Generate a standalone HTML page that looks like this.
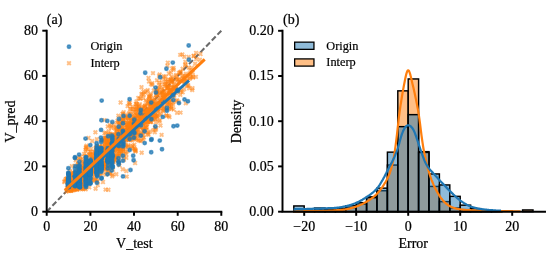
<!DOCTYPE html>
<html><head><meta charset="utf-8"><title>figure</title>
<style>html,body{margin:0;padding:0;background:#fff;overflow:hidden}body{width:550px;height:255px;position:relative}</style>
</head><body>
<svg width="550" height="255" viewBox="0 0 550 255" style="display:block;position:absolute;left:0;top:0">
<rect width="550" height="255" fill="#fff"/>
<path d="M46.7,211.7L221.3,30.7" stroke="#6a6a6a" stroke-width="2.05" stroke-dasharray="5.6,2.6" fill="none"/>
<g fill="none" stroke="#ff7f0e" stroke-opacity="0.5" stroke-width="1.9">
<path d="M143.2,119.3m-1.8-1.8l3.6 3.6m-3.6 0l3.6-3.6"/>
<path d="M76.7,175.2m-1.8-1.8l3.6 3.6m-3.6 0l3.6-3.6"/>
<path d="M89.1,169.9m-1.8-1.8l3.6 3.6m-3.6 0l3.6-3.6"/>
<path d="M133.2,135.5m-1.8-1.8l3.6 3.6m-3.6 0l3.6-3.6"/>
<path d="M121.7,134.5m-1.8-1.8l3.6 3.6m-3.6 0l3.6-3.6"/>
<path d="M121.6,151.6m-1.8-1.8l3.6 3.6m-3.6 0l3.6-3.6"/>
<path d="M128.7,124.4m-1.8-1.8l3.6 3.6m-3.6 0l3.6-3.6"/>
<path d="M117.1,153.3m-1.8-1.8l3.6 3.6m-3.6 0l3.6-3.6"/>
<path d="M120.1,128.3m-1.8-1.8l3.6 3.6m-3.6 0l3.6-3.6"/>
<path d="M103.9,158.0m-1.8-1.8l3.6 3.6m-3.6 0l3.6-3.6"/>
<path d="M75.1,165.8m-1.8-1.8l3.6 3.6m-3.6 0l3.6-3.6"/>
<path d="M133.2,119.3m-1.8-1.8l3.6 3.6m-3.6 0l3.6-3.6"/>
<path d="M99.7,146.0m-1.8-1.8l3.6 3.6m-3.6 0l3.6-3.6"/>
<path d="M131.2,134.6m-1.8-1.8l3.6 3.6m-3.6 0l3.6-3.6"/>
<path d="M119.8,137.4m-1.8-1.8l3.6 3.6m-3.6 0l3.6-3.6"/>
<path d="M85.7,165.5m-1.8-1.8l3.6 3.6m-3.6 0l3.6-3.6"/>
<path d="M128.3,146.6m-1.8-1.8l3.6 3.6m-3.6 0l3.6-3.6"/>
<path d="M125.7,143.0m-1.8-1.8l3.6 3.6m-3.6 0l3.6-3.6"/>
<path d="M132.0,120.1m-1.8-1.8l3.6 3.6m-3.6 0l3.6-3.6"/>
<path d="M156.6,116.3m-1.8-1.8l3.6 3.6m-3.6 0l3.6-3.6"/>
<path d="M129.6,136.7m-1.8-1.8l3.6 3.6m-3.6 0l3.6-3.6"/>
<path d="M123.1,150.5m-1.8-1.8l3.6 3.6m-3.6 0l3.6-3.6"/>
<path d="M119.7,149.2m-1.8-1.8l3.6 3.6m-3.6 0l3.6-3.6"/>
<path d="M85.8,177.9m-1.8-1.8l3.6 3.6m-3.6 0l3.6-3.6"/>
<path d="M168.6,115.9m-1.8-1.8l3.6 3.6m-3.6 0l3.6-3.6"/>
<path d="M159.6,113.7m-1.8-1.8l3.6 3.6m-3.6 0l3.6-3.6"/>
<path d="M155.5,119.1m-1.8-1.8l3.6 3.6m-3.6 0l3.6-3.6"/>
<path d="M82.9,159.4m-1.8-1.8l3.6 3.6m-3.6 0l3.6-3.6"/>
<path d="M166.3,115.4m-1.8-1.8l3.6 3.6m-3.6 0l3.6-3.6"/>
<path d="M88.5,178.9m-1.8-1.8l3.6 3.6m-3.6 0l3.6-3.6"/>
<path d="M105.6,132.7m-1.8-1.8l3.6 3.6m-3.6 0l3.6-3.6"/>
<path d="M127.6,122.9m-1.8-1.8l3.6 3.6m-3.6 0l3.6-3.6"/>
<path d="M81.9,175.7m-1.8-1.8l3.6 3.6m-3.6 0l3.6-3.6"/>
<path d="M176.4,78.0m-1.8-1.8l3.6 3.6m-3.6 0l3.6-3.6"/>
<path d="M116.6,137.7m-1.8-1.8l3.6 3.6m-3.6 0l3.6-3.6"/>
<path d="M135.6,132.5m-1.8-1.8l3.6 3.6m-3.6 0l3.6-3.6"/>
<path d="M134.3,144.7m-1.8-1.8l3.6 3.6m-3.6 0l3.6-3.6"/>
<path d="M131.3,138.1m-1.8-1.8l3.6 3.6m-3.6 0l3.6-3.6"/>
<path d="M83.0,173.3m-1.8-1.8l3.6 3.6m-3.6 0l3.6-3.6"/>
<path d="M92.7,164.3m-1.8-1.8l3.6 3.6m-3.6 0l3.6-3.6"/>
<path d="M99.9,164.4m-1.8-1.8l3.6 3.6m-3.6 0l3.6-3.6"/>
<path d="M118.7,129.2m-1.8-1.8l3.6 3.6m-3.6 0l3.6-3.6"/>
<path d="M150.7,121.7m-1.8-1.8l3.6 3.6m-3.6 0l3.6-3.6"/>
<path d="M119.5,129.3m-1.8-1.8l3.6 3.6m-3.6 0l3.6-3.6"/>
<path d="M77.2,182.4m-1.8-1.8l3.6 3.6m-3.6 0l3.6-3.6"/>
<path d="M104.0,154.9m-1.8-1.8l3.6 3.6m-3.6 0l3.6-3.6"/>
<path d="M71.2,190.8m-1.8-1.8l3.6 3.6m-3.6 0l3.6-3.6"/>
<path d="M105.8,151.9m-1.8-1.8l3.6 3.6m-3.6 0l3.6-3.6"/>
<path d="M98.4,166.2m-1.8-1.8l3.6 3.6m-3.6 0l3.6-3.6"/>
<path d="M117.6,120.7m-1.8-1.8l3.6 3.6m-3.6 0l3.6-3.6"/>
<path d="M103.0,154.7m-1.8-1.8l3.6 3.6m-3.6 0l3.6-3.6"/>
<path d="M96.9,139.2m-1.8-1.8l3.6 3.6m-3.6 0l3.6-3.6"/>
<path d="M143.8,107.1m-1.8-1.8l3.6 3.6m-3.6 0l3.6-3.6"/>
<path d="M169.5,117.1m-1.8-1.8l3.6 3.6m-3.6 0l3.6-3.6"/>
<path d="M124.7,145.5m-1.8-1.8l3.6 3.6m-3.6 0l3.6-3.6"/>
<path d="M114.4,150.3m-1.8-1.8l3.6 3.6m-3.6 0l3.6-3.6"/>
<path d="M177.1,112.8m-1.8-1.8l3.6 3.6m-3.6 0l3.6-3.6"/>
<path d="M182.7,92.4m-1.8-1.8l3.6 3.6m-3.6 0l3.6-3.6"/>
<path d="M67.0,179.3m-1.8-1.8l3.6 3.6m-3.6 0l3.6-3.6"/>
<path d="M104.5,138.3m-1.8-1.8l3.6 3.6m-3.6 0l3.6-3.6"/>
<path d="M104.9,145.3m-1.8-1.8l3.6 3.6m-3.6 0l3.6-3.6"/>
<path d="M129.2,126.6m-1.8-1.8l3.6 3.6m-3.6 0l3.6-3.6"/>
<path d="M199.9,59.8m-1.8-1.8l3.6 3.6m-3.6 0l3.6-3.6"/>
<path d="M68.8,183.1m-1.8-1.8l3.6 3.6m-3.6 0l3.6-3.6"/>
<path d="M70.4,183.5m-1.8-1.8l3.6 3.6m-3.6 0l3.6-3.6"/>
<path d="M171.8,99.8m-1.8-1.8l3.6 3.6m-3.6 0l3.6-3.6"/>
<path d="M120.4,125.1m-1.8-1.8l3.6 3.6m-3.6 0l3.6-3.6"/>
<path d="M99.6,146.6m-1.8-1.8l3.6 3.6m-3.6 0l3.6-3.6"/>
<path d="M111.1,144.4m-1.8-1.8l3.6 3.6m-3.6 0l3.6-3.6"/>
<path d="M76.1,182.1m-1.8-1.8l3.6 3.6m-3.6 0l3.6-3.6"/>
<path d="M139.6,124.5m-1.8-1.8l3.6 3.6m-3.6 0l3.6-3.6"/>
<path d="M83.1,187.7m-1.8-1.8l3.6 3.6m-3.6 0l3.6-3.6"/>
<path d="M104.5,120.1m-1.8-1.8l3.6 3.6m-3.6 0l3.6-3.6"/>
<path d="M105.7,141.4m-1.8-1.8l3.6 3.6m-3.6 0l3.6-3.6"/>
<path d="M155.9,103.3m-1.8-1.8l3.6 3.6m-3.6 0l3.6-3.6"/>
<path d="M130.2,134.1m-1.8-1.8l3.6 3.6m-3.6 0l3.6-3.6"/>
<path d="M83.4,174.7m-1.8-1.8l3.6 3.6m-3.6 0l3.6-3.6"/>
<path d="M131.0,109.2m-1.8-1.8l3.6 3.6m-3.6 0l3.6-3.6"/>
<path d="M96.1,155.6m-1.8-1.8l3.6 3.6m-3.6 0l3.6-3.6"/>
<path d="M111.4,153.9m-1.8-1.8l3.6 3.6m-3.6 0l3.6-3.6"/>
<path d="M149.1,96.1m-1.8-1.8l3.6 3.6m-3.6 0l3.6-3.6"/>
<path d="M90.3,179.6m-1.8-1.8l3.6 3.6m-3.6 0l3.6-3.6"/>
<path d="M110.7,133.8m-1.8-1.8l3.6 3.6m-3.6 0l3.6-3.6"/>
<path d="M154.6,103.2m-1.8-1.8l3.6 3.6m-3.6 0l3.6-3.6"/>
<path d="M83.1,174.8m-1.8-1.8l3.6 3.6m-3.6 0l3.6-3.6"/>
<path d="M163.9,91.1m-1.8-1.8l3.6 3.6m-3.6 0l3.6-3.6"/>
<path d="M136.2,107.2m-1.8-1.8l3.6 3.6m-3.6 0l3.6-3.6"/>
<path d="M91.2,169.6m-1.8-1.8l3.6 3.6m-3.6 0l3.6-3.6"/>
<path d="M103.8,163.4m-1.8-1.8l3.6 3.6m-3.6 0l3.6-3.6"/>
<path d="M152.2,84.9m-1.8-1.8l3.6 3.6m-3.6 0l3.6-3.6"/>
<path d="M137.4,122.2m-1.8-1.8l3.6 3.6m-3.6 0l3.6-3.6"/>
<path d="M129.6,112.9m-1.8-1.8l3.6 3.6m-3.6 0l3.6-3.6"/>
<path d="M131.5,135.4m-1.8-1.8l3.6 3.6m-3.6 0l3.6-3.6"/>
<path d="M116.9,137.4m-1.8-1.8l3.6 3.6m-3.6 0l3.6-3.6"/>
<path d="M132.1,134.4m-1.8-1.8l3.6 3.6m-3.6 0l3.6-3.6"/>
<path d="M85.8,151.0m-1.8-1.8l3.6 3.6m-3.6 0l3.6-3.6"/>
<path d="M184.0,81.7m-1.8-1.8l3.6 3.6m-3.6 0l3.6-3.6"/>
<path d="M80.3,156.9m-1.8-1.8l3.6 3.6m-3.6 0l3.6-3.6"/>
<path d="M123.7,117.8m-1.8-1.8l3.6 3.6m-3.6 0l3.6-3.6"/>
<path d="M118.5,136.3m-1.8-1.8l3.6 3.6m-3.6 0l3.6-3.6"/>
<path d="M153.4,130.1m-1.8-1.8l3.6 3.6m-3.6 0l3.6-3.6"/>
<path d="M146.7,116.2m-1.8-1.8l3.6 3.6m-3.6 0l3.6-3.6"/>
<path d="M138.5,132.3m-1.8-1.8l3.6 3.6m-3.6 0l3.6-3.6"/>
<path d="M173.3,102.3m-1.8-1.8l3.6 3.6m-3.6 0l3.6-3.6"/>
<path d="M80.1,180.7m-1.8-1.8l3.6 3.6m-3.6 0l3.6-3.6"/>
<path d="M69.7,175.2m-1.8-1.8l3.6 3.6m-3.6 0l3.6-3.6"/>
<path d="M138.7,120.7m-1.8-1.8l3.6 3.6m-3.6 0l3.6-3.6"/>
<path d="M111.3,155.0m-1.8-1.8l3.6 3.6m-3.6 0l3.6-3.6"/>
<path d="M166.6,115.8m-1.8-1.8l3.6 3.6m-3.6 0l3.6-3.6"/>
<path d="M142.7,123.4m-1.8-1.8l3.6 3.6m-3.6 0l3.6-3.6"/>
<path d="M141.4,108.7m-1.8-1.8l3.6 3.6m-3.6 0l3.6-3.6"/>
<path d="M109.3,162.6m-1.8-1.8l3.6 3.6m-3.6 0l3.6-3.6"/>
<path d="M89.6,161.7m-1.8-1.8l3.6 3.6m-3.6 0l3.6-3.6"/>
<path d="M76.6,175.8m-1.8-1.8l3.6 3.6m-3.6 0l3.6-3.6"/>
<path d="M173.8,93.3m-1.8-1.8l3.6 3.6m-3.6 0l3.6-3.6"/>
<path d="M103.8,150.8m-1.8-1.8l3.6 3.6m-3.6 0l3.6-3.6"/>
<path d="M112.9,153.2m-1.8-1.8l3.6 3.6m-3.6 0l3.6-3.6"/>
<path d="M131.7,132.2m-1.8-1.8l3.6 3.6m-3.6 0l3.6-3.6"/>
<path d="M143.6,128.0m-1.8-1.8l3.6 3.6m-3.6 0l3.6-3.6"/>
<path d="M139.6,115.0m-1.8-1.8l3.6 3.6m-3.6 0l3.6-3.6"/>
<path d="M158.1,87.6m-1.8-1.8l3.6 3.6m-3.6 0l3.6-3.6"/>
<path d="M104.1,160.2m-1.8-1.8l3.6 3.6m-3.6 0l3.6-3.6"/>
<path d="M137.5,108.8m-1.8-1.8l3.6 3.6m-3.6 0l3.6-3.6"/>
<path d="M168.6,109.3m-1.8-1.8l3.6 3.6m-3.6 0l3.6-3.6"/>
<path d="M85.3,167.5m-1.8-1.8l3.6 3.6m-3.6 0l3.6-3.6"/>
<path d="M108.1,160.0m-1.8-1.8l3.6 3.6m-3.6 0l3.6-3.6"/>
<path d="M165.6,76.8m-1.8-1.8l3.6 3.6m-3.6 0l3.6-3.6"/>
<path d="M90.8,171.2m-1.8-1.8l3.6 3.6m-3.6 0l3.6-3.6"/>
<path d="M101.3,158.1m-1.8-1.8l3.6 3.6m-3.6 0l3.6-3.6"/>
<path d="M155.8,128.1m-1.8-1.8l3.6 3.6m-3.6 0l3.6-3.6"/>
<path d="M153.0,106.5m-1.8-1.8l3.6 3.6m-3.6 0l3.6-3.6"/>
<path d="M162.3,92.7m-1.8-1.8l3.6 3.6m-3.6 0l3.6-3.6"/>
<path d="M113.6,145.1m-1.8-1.8l3.6 3.6m-3.6 0l3.6-3.6"/>
<path d="M180.5,112.6m-1.8-1.8l3.6 3.6m-3.6 0l3.6-3.6"/>
<path d="M179.3,81.5m-1.8-1.8l3.6 3.6m-3.6 0l3.6-3.6"/>
<path d="M144.8,106.3m-1.8-1.8l3.6 3.6m-3.6 0l3.6-3.6"/>
<path d="M111.2,127.9m-1.8-1.8l3.6 3.6m-3.6 0l3.6-3.6"/>
<path d="M87.4,165.8m-1.8-1.8l3.6 3.6m-3.6 0l3.6-3.6"/>
<path d="M159.8,120.4m-1.8-1.8l3.6 3.6m-3.6 0l3.6-3.6"/>
<path d="M156.3,107.1m-1.8-1.8l3.6 3.6m-3.6 0l3.6-3.6"/>
<path d="M148.9,101.4m-1.8-1.8l3.6 3.6m-3.6 0l3.6-3.6"/>
<path d="M71.2,190.4m-1.8-1.8l3.6 3.6m-3.6 0l3.6-3.6"/>
<path d="M90.2,161.6m-1.8-1.8l3.6 3.6m-3.6 0l3.6-3.6"/>
<path d="M92.3,160.2m-1.8-1.8l3.6 3.6m-3.6 0l3.6-3.6"/>
<path d="M97.4,159.0m-1.8-1.8l3.6 3.6m-3.6 0l3.6-3.6"/>
<path d="M150.6,101.5m-1.8-1.8l3.6 3.6m-3.6 0l3.6-3.6"/>
<path d="M140.4,127.6m-1.8-1.8l3.6 3.6m-3.6 0l3.6-3.6"/>
<path d="M86.5,145.8m-1.8-1.8l3.6 3.6m-3.6 0l3.6-3.6"/>
<path d="M144.3,129.3m-1.8-1.8l3.6 3.6m-3.6 0l3.6-3.6"/>
<path d="M150.1,106.6m-1.8-1.8l3.6 3.6m-3.6 0l3.6-3.6"/>
<path d="M112.2,176.3m-1.8-1.8l3.6 3.6m-3.6 0l3.6-3.6"/>
<path d="M77.9,177.6m-1.8-1.8l3.6 3.6m-3.6 0l3.6-3.6"/>
<path d="M95.7,163.9m-1.8-1.8l3.6 3.6m-3.6 0l3.6-3.6"/>
<path d="M69.0,185.1m-1.8-1.8l3.6 3.6m-3.6 0l3.6-3.6"/>
<path d="M156.4,110.5m-1.8-1.8l3.6 3.6m-3.6 0l3.6-3.6"/>
<path d="M131.8,124.4m-1.8-1.8l3.6 3.6m-3.6 0l3.6-3.6"/>
<path d="M140.3,120.6m-1.8-1.8l3.6 3.6m-3.6 0l3.6-3.6"/>
<path d="M69.7,178.1m-1.8-1.8l3.6 3.6m-3.6 0l3.6-3.6"/>
<path d="M73.6,176.0m-1.8-1.8l3.6 3.6m-3.6 0l3.6-3.6"/>
<path d="M176.2,89.5m-1.8-1.8l3.6 3.6m-3.6 0l3.6-3.6"/>
<path d="M114.9,144.2m-1.8-1.8l3.6 3.6m-3.6 0l3.6-3.6"/>
<path d="M106.8,144.9m-1.8-1.8l3.6 3.6m-3.6 0l3.6-3.6"/>
<path d="M86.3,180.8m-1.8-1.8l3.6 3.6m-3.6 0l3.6-3.6"/>
<path d="M122.6,129.6m-1.8-1.8l3.6 3.6m-3.6 0l3.6-3.6"/>
<path d="M130.0,132.7m-1.8-1.8l3.6 3.6m-3.6 0l3.6-3.6"/>
<path d="M142.6,123.2m-1.8-1.8l3.6 3.6m-3.6 0l3.6-3.6"/>
<path d="M153.5,108.9m-1.8-1.8l3.6 3.6m-3.6 0l3.6-3.6"/>
<path d="M166.7,84.0m-1.8-1.8l3.6 3.6m-3.6 0l3.6-3.6"/>
<path d="M73.9,177.7m-1.8-1.8l3.6 3.6m-3.6 0l3.6-3.6"/>
<path d="M171.0,81.6m-1.8-1.8l3.6 3.6m-3.6 0l3.6-3.6"/>
<path d="M79.0,182.6m-1.8-1.8l3.6 3.6m-3.6 0l3.6-3.6"/>
<path d="M145.9,117.7m-1.8-1.8l3.6 3.6m-3.6 0l3.6-3.6"/>
<path d="M71.0,189.1m-1.8-1.8l3.6 3.6m-3.6 0l3.6-3.6"/>
<path d="M86.3,177.7m-1.8-1.8l3.6 3.6m-3.6 0l3.6-3.6"/>
<path d="M77.4,181.7m-1.8-1.8l3.6 3.6m-3.6 0l3.6-3.6"/>
<path d="M101.8,160.3m-1.8-1.8l3.6 3.6m-3.6 0l3.6-3.6"/>
<path d="M141.8,110.2m-1.8-1.8l3.6 3.6m-3.6 0l3.6-3.6"/>
<path d="M134.3,120.5m-1.8-1.8l3.6 3.6m-3.6 0l3.6-3.6"/>
<path d="M134.5,116.5m-1.8-1.8l3.6 3.6m-3.6 0l3.6-3.6"/>
<path d="M82.2,173.1m-1.8-1.8l3.6 3.6m-3.6 0l3.6-3.6"/>
<path d="M148.5,99.9m-1.8-1.8l3.6 3.6m-3.6 0l3.6-3.6"/>
<path d="M119.0,138.3m-1.8-1.8l3.6 3.6m-3.6 0l3.6-3.6"/>
<path d="M78.9,172.4m-1.8-1.8l3.6 3.6m-3.6 0l3.6-3.6"/>
<path d="M130.9,122.8m-1.8-1.8l3.6 3.6m-3.6 0l3.6-3.6"/>
<path d="M163.3,94.9m-1.8-1.8l3.6 3.6m-3.6 0l3.6-3.6"/>
<path d="M140.5,120.2m-1.8-1.8l3.6 3.6m-3.6 0l3.6-3.6"/>
<path d="M76.5,189.0m-1.8-1.8l3.6 3.6m-3.6 0l3.6-3.6"/>
<path d="M105.9,166.4m-1.8-1.8l3.6 3.6m-3.6 0l3.6-3.6"/>
<path d="M111.5,126.2m-1.8-1.8l3.6 3.6m-3.6 0l3.6-3.6"/>
<path d="M104.8,149.0m-1.8-1.8l3.6 3.6m-3.6 0l3.6-3.6"/>
<path d="M135.7,118.9m-1.8-1.8l3.6 3.6m-3.6 0l3.6-3.6"/>
<path d="M116.7,143.6m-1.8-1.8l3.6 3.6m-3.6 0l3.6-3.6"/>
<path d="M157.4,108.8m-1.8-1.8l3.6 3.6m-3.6 0l3.6-3.6"/>
<path d="M182.3,54.4m-1.8-1.8l3.6 3.6m-3.6 0l3.6-3.6"/>
<path d="M96.0,171.5m-1.8-1.8l3.6 3.6m-3.6 0l3.6-3.6"/>
<path d="M71.2,184.9m-1.8-1.8l3.6 3.6m-3.6 0l3.6-3.6"/>
<path d="M115.2,143.7m-1.8-1.8l3.6 3.6m-3.6 0l3.6-3.6"/>
<path d="M83.3,182.5m-1.8-1.8l3.6 3.6m-3.6 0l3.6-3.6"/>
<path d="M119.4,165.3m-1.8-1.8l3.6 3.6m-3.6 0l3.6-3.6"/>
<path d="M108.1,160.5m-1.8-1.8l3.6 3.6m-3.6 0l3.6-3.6"/>
<path d="M171.6,94.2m-1.8-1.8l3.6 3.6m-3.6 0l3.6-3.6"/>
<path d="M71.1,188.1m-1.8-1.8l3.6 3.6m-3.6 0l3.6-3.6"/>
<path d="M80.7,168.9m-1.8-1.8l3.6 3.6m-3.6 0l3.6-3.6"/>
<path d="M155.4,118.8m-1.8-1.8l3.6 3.6m-3.6 0l3.6-3.6"/>
<path d="M104.6,149.1m-1.8-1.8l3.6 3.6m-3.6 0l3.6-3.6"/>
<path d="M66.4,178.7m-1.8-1.8l3.6 3.6m-3.6 0l3.6-3.6"/>
<path d="M95.6,188.7m-1.8-1.8l3.6 3.6m-3.6 0l3.6-3.6"/>
<path d="M171.4,103.4m-1.8-1.8l3.6 3.6m-3.6 0l3.6-3.6"/>
<path d="M116.3,174.2m-1.8-1.8l3.6 3.6m-3.6 0l3.6-3.6"/>
<path d="M112.4,136.9m-1.8-1.8l3.6 3.6m-3.6 0l3.6-3.6"/>
<path d="M81.9,170.4m-1.8-1.8l3.6 3.6m-3.6 0l3.6-3.6"/>
<path d="M106.6,164.2m-1.8-1.8l3.6 3.6m-3.6 0l3.6-3.6"/>
<path d="M133.3,111.7m-1.8-1.8l3.6 3.6m-3.6 0l3.6-3.6"/>
<path d="M79.6,179.7m-1.8-1.8l3.6 3.6m-3.6 0l3.6-3.6"/>
<path d="M130.3,127.8m-1.8-1.8l3.6 3.6m-3.6 0l3.6-3.6"/>
<path d="M157.2,115.6m-1.8-1.8l3.6 3.6m-3.6 0l3.6-3.6"/>
<path d="M160.1,97.5m-1.8-1.8l3.6 3.6m-3.6 0l3.6-3.6"/>
<path d="M114.0,144.9m-1.8-1.8l3.6 3.6m-3.6 0l3.6-3.6"/>
<path d="M84.1,176.5m-1.8-1.8l3.6 3.6m-3.6 0l3.6-3.6"/>
<path d="M95.3,151.9m-1.8-1.8l3.6 3.6m-3.6 0l3.6-3.6"/>
<path d="M103.0,152.5m-1.8-1.8l3.6 3.6m-3.6 0l3.6-3.6"/>
<path d="M170.4,91.2m-1.8-1.8l3.6 3.6m-3.6 0l3.6-3.6"/>
<path d="M94.6,156.1m-1.8-1.8l3.6 3.6m-3.6 0l3.6-3.6"/>
<path d="M91.5,157.9m-1.8-1.8l3.6 3.6m-3.6 0l3.6-3.6"/>
<path d="M98.5,166.7m-1.8-1.8l3.6 3.6m-3.6 0l3.6-3.6"/>
<path d="M96.7,164.2m-1.8-1.8l3.6 3.6m-3.6 0l3.6-3.6"/>
<path d="M95.2,161.4m-1.8-1.8l3.6 3.6m-3.6 0l3.6-3.6"/>
<path d="M137.4,125.2m-1.8-1.8l3.6 3.6m-3.6 0l3.6-3.6"/>
<path d="M82.4,172.9m-1.8-1.8l3.6 3.6m-3.6 0l3.6-3.6"/>
<path d="M92.0,159.1m-1.8-1.8l3.6 3.6m-3.6 0l3.6-3.6"/>
<path d="M104.4,158.2m-1.8-1.8l3.6 3.6m-3.6 0l3.6-3.6"/>
<path d="M138.3,98.0m-1.8-1.8l3.6 3.6m-3.6 0l3.6-3.6"/>
<path d="M157.7,111.4m-1.8-1.8l3.6 3.6m-3.6 0l3.6-3.6"/>
<path d="M117.1,147.2m-1.8-1.8l3.6 3.6m-3.6 0l3.6-3.6"/>
<path d="M143.6,94.3m-1.8-1.8l3.6 3.6m-3.6 0l3.6-3.6"/>
<path d="M159.7,74.5m-1.8-1.8l3.6 3.6m-3.6 0l3.6-3.6"/>
<path d="M163.4,97.6m-1.8-1.8l3.6 3.6m-3.6 0l3.6-3.6"/>
<path d="M159.8,103.5m-1.8-1.8l3.6 3.6m-3.6 0l3.6-3.6"/>
<path d="M88.5,177.5m-1.8-1.8l3.6 3.6m-3.6 0l3.6-3.6"/>
<path d="M196.2,59.0m-1.8-1.8l3.6 3.6m-3.6 0l3.6-3.6"/>
<path d="M172.3,87.9m-1.8-1.8l3.6 3.6m-3.6 0l3.6-3.6"/>
<path d="M90.9,173.4m-1.8-1.8l3.6 3.6m-3.6 0l3.6-3.6"/>
<path d="M99.1,173.4m-1.8-1.8l3.6 3.6m-3.6 0l3.6-3.6"/>
<path d="M120.4,123.0m-1.8-1.8l3.6 3.6m-3.6 0l3.6-3.6"/>
<path d="M109.9,141.0m-1.8-1.8l3.6 3.6m-3.6 0l3.6-3.6"/>
<path d="M150.7,104.6m-1.8-1.8l3.6 3.6m-3.6 0l3.6-3.6"/>
<path d="M116.9,129.0m-1.8-1.8l3.6 3.6m-3.6 0l3.6-3.6"/>
<path d="M135.4,119.2m-1.8-1.8l3.6 3.6m-3.6 0l3.6-3.6"/>
<path d="M109.2,157.9m-1.8-1.8l3.6 3.6m-3.6 0l3.6-3.6"/>
<path d="M81.0,170.7m-1.8-1.8l3.6 3.6m-3.6 0l3.6-3.6"/>
<path d="M71.6,175.1m-1.8-1.8l3.6 3.6m-3.6 0l3.6-3.6"/>
<path d="M139.9,110.3m-1.8-1.8l3.6 3.6m-3.6 0l3.6-3.6"/>
<path d="M104.7,142.5m-1.8-1.8l3.6 3.6m-3.6 0l3.6-3.6"/>
<path d="M131.2,125.7m-1.8-1.8l3.6 3.6m-3.6 0l3.6-3.6"/>
<path d="M87.3,162.7m-1.8-1.8l3.6 3.6m-3.6 0l3.6-3.6"/>
<path d="M136.4,109.6m-1.8-1.8l3.6 3.6m-3.6 0l3.6-3.6"/>
<path d="M128.6,132.5m-1.8-1.8l3.6 3.6m-3.6 0l3.6-3.6"/>
<path d="M169.4,107.1m-1.8-1.8l3.6 3.6m-3.6 0l3.6-3.6"/>
<path d="M90.1,164.2m-1.8-1.8l3.6 3.6m-3.6 0l3.6-3.6"/>
<path d="M167.8,87.5m-1.8-1.8l3.6 3.6m-3.6 0l3.6-3.6"/>
<path d="M162.0,104.3m-1.8-1.8l3.6 3.6m-3.6 0l3.6-3.6"/>
<path d="M93.4,161.4m-1.8-1.8l3.6 3.6m-3.6 0l3.6-3.6"/>
<path d="M97.3,162.2m-1.8-1.8l3.6 3.6m-3.6 0l3.6-3.6"/>
<path d="M107.4,167.8m-1.8-1.8l3.6 3.6m-3.6 0l3.6-3.6"/>
<path d="M104.9,154.7m-1.8-1.8l3.6 3.6m-3.6 0l3.6-3.6"/>
<path d="M146.3,130.2m-1.8-1.8l3.6 3.6m-3.6 0l3.6-3.6"/>
<path d="M99.8,155.7m-1.8-1.8l3.6 3.6m-3.6 0l3.6-3.6"/>
<path d="M128.9,131.6m-1.8-1.8l3.6 3.6m-3.6 0l3.6-3.6"/>
<path d="M94.5,152.2m-1.8-1.8l3.6 3.6m-3.6 0l3.6-3.6"/>
<path d="M99.9,158.7m-1.8-1.8l3.6 3.6m-3.6 0l3.6-3.6"/>
<path d="M108.7,145.4m-1.8-1.8l3.6 3.6m-3.6 0l3.6-3.6"/>
<path d="M165.1,99.8m-1.8-1.8l3.6 3.6m-3.6 0l3.6-3.6"/>
<path d="M103.9,157.5m-1.8-1.8l3.6 3.6m-3.6 0l3.6-3.6"/>
<path d="M119.0,155.0m-1.8-1.8l3.6 3.6m-3.6 0l3.6-3.6"/>
<path d="M171.5,76.7m-1.8-1.8l3.6 3.6m-3.6 0l3.6-3.6"/>
<path d="M73.3,181.2m-1.8-1.8l3.6 3.6m-3.6 0l3.6-3.6"/>
<path d="M115.7,149.0m-1.8-1.8l3.6 3.6m-3.6 0l3.6-3.6"/>
<path d="M116.6,139.6m-1.8-1.8l3.6 3.6m-3.6 0l3.6-3.6"/>
<path d="M132.2,132.0m-1.8-1.8l3.6 3.6m-3.6 0l3.6-3.6"/>
<path d="M80.7,181.3m-1.8-1.8l3.6 3.6m-3.6 0l3.6-3.6"/>
<path d="M90.5,164.1m-1.8-1.8l3.6 3.6m-3.6 0l3.6-3.6"/>
<path d="M98.1,155.2m-1.8-1.8l3.6 3.6m-3.6 0l3.6-3.6"/>
<path d="M118.1,143.4m-1.8-1.8l3.6 3.6m-3.6 0l3.6-3.6"/>
<path d="M85.9,147.3m-1.8-1.8l3.6 3.6m-3.6 0l3.6-3.6"/>
<path d="M112.6,152.1m-1.8-1.8l3.6 3.6m-3.6 0l3.6-3.6"/>
<path d="M168.9,73.5m-1.8-1.8l3.6 3.6m-3.6 0l3.6-3.6"/>
<path d="M94.5,170.0m-1.8-1.8l3.6 3.6m-3.6 0l3.6-3.6"/>
<path d="M161.2,86.6m-1.8-1.8l3.6 3.6m-3.6 0l3.6-3.6"/>
<path d="M140.1,122.6m-1.8-1.8l3.6 3.6m-3.6 0l3.6-3.6"/>
<path d="M148.8,103.3m-1.8-1.8l3.6 3.6m-3.6 0l3.6-3.6"/>
<path d="M164.4,98.3m-1.8-1.8l3.6 3.6m-3.6 0l3.6-3.6"/>
<path d="M96.9,147.6m-1.8-1.8l3.6 3.6m-3.6 0l3.6-3.6"/>
<path d="M128.1,134.6m-1.8-1.8l3.6 3.6m-3.6 0l3.6-3.6"/>
<path d="M146.9,91.5m-1.8-1.8l3.6 3.6m-3.6 0l3.6-3.6"/>
<path d="M124.8,135.6m-1.8-1.8l3.6 3.6m-3.6 0l3.6-3.6"/>
<path d="M105.2,146.9m-1.8-1.8l3.6 3.6m-3.6 0l3.6-3.6"/>
<path d="M77.9,180.8m-1.8-1.8l3.6 3.6m-3.6 0l3.6-3.6"/>
<path d="M169.8,93.5m-1.8-1.8l3.6 3.6m-3.6 0l3.6-3.6"/>
<path d="M128.6,127.0m-1.8-1.8l3.6 3.6m-3.6 0l3.6-3.6"/>
<path d="M127.3,126.4m-1.8-1.8l3.6 3.6m-3.6 0l3.6-3.6"/>
<path d="M118.4,115.7m-1.8-1.8l3.6 3.6m-3.6 0l3.6-3.6"/>
<path d="M130.9,128.7m-1.8-1.8l3.6 3.6m-3.6 0l3.6-3.6"/>
<path d="M143.2,118.9m-1.8-1.8l3.6 3.6m-3.6 0l3.6-3.6"/>
<path d="M81.9,179.8m-1.8-1.8l3.6 3.6m-3.6 0l3.6-3.6"/>
<path d="M102.0,168.3m-1.8-1.8l3.6 3.6m-3.6 0l3.6-3.6"/>
<path d="M91.3,179.9m-1.8-1.8l3.6 3.6m-3.6 0l3.6-3.6"/>
<path d="M159.9,93.8m-1.8-1.8l3.6 3.6m-3.6 0l3.6-3.6"/>
<path d="M124.0,156.0m-1.8-1.8l3.6 3.6m-3.6 0l3.6-3.6"/>
<path d="M122.1,120.8m-1.8-1.8l3.6 3.6m-3.6 0l3.6-3.6"/>
<path d="M83.1,166.1m-1.8-1.8l3.6 3.6m-3.6 0l3.6-3.6"/>
<path d="M150.7,113.3m-1.8-1.8l3.6 3.6m-3.6 0l3.6-3.6"/>
<path d="M72.7,190.3m-1.8-1.8l3.6 3.6m-3.6 0l3.6-3.6"/>
<path d="M108.1,168.9m-1.8-1.8l3.6 3.6m-3.6 0l3.6-3.6"/>
<path d="M101.2,156.1m-1.8-1.8l3.6 3.6m-3.6 0l3.6-3.6"/>
<path d="M99.5,147.1m-1.8-1.8l3.6 3.6m-3.6 0l3.6-3.6"/>
<path d="M85.4,177.3m-1.8-1.8l3.6 3.6m-3.6 0l3.6-3.6"/>
<path d="M106.6,155.0m-1.8-1.8l3.6 3.6m-3.6 0l3.6-3.6"/>
<path d="M91.1,166.2m-1.8-1.8l3.6 3.6m-3.6 0l3.6-3.6"/>
<path d="M138.7,124.2m-1.8-1.8l3.6 3.6m-3.6 0l3.6-3.6"/>
<path d="M152.5,115.3m-1.8-1.8l3.6 3.6m-3.6 0l3.6-3.6"/>
<path d="M167.0,95.3m-1.8-1.8l3.6 3.6m-3.6 0l3.6-3.6"/>
<path d="M121.2,155.9m-1.8-1.8l3.6 3.6m-3.6 0l3.6-3.6"/>
<path d="M148.8,119.3m-1.8-1.8l3.6 3.6m-3.6 0l3.6-3.6"/>
<path d="M140.5,122.0m-1.8-1.8l3.6 3.6m-3.6 0l3.6-3.6"/>
<path d="M135.0,113.3m-1.8-1.8l3.6 3.6m-3.6 0l3.6-3.6"/>
<path d="M159.1,75.9m-1.8-1.8l3.6 3.6m-3.6 0l3.6-3.6"/>
<path d="M86.4,155.6m-1.8-1.8l3.6 3.6m-3.6 0l3.6-3.6"/>
<path d="M104.7,149.1m-1.8-1.8l3.6 3.6m-3.6 0l3.6-3.6"/>
<path d="M163.9,76.3m-1.8-1.8l3.6 3.6m-3.6 0l3.6-3.6"/>
<path d="M86.2,171.3m-1.8-1.8l3.6 3.6m-3.6 0l3.6-3.6"/>
<path d="M73.5,186.2m-1.8-1.8l3.6 3.6m-3.6 0l3.6-3.6"/>
<path d="M79.3,158.3m-1.8-1.8l3.6 3.6m-3.6 0l3.6-3.6"/>
<path d="M105.9,162.6m-1.8-1.8l3.6 3.6m-3.6 0l3.6-3.6"/>
<path d="M142.1,122.6m-1.8-1.8l3.6 3.6m-3.6 0l3.6-3.6"/>
<path d="M106.2,162.9m-1.8-1.8l3.6 3.6m-3.6 0l3.6-3.6"/>
<path d="M104.8,138.3m-1.8-1.8l3.6 3.6m-3.6 0l3.6-3.6"/>
<path d="M126.6,139.2m-1.8-1.8l3.6 3.6m-3.6 0l3.6-3.6"/>
<path d="M99.9,150.0m-1.8-1.8l3.6 3.6m-3.6 0l3.6-3.6"/>
<path d="M126.1,137.5m-1.8-1.8l3.6 3.6m-3.6 0l3.6-3.6"/>
<path d="M157.8,117.1m-1.8-1.8l3.6 3.6m-3.6 0l3.6-3.6"/>
<path d="M168.5,90.6m-1.8-1.8l3.6 3.6m-3.6 0l3.6-3.6"/>
<path d="M92.8,162.6m-1.8-1.8l3.6 3.6m-3.6 0l3.6-3.6"/>
<path d="M73.8,189.3m-1.8-1.8l3.6 3.6m-3.6 0l3.6-3.6"/>
<path d="M150.0,120.3m-1.8-1.8l3.6 3.6m-3.6 0l3.6-3.6"/>
<path d="M70.7,190.6m-1.8-1.8l3.6 3.6m-3.6 0l3.6-3.6"/>
<path d="M119.6,128.3m-1.8-1.8l3.6 3.6m-3.6 0l3.6-3.6"/>
<path d="M130.1,123.9m-1.8-1.8l3.6 3.6m-3.6 0l3.6-3.6"/>
<path d="M94.3,160.6m-1.8-1.8l3.6 3.6m-3.6 0l3.6-3.6"/>
<path d="M96.1,156.4m-1.8-1.8l3.6 3.6m-3.6 0l3.6-3.6"/>
<path d="M93.9,167.4m-1.8-1.8l3.6 3.6m-3.6 0l3.6-3.6"/>
<path d="M151.0,104.2m-1.8-1.8l3.6 3.6m-3.6 0l3.6-3.6"/>
<path d="M164.8,103.4m-1.8-1.8l3.6 3.6m-3.6 0l3.6-3.6"/>
<path d="M176.4,100.9m-1.8-1.8l3.6 3.6m-3.6 0l3.6-3.6"/>
<path d="M134.4,133.1m-1.8-1.8l3.6 3.6m-3.6 0l3.6-3.6"/>
<path d="M143.5,114.3m-1.8-1.8l3.6 3.6m-3.6 0l3.6-3.6"/>
<path d="M127.5,130.6m-1.8-1.8l3.6 3.6m-3.6 0l3.6-3.6"/>
<path d="M87.0,160.5m-1.8-1.8l3.6 3.6m-3.6 0l3.6-3.6"/>
<path d="M192.2,90.1m-1.8-1.8l3.6 3.6m-3.6 0l3.6-3.6"/>
<path d="M117.8,143.1m-1.8-1.8l3.6 3.6m-3.6 0l3.6-3.6"/>
<path d="M127.1,127.5m-1.8-1.8l3.6 3.6m-3.6 0l3.6-3.6"/>
<path d="M156.2,115.6m-1.8-1.8l3.6 3.6m-3.6 0l3.6-3.6"/>
<path d="M125.9,130.3m-1.8-1.8l3.6 3.6m-3.6 0l3.6-3.6"/>
<path d="M170.1,96.3m-1.8-1.8l3.6 3.6m-3.6 0l3.6-3.6"/>
<path d="M163.3,110.8m-1.8-1.8l3.6 3.6m-3.6 0l3.6-3.6"/>
<path d="M176.3,74.9m-1.8-1.8l3.6 3.6m-3.6 0l3.6-3.6"/>
<path d="M107.0,164.9m-1.8-1.8l3.6 3.6m-3.6 0l3.6-3.6"/>
<path d="M180.3,94.8m-1.8-1.8l3.6 3.6m-3.6 0l3.6-3.6"/>
<path d="M118.2,144.9m-1.8-1.8l3.6 3.6m-3.6 0l3.6-3.6"/>
<path d="M135.2,135.0m-1.8-1.8l3.6 3.6m-3.6 0l3.6-3.6"/>
<path d="M85.8,178.2m-1.8-1.8l3.6 3.6m-3.6 0l3.6-3.6"/>
<path d="M120.1,146.7m-1.8-1.8l3.6 3.6m-3.6 0l3.6-3.6"/>
<path d="M107.5,158.9m-1.8-1.8l3.6 3.6m-3.6 0l3.6-3.6"/>
<path d="M148.5,78.0m-1.8-1.8l3.6 3.6m-3.6 0l3.6-3.6"/>
<path d="M173.6,109.5m-1.8-1.8l3.6 3.6m-3.6 0l3.6-3.6"/>
<path d="M182.6,68.8m-1.8-1.8l3.6 3.6m-3.6 0l3.6-3.6"/>
<path d="M144.9,105.8m-1.8-1.8l3.6 3.6m-3.6 0l3.6-3.6"/>
<path d="M200.5,54.0m-1.8-1.8l3.6 3.6m-3.6 0l3.6-3.6"/>
<path d="M133.5,137.0m-1.8-1.8l3.6 3.6m-3.6 0l3.6-3.6"/>
<path d="M109.5,172.3m-1.8-1.8l3.6 3.6m-3.6 0l3.6-3.6"/>
<path d="M97.6,165.5m-1.8-1.8l3.6 3.6m-3.6 0l3.6-3.6"/>
<path d="M81.5,176.1m-1.8-1.8l3.6 3.6m-3.6 0l3.6-3.6"/>
<path d="M173.7,85.2m-1.8-1.8l3.6 3.6m-3.6 0l3.6-3.6"/>
<path d="M167.0,100.5m-1.8-1.8l3.6 3.6m-3.6 0l3.6-3.6"/>
<path d="M92.1,165.5m-1.8-1.8l3.6 3.6m-3.6 0l3.6-3.6"/>
<path d="M127.5,129.8m-1.8-1.8l3.6 3.6m-3.6 0l3.6-3.6"/>
<path d="M71.7,186.4m-1.8-1.8l3.6 3.6m-3.6 0l3.6-3.6"/>
<path d="M162.8,78.1m-1.8-1.8l3.6 3.6m-3.6 0l3.6-3.6"/>
<path d="M164.4,109.7m-1.8-1.8l3.6 3.6m-3.6 0l3.6-3.6"/>
<path d="M172.1,87.1m-1.8-1.8l3.6 3.6m-3.6 0l3.6-3.6"/>
<path d="M165.0,84.3m-1.8-1.8l3.6 3.6m-3.6 0l3.6-3.6"/>
<path d="M78.8,183.4m-1.8-1.8l3.6 3.6m-3.6 0l3.6-3.6"/>
<path d="M169.3,92.4m-1.8-1.8l3.6 3.6m-3.6 0l3.6-3.6"/>
<path d="M79.0,164.0m-1.8-1.8l3.6 3.6m-3.6 0l3.6-3.6"/>
<path d="M147.6,115.9m-1.8-1.8l3.6 3.6m-3.6 0l3.6-3.6"/>
<path d="M156.8,92.2m-1.8-1.8l3.6 3.6m-3.6 0l3.6-3.6"/>
<path d="M115.3,139.8m-1.8-1.8l3.6 3.6m-3.6 0l3.6-3.6"/>
<path d="M97.1,157.9m-1.8-1.8l3.6 3.6m-3.6 0l3.6-3.6"/>
<path d="M111.4,139.2m-1.8-1.8l3.6 3.6m-3.6 0l3.6-3.6"/>
<path d="M190.1,70.1m-1.8-1.8l3.6 3.6m-3.6 0l3.6-3.6"/>
<path d="M138.1,124.0m-1.8-1.8l3.6 3.6m-3.6 0l3.6-3.6"/>
<path d="M95.8,160.5m-1.8-1.8l3.6 3.6m-3.6 0l3.6-3.6"/>
<path d="M76.1,158.1m-1.8-1.8l3.6 3.6m-3.6 0l3.6-3.6"/>
<path d="M126.8,126.5m-1.8-1.8l3.6 3.6m-3.6 0l3.6-3.6"/>
<path d="M81.6,184.3m-1.8-1.8l3.6 3.6m-3.6 0l3.6-3.6"/>
<path d="M120.4,138.0m-1.8-1.8l3.6 3.6m-3.6 0l3.6-3.6"/>
<path d="M83.6,162.6m-1.8-1.8l3.6 3.6m-3.6 0l3.6-3.6"/>
<path d="M93.1,155.7m-1.8-1.8l3.6 3.6m-3.6 0l3.6-3.6"/>
<path d="M130.9,124.5m-1.8-1.8l3.6 3.6m-3.6 0l3.6-3.6"/>
<path d="M142.9,123.0m-1.8-1.8l3.6 3.6m-3.6 0l3.6-3.6"/>
<path d="M175.9,93.0m-1.8-1.8l3.6 3.6m-3.6 0l3.6-3.6"/>
<path d="M152.0,105.0m-1.8-1.8l3.6 3.6m-3.6 0l3.6-3.6"/>
<path d="M123.3,119.4m-1.8-1.8l3.6 3.6m-3.6 0l3.6-3.6"/>
<path d="M142.1,117.3m-1.8-1.8l3.6 3.6m-3.6 0l3.6-3.6"/>
<path d="M87.0,158.3m-1.8-1.8l3.6 3.6m-3.6 0l3.6-3.6"/>
<path d="M109.4,145.4m-1.8-1.8l3.6 3.6m-3.6 0l3.6-3.6"/>
<path d="M136.1,109.9m-1.8-1.8l3.6 3.6m-3.6 0l3.6-3.6"/>
<path d="M120.7,149.0m-1.8-1.8l3.6 3.6m-3.6 0l3.6-3.6"/>
<path d="M108.4,189.8m-1.8-1.8l3.6 3.6m-3.6 0l3.6-3.6"/>
<path d="M103.5,164.5m-1.8-1.8l3.6 3.6m-3.6 0l3.6-3.6"/>
<path d="M126.7,122.9m-1.8-1.8l3.6 3.6m-3.6 0l3.6-3.6"/>
<path d="M132.4,120.4m-1.8-1.8l3.6 3.6m-3.6 0l3.6-3.6"/>
<path d="M86.3,147.3m-1.8-1.8l3.6 3.6m-3.6 0l3.6-3.6"/>
<path d="M148.3,120.4m-1.8-1.8l3.6 3.6m-3.6 0l3.6-3.6"/>
<path d="M88.6,171.8m-1.8-1.8l3.6 3.6m-3.6 0l3.6-3.6"/>
<path d="M85.6,149.5m-1.8-1.8l3.6 3.6m-3.6 0l3.6-3.6"/>
<path d="M87.0,177.4m-1.8-1.8l3.6 3.6m-3.6 0l3.6-3.6"/>
<path d="M136.9,132.4m-1.8-1.8l3.6 3.6m-3.6 0l3.6-3.6"/>
<path d="M89.0,160.8m-1.8-1.8l3.6 3.6m-3.6 0l3.6-3.6"/>
<path d="M106.2,137.5m-1.8-1.8l3.6 3.6m-3.6 0l3.6-3.6"/>
<path d="M178.3,88.9m-1.8-1.8l3.6 3.6m-3.6 0l3.6-3.6"/>
<path d="M112.7,134.5m-1.8-1.8l3.6 3.6m-3.6 0l3.6-3.6"/>
<path d="M149.2,108.7m-1.8-1.8l3.6 3.6m-3.6 0l3.6-3.6"/>
<path d="M153.7,112.9m-1.8-1.8l3.6 3.6m-3.6 0l3.6-3.6"/>
<path d="M87.8,171.1m-1.8-1.8l3.6 3.6m-3.6 0l3.6-3.6"/>
<path d="M126.5,122.9m-1.8-1.8l3.6 3.6m-3.6 0l3.6-3.6"/>
<path d="M125.0,131.3m-1.8-1.8l3.6 3.6m-3.6 0l3.6-3.6"/>
<path d="M107.7,150.9m-1.8-1.8l3.6 3.6m-3.6 0l3.6-3.6"/>
<path d="M96.6,165.8m-1.8-1.8l3.6 3.6m-3.6 0l3.6-3.6"/>
<path d="M119.3,122.9m-1.8-1.8l3.6 3.6m-3.6 0l3.6-3.6"/>
<path d="M143.1,139.3m-1.8-1.8l3.6 3.6m-3.6 0l3.6-3.6"/>
<path d="M140.5,117.9m-1.8-1.8l3.6 3.6m-3.6 0l3.6-3.6"/>
<path d="M112.8,142.2m-1.8-1.8l3.6 3.6m-3.6 0l3.6-3.6"/>
<path d="M151.1,116.1m-1.8-1.8l3.6 3.6m-3.6 0l3.6-3.6"/>
<path d="M98.6,157.7m-1.8-1.8l3.6 3.6m-3.6 0l3.6-3.6"/>
<path d="M123.8,139.4m-1.8-1.8l3.6 3.6m-3.6 0l3.6-3.6"/>
<path d="M131.6,121.6m-1.8-1.8l3.6 3.6m-3.6 0l3.6-3.6"/>
<path d="M170.3,90.7m-1.8-1.8l3.6 3.6m-3.6 0l3.6-3.6"/>
<path d="M170.9,106.4m-1.8-1.8l3.6 3.6m-3.6 0l3.6-3.6"/>
<path d="M135.6,150.0m-1.8-1.8l3.6 3.6m-3.6 0l3.6-3.6"/>
<path d="M79.1,168.9m-1.8-1.8l3.6 3.6m-3.6 0l3.6-3.6"/>
<path d="M137.2,129.0m-1.8-1.8l3.6 3.6m-3.6 0l3.6-3.6"/>
<path d="M72.5,172.1m-1.8-1.8l3.6 3.6m-3.6 0l3.6-3.6"/>
<path d="M181.5,80.8m-1.8-1.8l3.6 3.6m-3.6 0l3.6-3.6"/>
<path d="M82.8,179.7m-1.8-1.8l3.6 3.6m-3.6 0l3.6-3.6"/>
<path d="M118.9,160.6m-1.8-1.8l3.6 3.6m-3.6 0l3.6-3.6"/>
<path d="M115.1,146.0m-1.8-1.8l3.6 3.6m-3.6 0l3.6-3.6"/>
<path d="M100.3,156.9m-1.8-1.8l3.6 3.6m-3.6 0l3.6-3.6"/>
<path d="M127.9,117.1m-1.8-1.8l3.6 3.6m-3.6 0l3.6-3.6"/>
<path d="M73.5,183.7m-1.8-1.8l3.6 3.6m-3.6 0l3.6-3.6"/>
<path d="M156.6,91.8m-1.8-1.8l3.6 3.6m-3.6 0l3.6-3.6"/>
<path d="M144.0,121.9m-1.8-1.8l3.6 3.6m-3.6 0l3.6-3.6"/>
<path d="M185.4,61.9m-1.8-1.8l3.6 3.6m-3.6 0l3.6-3.6"/>
<path d="M111.5,152.5m-1.8-1.8l3.6 3.6m-3.6 0l3.6-3.6"/>
<path d="M146.5,110.9m-1.8-1.8l3.6 3.6m-3.6 0l3.6-3.6"/>
<path d="M113.5,162.0m-1.8-1.8l3.6 3.6m-3.6 0l3.6-3.6"/>
<path d="M110.8,167.2m-1.8-1.8l3.6 3.6m-3.6 0l3.6-3.6"/>
<path d="M188.7,57.0m-1.8-1.8l3.6 3.6m-3.6 0l3.6-3.6"/>
<path d="M115.8,127.1m-1.8-1.8l3.6 3.6m-3.6 0l3.6-3.6"/>
<path d="M167.3,81.7m-1.8-1.8l3.6 3.6m-3.6 0l3.6-3.6"/>
<path d="M105.1,169.4m-1.8-1.8l3.6 3.6m-3.6 0l3.6-3.6"/>
<path d="M147.8,110.0m-1.8-1.8l3.6 3.6m-3.6 0l3.6-3.6"/>
<path d="M183.1,75.7m-1.8-1.8l3.6 3.6m-3.6 0l3.6-3.6"/>
<path d="M132.2,140.3m-1.8-1.8l3.6 3.6m-3.6 0l3.6-3.6"/>
<path d="M174.3,84.7m-1.8-1.8l3.6 3.6m-3.6 0l3.6-3.6"/>
<path d="M134.6,138.1m-1.8-1.8l3.6 3.6m-3.6 0l3.6-3.6"/>
<path d="M174.6,89.2m-1.8-1.8l3.6 3.6m-3.6 0l3.6-3.6"/>
<path d="M145.5,127.6m-1.8-1.8l3.6 3.6m-3.6 0l3.6-3.6"/>
<path d="M157.8,107.1m-1.8-1.8l3.6 3.6m-3.6 0l3.6-3.6"/>
<path d="M79.7,173.4m-1.8-1.8l3.6 3.6m-3.6 0l3.6-3.6"/>
<path d="M113.8,152.7m-1.8-1.8l3.6 3.6m-3.6 0l3.6-3.6"/>
<path d="M139.7,127.3m-1.8-1.8l3.6 3.6m-3.6 0l3.6-3.6"/>
<path d="M94.0,166.9m-1.8-1.8l3.6 3.6m-3.6 0l3.6-3.6"/>
<path d="M120.8,137.6m-1.8-1.8l3.6 3.6m-3.6 0l3.6-3.6"/>
<path d="M146.0,127.5m-1.8-1.8l3.6 3.6m-3.6 0l3.6-3.6"/>
<path d="M141.8,115.5m-1.8-1.8l3.6 3.6m-3.6 0l3.6-3.6"/>
<path d="M84.3,168.7m-1.8-1.8l3.6 3.6m-3.6 0l3.6-3.6"/>
<path d="M121.3,153.5m-1.8-1.8l3.6 3.6m-3.6 0l3.6-3.6"/>
<path d="M106.2,155.1m-1.8-1.8l3.6 3.6m-3.6 0l3.6-3.6"/>
<path d="M108.6,140.9m-1.8-1.8l3.6 3.6m-3.6 0l3.6-3.6"/>
<path d="M95.4,169.6m-1.8-1.8l3.6 3.6m-3.6 0l3.6-3.6"/>
<path d="M72.3,186.5m-1.8-1.8l3.6 3.6m-3.6 0l3.6-3.6"/>
<path d="M110.0,157.9m-1.8-1.8l3.6 3.6m-3.6 0l3.6-3.6"/>
<path d="M92.1,178.3m-1.8-1.8l3.6 3.6m-3.6 0l3.6-3.6"/>
<path d="M165.6,101.0m-1.8-1.8l3.6 3.6m-3.6 0l3.6-3.6"/>
<path d="M100.2,162.6m-1.8-1.8l3.6 3.6m-3.6 0l3.6-3.6"/>
<path d="M110.8,140.8m-1.8-1.8l3.6 3.6m-3.6 0l3.6-3.6"/>
<path d="M172.5,78.1m-1.8-1.8l3.6 3.6m-3.6 0l3.6-3.6"/>
<path d="M95.6,148.2m-1.8-1.8l3.6 3.6m-3.6 0l3.6-3.6"/>
<path d="M180.4,72.9m-1.8-1.8l3.6 3.6m-3.6 0l3.6-3.6"/>
<path d="M178.1,82.1m-1.8-1.8l3.6 3.6m-3.6 0l3.6-3.6"/>
<path d="M154.6,107.6m-1.8-1.8l3.6 3.6m-3.6 0l3.6-3.6"/>
<path d="M125.8,138.1m-1.8-1.8l3.6 3.6m-3.6 0l3.6-3.6"/>
<path d="M106.6,156.2m-1.8-1.8l3.6 3.6m-3.6 0l3.6-3.6"/>
<path d="M114.0,141.2m-1.8-1.8l3.6 3.6m-3.6 0l3.6-3.6"/>
<path d="M127.1,127.7m-1.8-1.8l3.6 3.6m-3.6 0l3.6-3.6"/>
<path d="M145.1,116.4m-1.8-1.8l3.6 3.6m-3.6 0l3.6-3.6"/>
<path d="M116.3,141.1m-1.8-1.8l3.6 3.6m-3.6 0l3.6-3.6"/>
<path d="M117.6,134.2m-1.8-1.8l3.6 3.6m-3.6 0l3.6-3.6"/>
<path d="M111.8,146.8m-1.8-1.8l3.6 3.6m-3.6 0l3.6-3.6"/>
<path d="M116.2,157.0m-1.8-1.8l3.6 3.6m-3.6 0l3.6-3.6"/>
<path d="M141.7,152.7m-1.8-1.8l3.6 3.6m-3.6 0l3.6-3.6"/>
<path d="M72.2,174.8m-1.8-1.8l3.6 3.6m-3.6 0l3.6-3.6"/>
<path d="M140.4,141.0m-1.8-1.8l3.6 3.6m-3.6 0l3.6-3.6"/>
<path d="M142.1,116.7m-1.8-1.8l3.6 3.6m-3.6 0l3.6-3.6"/>
<path d="M146.9,126.9m-1.8-1.8l3.6 3.6m-3.6 0l3.6-3.6"/>
<path d="M101.5,168.3m-1.8-1.8l3.6 3.6m-3.6 0l3.6-3.6"/>
<path d="M123.5,147.5m-1.8-1.8l3.6 3.6m-3.6 0l3.6-3.6"/>
<path d="M162.0,89.4m-1.8-1.8l3.6 3.6m-3.6 0l3.6-3.6"/>
<path d="M142.0,121.5m-1.8-1.8l3.6 3.6m-3.6 0l3.6-3.6"/>
<path d="M116.8,130.8m-1.8-1.8l3.6 3.6m-3.6 0l3.6-3.6"/>
<path d="M104.6,153.9m-1.8-1.8l3.6 3.6m-3.6 0l3.6-3.6"/>
<path d="M125.1,138.8m-1.8-1.8l3.6 3.6m-3.6 0l3.6-3.6"/>
<path d="M137.6,115.8m-1.8-1.8l3.6 3.6m-3.6 0l3.6-3.6"/>
<path d="M168.3,86.9m-1.8-1.8l3.6 3.6m-3.6 0l3.6-3.6"/>
<path d="M182.8,78.8m-1.8-1.8l3.6 3.6m-3.6 0l3.6-3.6"/>
<path d="M150.4,121.8m-1.8-1.8l3.6 3.6m-3.6 0l3.6-3.6"/>
<path d="M132.8,106.6m-1.8-1.8l3.6 3.6m-3.6 0l3.6-3.6"/>
<path d="M105.8,163.8m-1.8-1.8l3.6 3.6m-3.6 0l3.6-3.6"/>
<path d="M187.4,78.4m-1.8-1.8l3.6 3.6m-3.6 0l3.6-3.6"/>
<path d="M77.0,178.2m-1.8-1.8l3.6 3.6m-3.6 0l3.6-3.6"/>
<path d="M96.7,146.6m-1.8-1.8l3.6 3.6m-3.6 0l3.6-3.6"/>
<path d="M105.8,137.8m-1.8-1.8l3.6 3.6m-3.6 0l3.6-3.6"/>
<path d="M117.5,133.6m-1.8-1.8l3.6 3.6m-3.6 0l3.6-3.6"/>
<path d="M123.6,124.5m-1.8-1.8l3.6 3.6m-3.6 0l3.6-3.6"/>
<path d="M184.8,75.9m-1.8-1.8l3.6 3.6m-3.6 0l3.6-3.6"/>
<path d="M141.5,87.2m-1.8-1.8l3.6 3.6m-3.6 0l3.6-3.6"/>
<path d="M82.2,161.5m-1.8-1.8l3.6 3.6m-3.6 0l3.6-3.6"/>
<path d="M92.2,141.0m-1.8-1.8l3.6 3.6m-3.6 0l3.6-3.6"/>
<path d="M179.0,79.7m-1.8-1.8l3.6 3.6m-3.6 0l3.6-3.6"/>
<path d="M123.7,130.5m-1.8-1.8l3.6 3.6m-3.6 0l3.6-3.6"/>
<path d="M98.7,148.7m-1.8-1.8l3.6 3.6m-3.6 0l3.6-3.6"/>
<path d="M141.4,116.5m-1.8-1.8l3.6 3.6m-3.6 0l3.6-3.6"/>
<path d="M145.9,110.9m-1.8-1.8l3.6 3.6m-3.6 0l3.6-3.6"/>
<path d="M164.6,108.0m-1.8-1.8l3.6 3.6m-3.6 0l3.6-3.6"/>
<path d="M97.9,150.5m-1.8-1.8l3.6 3.6m-3.6 0l3.6-3.6"/>
<path d="M140.0,118.3m-1.8-1.8l3.6 3.6m-3.6 0l3.6-3.6"/>
<path d="M145.6,105.5m-1.8-1.8l3.6 3.6m-3.6 0l3.6-3.6"/>
<path d="M131.8,130.0m-1.8-1.8l3.6 3.6m-3.6 0l3.6-3.6"/>
<path d="M81.3,189.3m-1.8-1.8l3.6 3.6m-3.6 0l3.6-3.6"/>
<path d="M135.5,118.5m-1.8-1.8l3.6 3.6m-3.6 0l3.6-3.6"/>
<path d="M126.3,171.0m-1.8-1.8l3.6 3.6m-3.6 0l3.6-3.6"/>
<path d="M160.9,114.8m-1.8-1.8l3.6 3.6m-3.6 0l3.6-3.6"/>
<path d="M130.2,140.0m-1.8-1.8l3.6 3.6m-3.6 0l3.6-3.6"/>
<path d="M97.3,162.7m-1.8-1.8l3.6 3.6m-3.6 0l3.6-3.6"/>
<path d="M129.3,127.5m-1.8-1.8l3.6 3.6m-3.6 0l3.6-3.6"/>
<path d="M127.3,151.1m-1.8-1.8l3.6 3.6m-3.6 0l3.6-3.6"/>
<path d="M95.4,132.3m-1.8-1.8l3.6 3.6m-3.6 0l3.6-3.6"/>
<path d="M147.0,102.0m-1.8-1.8l3.6 3.6m-3.6 0l3.6-3.6"/>
<path d="M71.6,188.5m-1.8-1.8l3.6 3.6m-3.6 0l3.6-3.6"/>
<path d="M75.1,188.6m-1.8-1.8l3.6 3.6m-3.6 0l3.6-3.6"/>
<path d="M131.5,123.8m-1.8-1.8l3.6 3.6m-3.6 0l3.6-3.6"/>
<path d="M80.5,159.7m-1.8-1.8l3.6 3.6m-3.6 0l3.6-3.6"/>
<path d="M172.2,81.3m-1.8-1.8l3.6 3.6m-3.6 0l3.6-3.6"/>
<path d="M128.3,117.8m-1.8-1.8l3.6 3.6m-3.6 0l3.6-3.6"/>
<path d="M92.4,173.0m-1.8-1.8l3.6 3.6m-3.6 0l3.6-3.6"/>
<path d="M128.9,103.2m-1.8-1.8l3.6 3.6m-3.6 0l3.6-3.6"/>
<path d="M97.5,173.8m-1.8-1.8l3.6 3.6m-3.6 0l3.6-3.6"/>
<path d="M145.3,92.6m-1.8-1.8l3.6 3.6m-3.6 0l3.6-3.6"/>
<path d="M100.0,152.0m-1.8-1.8l3.6 3.6m-3.6 0l3.6-3.6"/>
<path d="M118.5,163.2m-1.8-1.8l3.6 3.6m-3.6 0l3.6-3.6"/>
<path d="M72.2,183.9m-1.8-1.8l3.6 3.6m-3.6 0l3.6-3.6"/>
<path d="M109.1,143.9m-1.8-1.8l3.6 3.6m-3.6 0l3.6-3.6"/>
<path d="M170.1,90.3m-1.8-1.8l3.6 3.6m-3.6 0l3.6-3.6"/>
<path d="M82.5,176.3m-1.8-1.8l3.6 3.6m-3.6 0l3.6-3.6"/>
<path d="M112.5,139.3m-1.8-1.8l3.6 3.6m-3.6 0l3.6-3.6"/>
<path d="M147.7,90.1m-1.8-1.8l3.6 3.6m-3.6 0l3.6-3.6"/>
<path d="M186.0,73.8m-1.8-1.8l3.6 3.6m-3.6 0l3.6-3.6"/>
<path d="M107.9,168.4m-1.8-1.8l3.6 3.6m-3.6 0l3.6-3.6"/>
<path d="M141.6,120.3m-1.8-1.8l3.6 3.6m-3.6 0l3.6-3.6"/>
<path d="M82.7,184.4m-1.8-1.8l3.6 3.6m-3.6 0l3.6-3.6"/>
<path d="M117.8,149.6m-1.8-1.8l3.6 3.6m-3.6 0l3.6-3.6"/>
<path d="M94.8,160.6m-1.8-1.8l3.6 3.6m-3.6 0l3.6-3.6"/>
<path d="M160.7,102.5m-1.8-1.8l3.6 3.6m-3.6 0l3.6-3.6"/>
<path d="M169.3,104.6m-1.8-1.8l3.6 3.6m-3.6 0l3.6-3.6"/>
<path d="M116.7,142.1m-1.8-1.8l3.6 3.6m-3.6 0l3.6-3.6"/>
<path d="M85.0,178.4m-1.8-1.8l3.6 3.6m-3.6 0l3.6-3.6"/>
<path d="M73.1,178.7m-1.8-1.8l3.6 3.6m-3.6 0l3.6-3.6"/>
<path d="M114.1,160.3m-1.8-1.8l3.6 3.6m-3.6 0l3.6-3.6"/>
<path d="M88.7,164.7m-1.8-1.8l3.6 3.6m-3.6 0l3.6-3.6"/>
<path d="M76.7,180.7m-1.8-1.8l3.6 3.6m-3.6 0l3.6-3.6"/>
<path d="M149.7,119.1m-1.8-1.8l3.6 3.6m-3.6 0l3.6-3.6"/>
<path d="M96.3,179.6m-1.8-1.8l3.6 3.6m-3.6 0l3.6-3.6"/>
<path d="M122.3,136.7m-1.8-1.8l3.6 3.6m-3.6 0l3.6-3.6"/>
<path d="M68.8,190.8m-1.8-1.8l3.6 3.6m-3.6 0l3.6-3.6"/>
<path d="M81.4,168.4m-1.8-1.8l3.6 3.6m-3.6 0l3.6-3.6"/>
<path d="M148.0,132.6m-1.8-1.8l3.6 3.6m-3.6 0l3.6-3.6"/>
<path d="M149.0,81.5m-1.8-1.8l3.6 3.6m-3.6 0l3.6-3.6"/>
<path d="M122.1,144.5m-1.8-1.8l3.6 3.6m-3.6 0l3.6-3.6"/>
<path d="M150.1,109.5m-1.8-1.8l3.6 3.6m-3.6 0l3.6-3.6"/>
<path d="M113.9,149.6m-1.8-1.8l3.6 3.6m-3.6 0l3.6-3.6"/>
<path d="M128.3,136.5m-1.8-1.8l3.6 3.6m-3.6 0l3.6-3.6"/>
<path d="M87.3,166.0m-1.8-1.8l3.6 3.6m-3.6 0l3.6-3.6"/>
<path d="M93.3,168.4m-1.8-1.8l3.6 3.6m-3.6 0l3.6-3.6"/>
<path d="M108.2,154.2m-1.8-1.8l3.6 3.6m-3.6 0l3.6-3.6"/>
<path d="M123.1,151.5m-1.8-1.8l3.6 3.6m-3.6 0l3.6-3.6"/>
<path d="M169.6,102.8m-1.8-1.8l3.6 3.6m-3.6 0l3.6-3.6"/>
<path d="M123.1,149.2m-1.8-1.8l3.6 3.6m-3.6 0l3.6-3.6"/>
<path d="M78.0,164.0m-1.8-1.8l3.6 3.6m-3.6 0l3.6-3.6"/>
<path d="M156.0,101.6m-1.8-1.8l3.6 3.6m-3.6 0l3.6-3.6"/>
<path d="M85.2,180.4m-1.8-1.8l3.6 3.6m-3.6 0l3.6-3.6"/>
<path d="M71.1,183.2m-1.8-1.8l3.6 3.6m-3.6 0l3.6-3.6"/>
<path d="M143.1,116.4m-1.8-1.8l3.6 3.6m-3.6 0l3.6-3.6"/>
<path d="M159.2,121.3m-1.8-1.8l3.6 3.6m-3.6 0l3.6-3.6"/>
<path d="M113.2,161.6m-1.8-1.8l3.6 3.6m-3.6 0l3.6-3.6"/>
<path d="M87.4,168.3m-1.8-1.8l3.6 3.6m-3.6 0l3.6-3.6"/>
<path d="M131.0,124.7m-1.8-1.8l3.6 3.6m-3.6 0l3.6-3.6"/>
<path d="M103.3,168.4m-1.8-1.8l3.6 3.6m-3.6 0l3.6-3.6"/>
<path d="M92.6,180.6m-1.8-1.8l3.6 3.6m-3.6 0l3.6-3.6"/>
<path d="M174.1,87.8m-1.8-1.8l3.6 3.6m-3.6 0l3.6-3.6"/>
<path d="M109.0,141.4m-1.8-1.8l3.6 3.6m-3.6 0l3.6-3.6"/>
<path d="M93.9,163.7m-1.8-1.8l3.6 3.6m-3.6 0l3.6-3.6"/>
<path d="M122.6,128.0m-1.8-1.8l3.6 3.6m-3.6 0l3.6-3.6"/>
<path d="M79.7,177.4m-1.8-1.8l3.6 3.6m-3.6 0l3.6-3.6"/>
<path d="M146.9,114.1m-1.8-1.8l3.6 3.6m-3.6 0l3.6-3.6"/>
<path d="M101.6,151.3m-1.8-1.8l3.6 3.6m-3.6 0l3.6-3.6"/>
<path d="M86.3,171.4m-1.8-1.8l3.6 3.6m-3.6 0l3.6-3.6"/>
<path d="M145.1,112.7m-1.8-1.8l3.6 3.6m-3.6 0l3.6-3.6"/>
<path d="M70.2,190.0m-1.8-1.8l3.6 3.6m-3.6 0l3.6-3.6"/>
<path d="M92.6,169.9m-1.8-1.8l3.6 3.6m-3.6 0l3.6-3.6"/>
<path d="M109.9,143.5m-1.8-1.8l3.6 3.6m-3.6 0l3.6-3.6"/>
<path d="M112.2,148.7m-1.8-1.8l3.6 3.6m-3.6 0l3.6-3.6"/>
<path d="M180.8,90.4m-1.8-1.8l3.6 3.6m-3.6 0l3.6-3.6"/>
<path d="M137.2,115.3m-1.8-1.8l3.6 3.6m-3.6 0l3.6-3.6"/>
<path d="M71.7,180.1m-1.8-1.8l3.6 3.6m-3.6 0l3.6-3.6"/>
<path d="M124.8,134.5m-1.8-1.8l3.6 3.6m-3.6 0l3.6-3.6"/>
<path d="M118.3,148.8m-1.8-1.8l3.6 3.6m-3.6 0l3.6-3.6"/>
<path d="M106.5,142.5m-1.8-1.8l3.6 3.6m-3.6 0l3.6-3.6"/>
<path d="M184.3,56.8m-1.8-1.8l3.6 3.6m-3.6 0l3.6-3.6"/>
<path d="M164.9,97.9m-1.8-1.8l3.6 3.6m-3.6 0l3.6-3.6"/>
<path d="M171.3,108.3m-1.8-1.8l3.6 3.6m-3.6 0l3.6-3.6"/>
<path d="M101.7,163.6m-1.8-1.8l3.6 3.6m-3.6 0l3.6-3.6"/>
<path d="M81.3,182.6m-1.8-1.8l3.6 3.6m-3.6 0l3.6-3.6"/>
<path d="M141.0,133.5m-1.8-1.8l3.6 3.6m-3.6 0l3.6-3.6"/>
<path d="M132.1,136.3m-1.8-1.8l3.6 3.6m-3.6 0l3.6-3.6"/>
<path d="M81.3,168.2m-1.8-1.8l3.6 3.6m-3.6 0l3.6-3.6"/>
<path d="M188.7,67.5m-1.8-1.8l3.6 3.6m-3.6 0l3.6-3.6"/>
<path d="M123.5,118.9m-1.8-1.8l3.6 3.6m-3.6 0l3.6-3.6"/>
<path d="M100.8,149.6m-1.8-1.8l3.6 3.6m-3.6 0l3.6-3.6"/>
<path d="M118.1,146.0m-1.8-1.8l3.6 3.6m-3.6 0l3.6-3.6"/>
<path d="M158.4,109.9m-1.8-1.8l3.6 3.6m-3.6 0l3.6-3.6"/>
<path d="M188.3,86.4m-1.8-1.8l3.6 3.6m-3.6 0l3.6-3.6"/>
<path d="M116.4,146.1m-1.8-1.8l3.6 3.6m-3.6 0l3.6-3.6"/>
<path d="M117.7,153.9m-1.8-1.8l3.6 3.6m-3.6 0l3.6-3.6"/>
<path d="M71.0,174.1m-1.8-1.8l3.6 3.6m-3.6 0l3.6-3.6"/>
<path d="M85.3,162.9m-1.8-1.8l3.6 3.6m-3.6 0l3.6-3.6"/>
<path d="M189.7,78.9m-1.8-1.8l3.6 3.6m-3.6 0l3.6-3.6"/>
<path d="M85.3,174.0m-1.8-1.8l3.6 3.6m-3.6 0l3.6-3.6"/>
<path d="M120.0,138.6m-1.8-1.8l3.6 3.6m-3.6 0l3.6-3.6"/>
<path d="M148.5,110.0m-1.8-1.8l3.6 3.6m-3.6 0l3.6-3.6"/>
<path d="M130.5,135.5m-1.8-1.8l3.6 3.6m-3.6 0l3.6-3.6"/>
<path d="M88.5,167.8m-1.8-1.8l3.6 3.6m-3.6 0l3.6-3.6"/>
<path d="M122.0,132.6m-1.8-1.8l3.6 3.6m-3.6 0l3.6-3.6"/>
<path d="M155.7,122.5m-1.8-1.8l3.6 3.6m-3.6 0l3.6-3.6"/>
<path d="M153.3,111.2m-1.8-1.8l3.6 3.6m-3.6 0l3.6-3.6"/>
<path d="M131.8,148.2m-1.8-1.8l3.6 3.6m-3.6 0l3.6-3.6"/>
<path d="M108.8,131.2m-1.8-1.8l3.6 3.6m-3.6 0l3.6-3.6"/>
<path d="M105.9,138.2m-1.8-1.8l3.6 3.6m-3.6 0l3.6-3.6"/>
<path d="M102.0,148.8m-1.8-1.8l3.6 3.6m-3.6 0l3.6-3.6"/>
<path d="M180.8,71.7m-1.8-1.8l3.6 3.6m-3.6 0l3.6-3.6"/>
<path d="M122.5,114.0m-1.8-1.8l3.6 3.6m-3.6 0l3.6-3.6"/>
<path d="M156.0,94.7m-1.8-1.8l3.6 3.6m-3.6 0l3.6-3.6"/>
<path d="M77.2,189.6m-1.8-1.8l3.6 3.6m-3.6 0l3.6-3.6"/>
<path d="M96.5,162.9m-1.8-1.8l3.6 3.6m-3.6 0l3.6-3.6"/>
<path d="M135.7,150.9m-1.8-1.8l3.6 3.6m-3.6 0l3.6-3.6"/>
<path d="M132.5,136.6m-1.8-1.8l3.6 3.6m-3.6 0l3.6-3.6"/>
<path d="M96.7,172.3m-1.8-1.8l3.6 3.6m-3.6 0l3.6-3.6"/>
<path d="M116.8,142.1m-1.8-1.8l3.6 3.6m-3.6 0l3.6-3.6"/>
<path d="M101.7,167.3m-1.8-1.8l3.6 3.6m-3.6 0l3.6-3.6"/>
<path d="M70.0,189.5m-1.8-1.8l3.6 3.6m-3.6 0l3.6-3.6"/>
<path d="M89.8,169.7m-1.8-1.8l3.6 3.6m-3.6 0l3.6-3.6"/>
<path d="M131.7,124.9m-1.8-1.8l3.6 3.6m-3.6 0l3.6-3.6"/>
<path d="M110.7,173.0m-1.8-1.8l3.6 3.6m-3.6 0l3.6-3.6"/>
<path d="M115.0,145.6m-1.8-1.8l3.6 3.6m-3.6 0l3.6-3.6"/>
<path d="M145.6,100.6m-1.8-1.8l3.6 3.6m-3.6 0l3.6-3.6"/>
<path d="M111.7,151.4m-1.8-1.8l3.6 3.6m-3.6 0l3.6-3.6"/>
<path d="M71.0,179.0m-1.8-1.8l3.6 3.6m-3.6 0l3.6-3.6"/>
<path d="M74.7,179.4m-1.8-1.8l3.6 3.6m-3.6 0l3.6-3.6"/>
<path d="M84.4,169.6m-1.8-1.8l3.6 3.6m-3.6 0l3.6-3.6"/>
<path d="M172.1,93.3m-1.8-1.8l3.6 3.6m-3.6 0l3.6-3.6"/>
<path d="M123.3,138.3m-1.8-1.8l3.6 3.6m-3.6 0l3.6-3.6"/>
<path d="M97.9,168.9m-1.8-1.8l3.6 3.6m-3.6 0l3.6-3.6"/>
<path d="M109.5,141.9m-1.8-1.8l3.6 3.6m-3.6 0l3.6-3.6"/>
<path d="M117.9,149.8m-1.8-1.8l3.6 3.6m-3.6 0l3.6-3.6"/>
<path d="M74.2,184.4m-1.8-1.8l3.6 3.6m-3.6 0l3.6-3.6"/>
<path d="M80.5,176.8m-1.8-1.8l3.6 3.6m-3.6 0l3.6-3.6"/>
<path d="M84.1,154.0m-1.8-1.8l3.6 3.6m-3.6 0l3.6-3.6"/>
<path d="M118.5,144.0m-1.8-1.8l3.6 3.6m-3.6 0l3.6-3.6"/>
<path d="M173.2,95.7m-1.8-1.8l3.6 3.6m-3.6 0l3.6-3.6"/>
<path d="M141.1,111.2m-1.8-1.8l3.6 3.6m-3.6 0l3.6-3.6"/>
<path d="M130.1,135.0m-1.8-1.8l3.6 3.6m-3.6 0l3.6-3.6"/>
<path d="M86.6,168.6m-1.8-1.8l3.6 3.6m-3.6 0l3.6-3.6"/>
<path d="M97.6,181.1m-1.8-1.8l3.6 3.6m-3.6 0l3.6-3.6"/>
<path d="M79.3,174.7m-1.8-1.8l3.6 3.6m-3.6 0l3.6-3.6"/>
<path d="M169.1,93.3m-1.8-1.8l3.6 3.6m-3.6 0l3.6-3.6"/>
<path d="M105.8,165.2m-1.8-1.8l3.6 3.6m-3.6 0l3.6-3.6"/>
<path d="M82.0,163.5m-1.8-1.8l3.6 3.6m-3.6 0l3.6-3.6"/>
<path d="M163.5,108.5m-1.8-1.8l3.6 3.6m-3.6 0l3.6-3.6"/>
<path d="M80.8,177.3m-1.8-1.8l3.6 3.6m-3.6 0l3.6-3.6"/>
<path d="M139.6,135.6m-1.8-1.8l3.6 3.6m-3.6 0l3.6-3.6"/>
<path d="M82.6,188.9m-1.8-1.8l3.6 3.6m-3.6 0l3.6-3.6"/>
<path d="M77.9,183.2m-1.8-1.8l3.6 3.6m-3.6 0l3.6-3.6"/>
<path d="M107.7,166.1m-1.8-1.8l3.6 3.6m-3.6 0l3.6-3.6"/>
<path d="M98.0,155.8m-1.8-1.8l3.6 3.6m-3.6 0l3.6-3.6"/>
<path d="M156.3,95.3m-1.8-1.8l3.6 3.6m-3.6 0l3.6-3.6"/>
<path d="M136.0,131.3m-1.8-1.8l3.6 3.6m-3.6 0l3.6-3.6"/>
<path d="M132.2,145.9m-1.8-1.8l3.6 3.6m-3.6 0l3.6-3.6"/>
<path d="M134.9,129.6m-1.8-1.8l3.6 3.6m-3.6 0l3.6-3.6"/>
<path d="M105.1,163.5m-1.8-1.8l3.6 3.6m-3.6 0l3.6-3.6"/>
<path d="M94.9,161.0m-1.8-1.8l3.6 3.6m-3.6 0l3.6-3.6"/>
<path d="M152.7,101.1m-1.8-1.8l3.6 3.6m-3.6 0l3.6-3.6"/>
<path d="M75.5,184.0m-1.8-1.8l3.6 3.6m-3.6 0l3.6-3.6"/>
<path d="M143.4,91.3m-1.8-1.8l3.6 3.6m-3.6 0l3.6-3.6"/>
<path d="M104.6,143.2m-1.8-1.8l3.6 3.6m-3.6 0l3.6-3.6"/>
<path d="M136.7,104.2m-1.8-1.8l3.6 3.6m-3.6 0l3.6-3.6"/>
<path d="M161.7,106.0m-1.8-1.8l3.6 3.6m-3.6 0l3.6-3.6"/>
<path d="M126.0,125.3m-1.8-1.8l3.6 3.6m-3.6 0l3.6-3.6"/>
<path d="M161.3,89.8m-1.8-1.8l3.6 3.6m-3.6 0l3.6-3.6"/>
<path d="M163.1,110.7m-1.8-1.8l3.6 3.6m-3.6 0l3.6-3.6"/>
<path d="M96.5,149.1m-1.8-1.8l3.6 3.6m-3.6 0l3.6-3.6"/>
<path d="M88.5,138.0m-1.8-1.8l3.6 3.6m-3.6 0l3.6-3.6"/>
<path d="M67.0,187.6m-1.8-1.8l3.6 3.6m-3.6 0l3.6-3.6"/>
<path d="M110.0,144.8m-1.8-1.8l3.6 3.6m-3.6 0l3.6-3.6"/>
<path d="M70.7,190.5m-1.8-1.8l3.6 3.6m-3.6 0l3.6-3.6"/>
<path d="M83.0,182.4m-1.8-1.8l3.6 3.6m-3.6 0l3.6-3.6"/>
<path d="M90.0,151.6m-1.8-1.8l3.6 3.6m-3.6 0l3.6-3.6"/>
<path d="M171.6,81.4m-1.8-1.8l3.6 3.6m-3.6 0l3.6-3.6"/>
<path d="M107.2,148.5m-1.8-1.8l3.6 3.6m-3.6 0l3.6-3.6"/>
<path d="M80.8,167.9m-1.8-1.8l3.6 3.6m-3.6 0l3.6-3.6"/>
<path d="M149.7,96.7m-1.8-1.8l3.6 3.6m-3.6 0l3.6-3.6"/>
<path d="M122.4,144.0m-1.8-1.8l3.6 3.6m-3.6 0l3.6-3.6"/>
<path d="M105.8,146.5m-1.8-1.8l3.6 3.6m-3.6 0l3.6-3.6"/>
<path d="M113.8,148.3m-1.8-1.8l3.6 3.6m-3.6 0l3.6-3.6"/>
<path d="M108.3,143.5m-1.8-1.8l3.6 3.6m-3.6 0l3.6-3.6"/>
<path d="M185.5,65.4m-1.8-1.8l3.6 3.6m-3.6 0l3.6-3.6"/>
<path d="M129.7,102.5m-1.8-1.8l3.6 3.6m-3.6 0l3.6-3.6"/>
<path d="M135.1,163.0m-1.8-1.8l3.6 3.6m-3.6 0l3.6-3.6"/>
<path d="M92.3,167.3m-1.8-1.8l3.6 3.6m-3.6 0l3.6-3.6"/>
<path d="M71.7,180.9m-1.8-1.8l3.6 3.6m-3.6 0l3.6-3.6"/>
<path d="M136.7,127.3m-1.8-1.8l3.6 3.6m-3.6 0l3.6-3.6"/>
<path d="M75.9,173.1m-1.8-1.8l3.6 3.6m-3.6 0l3.6-3.6"/>
<path d="M85.2,170.4m-1.8-1.8l3.6 3.6m-3.6 0l3.6-3.6"/>
<path d="M75.3,184.0m-1.8-1.8l3.6 3.6m-3.6 0l3.6-3.6"/>
<path d="M126.7,176.6m-1.8-1.8l3.6 3.6m-3.6 0l3.6-3.6"/>
<path d="M69.2,190.9m-1.8-1.8l3.6 3.6m-3.6 0l3.6-3.6"/>
<path d="M168.5,80.8m-1.8-1.8l3.6 3.6m-3.6 0l3.6-3.6"/>
<path d="M132.1,120.9m-1.8-1.8l3.6 3.6m-3.6 0l3.6-3.6"/>
<path d="M101.7,146.7m-1.8-1.8l3.6 3.6m-3.6 0l3.6-3.6"/>
<path d="M117.9,155.9m-1.8-1.8l3.6 3.6m-3.6 0l3.6-3.6"/>
<path d="M163.4,95.4m-1.8-1.8l3.6 3.6m-3.6 0l3.6-3.6"/>
<path d="M151.0,118.8m-1.8-1.8l3.6 3.6m-3.6 0l3.6-3.6"/>
<path d="M113.6,144.2m-1.8-1.8l3.6 3.6m-3.6 0l3.6-3.6"/>
<path d="M106.1,139.3m-1.8-1.8l3.6 3.6m-3.6 0l3.6-3.6"/>
<path d="M117.6,138.6m-1.8-1.8l3.6 3.6m-3.6 0l3.6-3.6"/>
<path d="M157.5,106.0m-1.8-1.8l3.6 3.6m-3.6 0l3.6-3.6"/>
<path d="M108.3,138.6m-1.8-1.8l3.6 3.6m-3.6 0l3.6-3.6"/>
<path d="M111.3,136.7m-1.8-1.8l3.6 3.6m-3.6 0l3.6-3.6"/>
<path d="M193.9,55.9m-1.8-1.8l3.6 3.6m-3.6 0l3.6-3.6"/>
<path d="M126.3,154.2m-1.8-1.8l3.6 3.6m-3.6 0l3.6-3.6"/>
<path d="M128.4,127.5m-1.8-1.8l3.6 3.6m-3.6 0l3.6-3.6"/>
<path d="M89.5,154.6m-1.8-1.8l3.6 3.6m-3.6 0l3.6-3.6"/>
<path d="M100.7,165.6m-1.8-1.8l3.6 3.6m-3.6 0l3.6-3.6"/>
<path d="M77.7,177.7m-1.8-1.8l3.6 3.6m-3.6 0l3.6-3.6"/>
<path d="M178.7,101.9m-1.8-1.8l3.6 3.6m-3.6 0l3.6-3.6"/>
<path d="M106.0,174.6m-1.8-1.8l3.6 3.6m-3.6 0l3.6-3.6"/>
<path d="M96.6,159.9m-1.8-1.8l3.6 3.6m-3.6 0l3.6-3.6"/>
<path d="M118.2,143.7m-1.8-1.8l3.6 3.6m-3.6 0l3.6-3.6"/>
<path d="M193.6,56.0m-1.8-1.8l3.6 3.6m-3.6 0l3.6-3.6"/>
<path d="M147.0,122.0m-1.8-1.8l3.6 3.6m-3.6 0l3.6-3.6"/>
<path d="M137.9,111.4m-1.8-1.8l3.6 3.6m-3.6 0l3.6-3.6"/>
<path d="M106.0,172.1m-1.8-1.8l3.6 3.6m-3.6 0l3.6-3.6"/>
<path d="M121.9,127.2m-1.8-1.8l3.6 3.6m-3.6 0l3.6-3.6"/>
<path d="M130.8,131.7m-1.8-1.8l3.6 3.6m-3.6 0l3.6-3.6"/>
<path d="M108.2,148.6m-1.8-1.8l3.6 3.6m-3.6 0l3.6-3.6"/>
<path d="M80.0,188.1m-1.8-1.8l3.6 3.6m-3.6 0l3.6-3.6"/>
<path d="M91.7,172.3m-1.8-1.8l3.6 3.6m-3.6 0l3.6-3.6"/>
<path d="M185.8,103.2m-1.8-1.8l3.6 3.6m-3.6 0l3.6-3.6"/>
<path d="M84.4,165.9m-1.8-1.8l3.6 3.6m-3.6 0l3.6-3.6"/>
<path d="M95.1,176.8m-1.8-1.8l3.6 3.6m-3.6 0l3.6-3.6"/>
<path d="M112.7,174.9m-1.8-1.8l3.6 3.6m-3.6 0l3.6-3.6"/>
<path d="M74.7,172.6m-1.8-1.8l3.6 3.6m-3.6 0l3.6-3.6"/>
<path d="M108.6,144.6m-1.8-1.8l3.6 3.6m-3.6 0l3.6-3.6"/>
<path d="M80.9,172.8m-1.8-1.8l3.6 3.6m-3.6 0l3.6-3.6"/>
<path d="M110.1,144.8m-1.8-1.8l3.6 3.6m-3.6 0l3.6-3.6"/>
<path d="M113.2,156.4m-1.8-1.8l3.6 3.6m-3.6 0l3.6-3.6"/>
<path d="M165.4,84.5m-1.8-1.8l3.6 3.6m-3.6 0l3.6-3.6"/>
<path d="M150.9,122.0m-1.8-1.8l3.6 3.6m-3.6 0l3.6-3.6"/>
<path d="M84.6,156.2m-1.8-1.8l3.6 3.6m-3.6 0l3.6-3.6"/>
<path d="M92.9,162.4m-1.8-1.8l3.6 3.6m-3.6 0l3.6-3.6"/>
<path d="M155.2,105.3m-1.8-1.8l3.6 3.6m-3.6 0l3.6-3.6"/>
<path d="M84.9,164.6m-1.8-1.8l3.6 3.6m-3.6 0l3.6-3.6"/>
<path d="M136.5,101.4m-1.8-1.8l3.6 3.6m-3.6 0l3.6-3.6"/>
<path d="M105.7,155.1m-1.8-1.8l3.6 3.6m-3.6 0l3.6-3.6"/>
<path d="M128.9,118.7m-1.8-1.8l3.6 3.6m-3.6 0l3.6-3.6"/>
<path d="M137.2,125.5m-1.8-1.8l3.6 3.6m-3.6 0l3.6-3.6"/>
<path d="M86.7,175.6m-1.8-1.8l3.6 3.6m-3.6 0l3.6-3.6"/>
<path d="M71.8,180.7m-1.8-1.8l3.6 3.6m-3.6 0l3.6-3.6"/>
<path d="M73.5,173.3m-1.8-1.8l3.6 3.6m-3.6 0l3.6-3.6"/>
<path d="M122.6,136.5m-1.8-1.8l3.6 3.6m-3.6 0l3.6-3.6"/>
<path d="M108.6,145.9m-1.8-1.8l3.6 3.6m-3.6 0l3.6-3.6"/>
<path d="M111.4,159.1m-1.8-1.8l3.6 3.6m-3.6 0l3.6-3.6"/>
<path d="M120.7,148.6m-1.8-1.8l3.6 3.6m-3.6 0l3.6-3.6"/>
<path d="M64.6,181.2m-1.8-1.8l3.6 3.6m-3.6 0l3.6-3.6"/>
<path d="M86.9,173.4m-1.8-1.8l3.6 3.6m-3.6 0l3.6-3.6"/>
<path d="M143.5,121.6m-1.8-1.8l3.6 3.6m-3.6 0l3.6-3.6"/>
<path d="M96.4,172.8m-1.8-1.8l3.6 3.6m-3.6 0l3.6-3.6"/>
<path d="M137.9,120.0m-1.8-1.8l3.6 3.6m-3.6 0l3.6-3.6"/>
<path d="M136.4,115.0m-1.8-1.8l3.6 3.6m-3.6 0l3.6-3.6"/>
<path d="M158.8,108.0m-1.8-1.8l3.6 3.6m-3.6 0l3.6-3.6"/>
<path d="M124.7,130.9m-1.8-1.8l3.6 3.6m-3.6 0l3.6-3.6"/>
<path d="M101.7,168.0m-1.8-1.8l3.6 3.6m-3.6 0l3.6-3.6"/>
<path d="M123.3,120.1m-1.8-1.8l3.6 3.6m-3.6 0l3.6-3.6"/>
<path d="M98.3,165.2m-1.8-1.8l3.6 3.6m-3.6 0l3.6-3.6"/>
<path d="M160.3,103.1m-1.8-1.8l3.6 3.6m-3.6 0l3.6-3.6"/>
<path d="M143.5,98.0m-1.8-1.8l3.6 3.6m-3.6 0l3.6-3.6"/>
<path d="M130.5,131.9m-1.8-1.8l3.6 3.6m-3.6 0l3.6-3.6"/>
<path d="M143.2,135.0m-1.8-1.8l3.6 3.6m-3.6 0l3.6-3.6"/>
<path d="M114.3,154.3m-1.8-1.8l3.6 3.6m-3.6 0l3.6-3.6"/>
<path d="M124.4,139.0m-1.8-1.8l3.6 3.6m-3.6 0l3.6-3.6"/>
<path d="M109.2,173.6m-1.8-1.8l3.6 3.6m-3.6 0l3.6-3.6"/>
<path d="M90.4,178.5m-1.8-1.8l3.6 3.6m-3.6 0l3.6-3.6"/>
<path d="M108.8,151.9m-1.8-1.8l3.6 3.6m-3.6 0l3.6-3.6"/>
<path d="M121.6,128.2m-1.8-1.8l3.6 3.6m-3.6 0l3.6-3.6"/>
<path d="M92.9,157.9m-1.8-1.8l3.6 3.6m-3.6 0l3.6-3.6"/>
<path d="M71.7,189.8m-1.8-1.8l3.6 3.6m-3.6 0l3.6-3.6"/>
<path d="M77.8,167.1m-1.8-1.8l3.6 3.6m-3.6 0l3.6-3.6"/>
<path d="M78.6,170.9m-1.8-1.8l3.6 3.6m-3.6 0l3.6-3.6"/>
<path d="M105.6,148.0m-1.8-1.8l3.6 3.6m-3.6 0l3.6-3.6"/>
<path d="M135.4,151.5m-1.8-1.8l3.6 3.6m-3.6 0l3.6-3.6"/>
<path d="M141.5,116.7m-1.8-1.8l3.6 3.6m-3.6 0l3.6-3.6"/>
<path d="M109.3,134.6m-1.8-1.8l3.6 3.6m-3.6 0l3.6-3.6"/>
<path d="M112.0,149.4m-1.8-1.8l3.6 3.6m-3.6 0l3.6-3.6"/>
<path d="M169.2,87.5m-1.8-1.8l3.6 3.6m-3.6 0l3.6-3.6"/>
<path d="M138.1,121.3m-1.8-1.8l3.6 3.6m-3.6 0l3.6-3.6"/>
<path d="M119.4,150.9m-1.8-1.8l3.6 3.6m-3.6 0l3.6-3.6"/>
<path d="M85.7,166.1m-1.8-1.8l3.6 3.6m-3.6 0l3.6-3.6"/>
<path d="M87.6,149.1m-1.8-1.8l3.6 3.6m-3.6 0l3.6-3.6"/>
<path d="M156.7,95.1m-1.8-1.8l3.6 3.6m-3.6 0l3.6-3.6"/>
<path d="M134.5,127.9m-1.8-1.8l3.6 3.6m-3.6 0l3.6-3.6"/>
<path d="M165.7,81.6m-1.8-1.8l3.6 3.6m-3.6 0l3.6-3.6"/>
<path d="M111.0,153.2m-1.8-1.8l3.6 3.6m-3.6 0l3.6-3.6"/>
<path d="M136.4,122.1m-1.8-1.8l3.6 3.6m-3.6 0l3.6-3.6"/>
<path d="M104.8,165.7m-1.8-1.8l3.6 3.6m-3.6 0l3.6-3.6"/>
<path d="M106.0,160.1m-1.8-1.8l3.6 3.6m-3.6 0l3.6-3.6"/>
<path d="M111.9,144.4m-1.8-1.8l3.6 3.6m-3.6 0l3.6-3.6"/>
<path d="M92.3,170.8m-1.8-1.8l3.6 3.6m-3.6 0l3.6-3.6"/>
<path d="M119.6,144.3m-1.8-1.8l3.6 3.6m-3.6 0l3.6-3.6"/>
<path d="M133.3,128.9m-1.8-1.8l3.6 3.6m-3.6 0l3.6-3.6"/>
<path d="M120.3,135.8m-1.8-1.8l3.6 3.6m-3.6 0l3.6-3.6"/>
<path d="M147.6,104.4m-1.8-1.8l3.6 3.6m-3.6 0l3.6-3.6"/>
<path d="M133.4,117.6m-1.8-1.8l3.6 3.6m-3.6 0l3.6-3.6"/>
<path d="M131.2,116.8m-1.8-1.8l3.6 3.6m-3.6 0l3.6-3.6"/>
<path d="M116.7,139.8m-1.8-1.8l3.6 3.6m-3.6 0l3.6-3.6"/>
<path d="M157.7,109.8m-1.8-1.8l3.6 3.6m-3.6 0l3.6-3.6"/>
<path d="M77.2,189.2m-1.8-1.8l3.6 3.6m-3.6 0l3.6-3.6"/>
<path d="M142.3,122.1m-1.8-1.8l3.6 3.6m-3.6 0l3.6-3.6"/>
<path d="M142.7,126.8m-1.8-1.8l3.6 3.6m-3.6 0l3.6-3.6"/>
<path d="M85.5,186.7m-1.8-1.8l3.6 3.6m-3.6 0l3.6-3.6"/>
<path d="M136.4,104.8m-1.8-1.8l3.6 3.6m-3.6 0l3.6-3.6"/>
<path d="M143.9,137.5m-1.8-1.8l3.6 3.6m-3.6 0l3.6-3.6"/>
<path d="M116.3,141.3m-1.8-1.8l3.6 3.6m-3.6 0l3.6-3.6"/>
<path d="M133.0,120.4m-1.8-1.8l3.6 3.6m-3.6 0l3.6-3.6"/>
<path d="M85.1,173.5m-1.8-1.8l3.6 3.6m-3.6 0l3.6-3.6"/>
<path d="M105.6,189.6m-1.8-1.8l3.6 3.6m-3.6 0l3.6-3.6"/>
<path d="M103.0,154.6m-1.8-1.8l3.6 3.6m-3.6 0l3.6-3.6"/>
<path d="M163.6,106.9m-1.8-1.8l3.6 3.6m-3.6 0l3.6-3.6"/>
<path d="M77.9,164.3m-1.8-1.8l3.6 3.6m-3.6 0l3.6-3.6"/>
<path d="M132.2,136.7m-1.8-1.8l3.6 3.6m-3.6 0l3.6-3.6"/>
<path d="M156.2,97.9m-1.8-1.8l3.6 3.6m-3.6 0l3.6-3.6"/>
<path d="M86.0,179.4m-1.8-1.8l3.6 3.6m-3.6 0l3.6-3.6"/>
<path d="M150.3,117.9m-1.8-1.8l3.6 3.6m-3.6 0l3.6-3.6"/>
<path d="M147.6,112.6m-1.8-1.8l3.6 3.6m-3.6 0l3.6-3.6"/>
<path d="M95.4,179.5m-1.8-1.8l3.6 3.6m-3.6 0l3.6-3.6"/>
<path d="M86.2,183.6m-1.8-1.8l3.6 3.6m-3.6 0l3.6-3.6"/>
<path d="M94.8,159.3m-1.8-1.8l3.6 3.6m-3.6 0l3.6-3.6"/>
<path d="M152.3,83.1m-1.8-1.8l3.6 3.6m-3.6 0l3.6-3.6"/>
<path d="M85.0,188.2m-1.8-1.8l3.6 3.6m-3.6 0l3.6-3.6"/>
<path d="M109.6,150.0m-1.8-1.8l3.6 3.6m-3.6 0l3.6-3.6"/>
<path d="M108.5,142.4m-1.8-1.8l3.6 3.6m-3.6 0l3.6-3.6"/>
<path d="M105.1,140.6m-1.8-1.8l3.6 3.6m-3.6 0l3.6-3.6"/>
<path d="M132.7,108.9m-1.8-1.8l3.6 3.6m-3.6 0l3.6-3.6"/>
<path d="M101.1,166.0m-1.8-1.8l3.6 3.6m-3.6 0l3.6-3.6"/>
<path d="M101.1,166.4m-1.8-1.8l3.6 3.6m-3.6 0l3.6-3.6"/>
<path d="M138.9,108.6m-1.8-1.8l3.6 3.6m-3.6 0l3.6-3.6"/>
<path d="M108.2,140.6m-1.8-1.8l3.6 3.6m-3.6 0l3.6-3.6"/>
<path d="M96.8,181.1m-1.8-1.8l3.6 3.6m-3.6 0l3.6-3.6"/>
<path d="M123.9,159.8m-1.8-1.8l3.6 3.6m-3.6 0l3.6-3.6"/>
<path d="M189.2,88.3m-1.8-1.8l3.6 3.6m-3.6 0l3.6-3.6"/>
<path d="M192.5,88.2m-1.8-1.8l3.6 3.6m-3.6 0l3.6-3.6"/>
<path d="M110.1,143.9m-1.8-1.8l3.6 3.6m-3.6 0l3.6-3.6"/>
<path d="M165.0,94.7m-1.8-1.8l3.6 3.6m-3.6 0l3.6-3.6"/>
<path d="M85.0,174.8m-1.8-1.8l3.6 3.6m-3.6 0l3.6-3.6"/>
<path d="M69.7,180.2m-1.8-1.8l3.6 3.6m-3.6 0l3.6-3.6"/>
<path d="M162.8,97.4m-1.8-1.8l3.6 3.6m-3.6 0l3.6-3.6"/>
<path d="M110.6,135.3m-1.8-1.8l3.6 3.6m-3.6 0l3.6-3.6"/>
<path d="M184.2,89.0m-1.8-1.8l3.6 3.6m-3.6 0l3.6-3.6"/>
<path d="M90.6,179.0m-1.8-1.8l3.6 3.6m-3.6 0l3.6-3.6"/>
<path d="M91.5,165.2m-1.8-1.8l3.6 3.6m-3.6 0l3.6-3.6"/>
<path d="M153.1,101.4m-1.8-1.8l3.6 3.6m-3.6 0l3.6-3.6"/>
<path d="M98.1,174.9m-1.8-1.8l3.6 3.6m-3.6 0l3.6-3.6"/>
<path d="M144.4,119.4m-1.8-1.8l3.6 3.6m-3.6 0l3.6-3.6"/>
<path d="M111.9,137.4m-1.8-1.8l3.6 3.6m-3.6 0l3.6-3.6"/>
<path d="M103.0,159.8m-1.8-1.8l3.6 3.6m-3.6 0l3.6-3.6"/>
<path d="M99.4,156.5m-1.8-1.8l3.6 3.6m-3.6 0l3.6-3.6"/>
<path d="M81.3,177.3m-1.8-1.8l3.6 3.6m-3.6 0l3.6-3.6"/>
<path d="M155.3,105.0m-1.8-1.8l3.6 3.6m-3.6 0l3.6-3.6"/>
<path d="M96.1,153.7m-1.8-1.8l3.6 3.6m-3.6 0l3.6-3.6"/>
<path d="M148.2,121.7m-1.8-1.8l3.6 3.6m-3.6 0l3.6-3.6"/>
<path d="M95.0,152.7m-1.8-1.8l3.6 3.6m-3.6 0l3.6-3.6"/>
<path d="M106.8,142.4m-1.8-1.8l3.6 3.6m-3.6 0l3.6-3.6"/>
<path d="M102.5,146.3m-1.8-1.8l3.6 3.6m-3.6 0l3.6-3.6"/>
<path d="M148.6,134.8m-1.8-1.8l3.6 3.6m-3.6 0l3.6-3.6"/>
<path d="M83.4,188.8m-1.8-1.8l3.6 3.6m-3.6 0l3.6-3.6"/>
<path d="M151.4,101.5m-1.8-1.8l3.6 3.6m-3.6 0l3.6-3.6"/>
<path d="M87.8,174.2m-1.8-1.8l3.6 3.6m-3.6 0l3.6-3.6"/>
<path d="M91.8,171.6m-1.8-1.8l3.6 3.6m-3.6 0l3.6-3.6"/>
<path d="M128.7,139.6m-1.8-1.8l3.6 3.6m-3.6 0l3.6-3.6"/>
<path d="M128.1,146.7m-1.8-1.8l3.6 3.6m-3.6 0l3.6-3.6"/>
<path d="M145.7,118.1m-1.8-1.8l3.6 3.6m-3.6 0l3.6-3.6"/>
<path d="M151.0,118.2m-1.8-1.8l3.6 3.6m-3.6 0l3.6-3.6"/>
<path d="M151.7,116.7m-1.8-1.8l3.6 3.6m-3.6 0l3.6-3.6"/>
<path d="M134.9,119.4m-1.8-1.8l3.6 3.6m-3.6 0l3.6-3.6"/>
<path d="M137.5,136.1m-1.8-1.8l3.6 3.6m-3.6 0l3.6-3.6"/>
<path d="M78.9,168.3m-1.8-1.8l3.6 3.6m-3.6 0l3.6-3.6"/>
<path d="M89.2,187.4m-1.8-1.8l3.6 3.6m-3.6 0l3.6-3.6"/>
<path d="M97.2,161.6m-1.8-1.8l3.6 3.6m-3.6 0l3.6-3.6"/>
<path d="M105.8,166.0m-1.8-1.8l3.6 3.6m-3.6 0l3.6-3.6"/>
<path d="M167.7,87.8m-1.8-1.8l3.6 3.6m-3.6 0l3.6-3.6"/>
<path d="M107.0,141.7m-1.8-1.8l3.6 3.6m-3.6 0l3.6-3.6"/>
<path d="M85.4,171.3m-1.8-1.8l3.6 3.6m-3.6 0l3.6-3.6"/>
<path d="M110.0,140.5m-1.8-1.8l3.6 3.6m-3.6 0l3.6-3.6"/>
<path d="M190.3,74.4m-1.8-1.8l3.6 3.6m-3.6 0l3.6-3.6"/>
<path d="M154.8,132.2m-1.8-1.8l3.6 3.6m-3.6 0l3.6-3.6"/>
<path d="M98.0,156.2m-1.8-1.8l3.6 3.6m-3.6 0l3.6-3.6"/>
<path d="M148.2,112.1m-1.8-1.8l3.6 3.6m-3.6 0l3.6-3.6"/>
<path d="M136.8,129.5m-1.8-1.8l3.6 3.6m-3.6 0l3.6-3.6"/>
<path d="M89.9,182.2m-1.8-1.8l3.6 3.6m-3.6 0l3.6-3.6"/>
<path d="M72.2,188.2m-1.8-1.8l3.6 3.6m-3.6 0l3.6-3.6"/>
<path d="M92.8,161.4m-1.8-1.8l3.6 3.6m-3.6 0l3.6-3.6"/>
<path d="M167.2,101.6m-1.8-1.8l3.6 3.6m-3.6 0l3.6-3.6"/>
<path d="M170.4,79.8m-1.8-1.8l3.6 3.6m-3.6 0l3.6-3.6"/>
<path d="M167.2,88.5m-1.8-1.8l3.6 3.6m-3.6 0l3.6-3.6"/>
<path d="M132.2,136.4m-1.8-1.8l3.6 3.6m-3.6 0l3.6-3.6"/>
<path d="M145.8,117.9m-1.8-1.8l3.6 3.6m-3.6 0l3.6-3.6"/>
<path d="M127.6,106.1m-1.8-1.8l3.6 3.6m-3.6 0l3.6-3.6"/>
<path d="M72.5,183.0m-1.8-1.8l3.6 3.6m-3.6 0l3.6-3.6"/>
<path d="M79.0,170.3m-1.8-1.8l3.6 3.6m-3.6 0l3.6-3.6"/>
<path d="M185.4,81.7m-1.8-1.8l3.6 3.6m-3.6 0l3.6-3.6"/>
<path d="M135.9,103.7m-1.8-1.8l3.6 3.6m-3.6 0l3.6-3.6"/>
<path d="M140.0,119.5m-1.8-1.8l3.6 3.6m-3.6 0l3.6-3.6"/>
<path d="M108.4,165.3m-1.8-1.8l3.6 3.6m-3.6 0l3.6-3.6"/>
<path d="M125.4,116.4m-1.8-1.8l3.6 3.6m-3.6 0l3.6-3.6"/>
<path d="M195.1,63.8m-1.8-1.8l3.6 3.6m-3.6 0l3.6-3.6"/>
<path d="M196.1,52.9m-1.8-1.8l3.6 3.6m-3.6 0l3.6-3.6"/>
<path d="M94.5,166.5m-1.8-1.8l3.6 3.6m-3.6 0l3.6-3.6"/>
<path d="M163.1,92.6m-1.8-1.8l3.6 3.6m-3.6 0l3.6-3.6"/>
<path d="M126.8,137.8m-1.8-1.8l3.6 3.6m-3.6 0l3.6-3.6"/>
<path d="M64.3,182.0m-1.8-1.8l3.6 3.6m-3.6 0l3.6-3.6"/>
<path d="M74.5,181.1m-1.8-1.8l3.6 3.6m-3.6 0l3.6-3.6"/>
<path d="M77.9,170.4m-1.8-1.8l3.6 3.6m-3.6 0l3.6-3.6"/>
<path d="M114.6,128.0m-1.8-1.8l3.6 3.6m-3.6 0l3.6-3.6"/>
<path d="M134.8,148.9m-1.8-1.8l3.6 3.6m-3.6 0l3.6-3.6"/>
<path d="M116.7,142.3m-1.8-1.8l3.6 3.6m-3.6 0l3.6-3.6"/>
<path d="M130.4,125.4m-1.8-1.8l3.6 3.6m-3.6 0l3.6-3.6"/>
<path d="M107.6,153.8m-1.8-1.8l3.6 3.6m-3.6 0l3.6-3.6"/>
<path d="M94.9,180.3m-1.8-1.8l3.6 3.6m-3.6 0l3.6-3.6"/>
<path d="M95.8,164.4m-1.8-1.8l3.6 3.6m-3.6 0l3.6-3.6"/>
<path d="M103.0,182.0m-1.8-1.8l3.6 3.6m-3.6 0l3.6-3.6"/>
<path d="M111.0,146.3m-1.8-1.8l3.6 3.6m-3.6 0l3.6-3.6"/>
<path d="M141.5,93.8m-1.8-1.8l3.6 3.6m-3.6 0l3.6-3.6"/>
<path d="M173.6,69.7m-1.8-1.8l3.6 3.6m-3.6 0l3.6-3.6"/>
<path d="M121.6,141.1m-1.8-1.8l3.6 3.6m-3.6 0l3.6-3.6"/>
<path d="M180.1,72.3m-1.8-1.8l3.6 3.6m-3.6 0l3.6-3.6"/>
<path d="M107.7,138.2m-1.8-1.8l3.6 3.6m-3.6 0l3.6-3.6"/>
<path d="M157.0,80.3m-1.8-1.8l3.6 3.6m-3.6 0l3.6-3.6"/>
<path d="M81.5,187.5m-1.8-1.8l3.6 3.6m-3.6 0l3.6-3.6"/>
<path d="M82.2,167.9m-1.8-1.8l3.6 3.6m-3.6 0l3.6-3.6"/>
<path d="M115.2,160.0m-1.8-1.8l3.6 3.6m-3.6 0l3.6-3.6"/>
<path d="M133.5,139.0m-1.8-1.8l3.6 3.6m-3.6 0l3.6-3.6"/>
<path d="M118.3,143.5m-1.8-1.8l3.6 3.6m-3.6 0l3.6-3.6"/>
<path d="M109.7,148.7m-1.8-1.8l3.6 3.6m-3.6 0l3.6-3.6"/>
<path d="M143.4,131.0m-1.8-1.8l3.6 3.6m-3.6 0l3.6-3.6"/>
<path d="M94.2,166.8m-1.8-1.8l3.6 3.6m-3.6 0l3.6-3.6"/>
<path d="M115.5,159.8m-1.8-1.8l3.6 3.6m-3.6 0l3.6-3.6"/>
<path d="M112.9,150.4m-1.8-1.8l3.6 3.6m-3.6 0l3.6-3.6"/>
<path d="M100.8,175.2m-1.8-1.8l3.6 3.6m-3.6 0l3.6-3.6"/>
<path d="M154.1,117.1m-1.8-1.8l3.6 3.6m-3.6 0l3.6-3.6"/>
<path d="M67.1,178.4m-1.8-1.8l3.6 3.6m-3.6 0l3.6-3.6"/>
<path d="M130.0,108.8m-1.8-1.8l3.6 3.6m-3.6 0l3.6-3.6"/>
<path d="M153.8,104.8m-1.8-1.8l3.6 3.6m-3.6 0l3.6-3.6"/>
<path d="M159.2,103.4m-1.8-1.8l3.6 3.6m-3.6 0l3.6-3.6"/>
<path d="M117.1,122.9m-1.8-1.8l3.6 3.6m-3.6 0l3.6-3.6"/>
<path d="M138.4,115.9m-1.8-1.8l3.6 3.6m-3.6 0l3.6-3.6"/>
<path d="M141.5,114.7m-1.8-1.8l3.6 3.6m-3.6 0l3.6-3.6"/>
<path d="M172.9,104.8m-1.8-1.8l3.6 3.6m-3.6 0l3.6-3.6"/>
<path d="M98.6,164.5m-1.8-1.8l3.6 3.6m-3.6 0l3.6-3.6"/>
<path d="M109.8,125.0m-1.8-1.8l3.6 3.6m-3.6 0l3.6-3.6"/>
<path d="M160.3,107.9m-1.8-1.8l3.6 3.6m-3.6 0l3.6-3.6"/>
<path d="M180.2,54.9m-1.8-1.8l3.6 3.6m-3.6 0l3.6-3.6"/>
<path d="M124.5,134.6m-1.8-1.8l3.6 3.6m-3.6 0l3.6-3.6"/>
<path d="M100.1,159.5m-1.8-1.8l3.6 3.6m-3.6 0l3.6-3.6"/>
<path d="M122.4,121.1m-1.8-1.8l3.6 3.6m-3.6 0l3.6-3.6"/>
<path d="M139.9,104.3m-1.8-1.8l3.6 3.6m-3.6 0l3.6-3.6"/>
<path d="M127.3,127.5m-1.8-1.8l3.6 3.6m-3.6 0l3.6-3.6"/>
<path d="M113.4,124.4m-1.8-1.8l3.6 3.6m-3.6 0l3.6-3.6"/>
<path d="M104.3,166.0m-1.8-1.8l3.6 3.6m-3.6 0l3.6-3.6"/>
<path d="M147.3,121.7m-1.8-1.8l3.6 3.6m-3.6 0l3.6-3.6"/>
<path d="M124.0,132.5m-1.8-1.8l3.6 3.6m-3.6 0l3.6-3.6"/>
<path d="M80.6,181.1m-1.8-1.8l3.6 3.6m-3.6 0l3.6-3.6"/>
<path d="M134.1,148.3m-1.8-1.8l3.6 3.6m-3.6 0l3.6-3.6"/>
<path d="M107.7,145.3m-1.8-1.8l3.6 3.6m-3.6 0l3.6-3.6"/>
<path d="M147.6,114.8m-1.8-1.8l3.6 3.6m-3.6 0l3.6-3.6"/>
<path d="M171.7,93.5m-1.8-1.8l3.6 3.6m-3.6 0l3.6-3.6"/>
<path d="M126.4,139.8m-1.8-1.8l3.6 3.6m-3.6 0l3.6-3.6"/>
<path d="M112.9,169.8m-1.8-1.8l3.6 3.6m-3.6 0l3.6-3.6"/>
<path d="M125.2,115.4m-1.8-1.8l3.6 3.6m-3.6 0l3.6-3.6"/>
<path d="M168.7,98.7m-1.8-1.8l3.6 3.6m-3.6 0l3.6-3.6"/>
<path d="M85.7,166.2m-1.8-1.8l3.6 3.6m-3.6 0l3.6-3.6"/>
<path d="M134.3,109.1m-1.8-1.8l3.6 3.6m-3.6 0l3.6-3.6"/>
<path d="M169.7,84.4m-1.8-1.8l3.6 3.6m-3.6 0l3.6-3.6"/>
<path d="M164.6,94.6m-1.8-1.8l3.6 3.6m-3.6 0l3.6-3.6"/>
<path d="M184.2,78.4m-1.8-1.8l3.6 3.6m-3.6 0l3.6-3.6"/>
<path d="M139.8,116.6m-1.8-1.8l3.6 3.6m-3.6 0l3.6-3.6"/>
<path d="M151.9,98.3m-1.8-1.8l3.6 3.6m-3.6 0l3.6-3.6"/>
<path d="M75.2,176.1m-1.8-1.8l3.6 3.6m-3.6 0l3.6-3.6"/>
<path d="M146.8,118.8m-1.8-1.8l3.6 3.6m-3.6 0l3.6-3.6"/>
<path d="M151.9,103.6m-1.8-1.8l3.6 3.6m-3.6 0l3.6-3.6"/>
<path d="M121.3,133.1m-1.8-1.8l3.6 3.6m-3.6 0l3.6-3.6"/>
<path d="M81.8,168.7m-1.8-1.8l3.6 3.6m-3.6 0l3.6-3.6"/>
<path d="M150.0,108.2m-1.8-1.8l3.6 3.6m-3.6 0l3.6-3.6"/>
<path d="M125.3,117.8m-1.8-1.8l3.6 3.6m-3.6 0l3.6-3.6"/>
<path d="M98.5,156.9m-1.8-1.8l3.6 3.6m-3.6 0l3.6-3.6"/>
<path d="M113.6,135.0m-1.8-1.8l3.6 3.6m-3.6 0l3.6-3.6"/>
<path d="M121.4,136.9m-1.8-1.8l3.6 3.6m-3.6 0l3.6-3.6"/>
<path d="M137.7,128.8m-1.8-1.8l3.6 3.6m-3.6 0l3.6-3.6"/>
<path d="M95.8,170.3m-1.8-1.8l3.6 3.6m-3.6 0l3.6-3.6"/>
<path d="M139.0,122.7m-1.8-1.8l3.6 3.6m-3.6 0l3.6-3.6"/>
<path d="M177.8,79.3m-1.8-1.8l3.6 3.6m-3.6 0l3.6-3.6"/>
<path d="M150.7,95.2m-1.8-1.8l3.6 3.6m-3.6 0l3.6-3.6"/>
<path d="M87.5,169.9m-1.8-1.8l3.6 3.6m-3.6 0l3.6-3.6"/>
<path d="M139.1,126.8m-1.8-1.8l3.6 3.6m-3.6 0l3.6-3.6"/>
<path d="M167.3,104.8m-1.8-1.8l3.6 3.6m-3.6 0l3.6-3.6"/>
<path d="M140.8,120.1m-1.8-1.8l3.6 3.6m-3.6 0l3.6-3.6"/>
<path d="M105.1,151.5m-1.8-1.8l3.6 3.6m-3.6 0l3.6-3.6"/>
<path d="M92.2,169.4m-1.8-1.8l3.6 3.6m-3.6 0l3.6-3.6"/>
<path d="M91.6,158.6m-1.8-1.8l3.6 3.6m-3.6 0l3.6-3.6"/>
<path d="M114.5,158.3m-1.8-1.8l3.6 3.6m-3.6 0l3.6-3.6"/>
<path d="M86.4,169.1m-1.8-1.8l3.6 3.6m-3.6 0l3.6-3.6"/>
<path d="M100.6,157.3m-1.8-1.8l3.6 3.6m-3.6 0l3.6-3.6"/>
<path d="M120.0,140.2m-1.8-1.8l3.6 3.6m-3.6 0l3.6-3.6"/>
<path d="M123.3,149.0m-1.8-1.8l3.6 3.6m-3.6 0l3.6-3.6"/>
<path d="M79.8,167.9m-1.8-1.8l3.6 3.6m-3.6 0l3.6-3.6"/>
<path d="M158.9,82.7m-1.8-1.8l3.6 3.6m-3.6 0l3.6-3.6"/>
<path d="M99.6,170.7m-1.8-1.8l3.6 3.6m-3.6 0l3.6-3.6"/>
<path d="M99.5,156.7m-1.8-1.8l3.6 3.6m-3.6 0l3.6-3.6"/>
<path d="M161.0,92.8m-1.8-1.8l3.6 3.6m-3.6 0l3.6-3.6"/>
<path d="M107.8,126.5m-1.8-1.8l3.6 3.6m-3.6 0l3.6-3.6"/>
<path d="M70.9,187.8m-1.8-1.8l3.6 3.6m-3.6 0l3.6-3.6"/>
<path d="M74.4,188.8m-1.8-1.8l3.6 3.6m-3.6 0l3.6-3.6"/>
<path d="M143.1,117.1m-1.8-1.8l3.6 3.6m-3.6 0l3.6-3.6"/>
<path d="M142.0,94.7m-1.8-1.8l3.6 3.6m-3.6 0l3.6-3.6"/>
<path d="M163.4,97.3m-1.8-1.8l3.6 3.6m-3.6 0l3.6-3.6"/>
<path d="M129.1,127.1m-1.8-1.8l3.6 3.6m-3.6 0l3.6-3.6"/>
<path d="M159.8,100.7m-1.8-1.8l3.6 3.6m-3.6 0l3.6-3.6"/>
<path d="M160.5,125.5m-1.8-1.8l3.6 3.6m-3.6 0l3.6-3.6"/>
<path d="M126.3,157.9m-1.8-1.8l3.6 3.6m-3.6 0l3.6-3.6"/>
<path d="M133.9,115.2m-1.8-1.8l3.6 3.6m-3.6 0l3.6-3.6"/>
<path d="M116.8,133.0m-1.8-1.8l3.6 3.6m-3.6 0l3.6-3.6"/>
<path d="M109.2,163.4m-1.8-1.8l3.6 3.6m-3.6 0l3.6-3.6"/>
<path d="M134.9,118.7m-1.8-1.8l3.6 3.6m-3.6 0l3.6-3.6"/>
<path d="M114.3,143.5m-1.8-1.8l3.6 3.6m-3.6 0l3.6-3.6"/>
<path d="M103.9,151.6m-1.8-1.8l3.6 3.6m-3.6 0l3.6-3.6"/>
<path d="M121.2,146.8m-1.8-1.8l3.6 3.6m-3.6 0l3.6-3.6"/>
<path d="M123.4,140.7m-1.8-1.8l3.6 3.6m-3.6 0l3.6-3.6"/>
<path d="M136.5,133.4m-1.8-1.8l3.6 3.6m-3.6 0l3.6-3.6"/>
<path d="M144.5,107.2m-1.8-1.8l3.6 3.6m-3.6 0l3.6-3.6"/>
<path d="M93.5,165.6m-1.8-1.8l3.6 3.6m-3.6 0l3.6-3.6"/>
<path d="M121.5,117.8m-1.8-1.8l3.6 3.6m-3.6 0l3.6-3.6"/>
<path d="M122.8,128.7m-1.8-1.8l3.6 3.6m-3.6 0l3.6-3.6"/>
<path d="M90.9,151.8m-1.8-1.8l3.6 3.6m-3.6 0l3.6-3.6"/>
<path d="M93.2,159.9m-1.8-1.8l3.6 3.6m-3.6 0l3.6-3.6"/>
<path d="M165.6,79.6m-1.8-1.8l3.6 3.6m-3.6 0l3.6-3.6"/>
<path d="M109.6,145.4m-1.8-1.8l3.6 3.6m-3.6 0l3.6-3.6"/>
<path d="M72.6,174.8m-1.8-1.8l3.6 3.6m-3.6 0l3.6-3.6"/>
<path d="M120.4,138.7m-1.8-1.8l3.6 3.6m-3.6 0l3.6-3.6"/>
<path d="M85.2,165.2m-1.8-1.8l3.6 3.6m-3.6 0l3.6-3.6"/>
<path d="M65.5,179.3m-1.8-1.8l3.6 3.6m-3.6 0l3.6-3.6"/>
<path d="M172.0,81.6m-1.8-1.8l3.6 3.6m-3.6 0l3.6-3.6"/>
<path d="M136.7,139.0m-1.8-1.8l3.6 3.6m-3.6 0l3.6-3.6"/>
<path d="M120.6,102.5m-1.8-1.8l3.6 3.6m-3.6 0l3.6-3.6"/>
<path d="M76.8,189.3m-1.8-1.8l3.6 3.6m-3.6 0l3.6-3.6"/>
<path d="M155.9,129.6m-1.8-1.8l3.6 3.6m-3.6 0l3.6-3.6"/>
<path d="M77.9,173.8m-1.8-1.8l3.6 3.6m-3.6 0l3.6-3.6"/>
<path d="M158.0,105.1m-1.8-1.8l3.6 3.6m-3.6 0l3.6-3.6"/>
<path d="M90.9,164.9m-1.8-1.8l3.6 3.6m-3.6 0l3.6-3.6"/>
<path d="M130.6,123.8m-1.8-1.8l3.6 3.6m-3.6 0l3.6-3.6"/>
<path d="M134.7,149.9m-1.8-1.8l3.6 3.6m-3.6 0l3.6-3.6"/>
<path d="M188.1,85.1m-1.8-1.8l3.6 3.6m-3.6 0l3.6-3.6"/>
<path d="M122.8,131.7m-1.8-1.8l3.6 3.6m-3.6 0l3.6-3.6"/>
<path d="M144.4,111.8m-1.8-1.8l3.6 3.6m-3.6 0l3.6-3.6"/>
<path d="M108.1,144.6m-1.8-1.8l3.6 3.6m-3.6 0l3.6-3.6"/>
<path d="M70.0,170.8m-1.8-1.8l3.6 3.6m-3.6 0l3.6-3.6"/>
<path d="M132.1,135.9m-1.8-1.8l3.6 3.6m-3.6 0l3.6-3.6"/>
<path d="M122.0,136.1m-1.8-1.8l3.6 3.6m-3.6 0l3.6-3.6"/>
<path d="M128.9,136.4m-1.8-1.8l3.6 3.6m-3.6 0l3.6-3.6"/>
<path d="M110.7,152.2m-1.8-1.8l3.6 3.6m-3.6 0l3.6-3.6"/>
<path d="M125.7,147.2m-1.8-1.8l3.6 3.6m-3.6 0l3.6-3.6"/>
<path d="M169.9,98.5m-1.8-1.8l3.6 3.6m-3.6 0l3.6-3.6"/>
<path d="M117.2,129.4m-1.8-1.8l3.6 3.6m-3.6 0l3.6-3.6"/>
<path d="M81.9,176.6m-1.8-1.8l3.6 3.6m-3.6 0l3.6-3.6"/>
<path d="M102.6,148.8m-1.8-1.8l3.6 3.6m-3.6 0l3.6-3.6"/>
<path d="M100.1,164.5m-1.8-1.8l3.6 3.6m-3.6 0l3.6-3.6"/>
<path d="M191.8,67.9m-1.8-1.8l3.6 3.6m-3.6 0l3.6-3.6"/>
<path d="M112.2,153.2m-1.8-1.8l3.6 3.6m-3.6 0l3.6-3.6"/>
<path d="M98.1,167.3m-1.8-1.8l3.6 3.6m-3.6 0l3.6-3.6"/>
<path d="M170.9,89.7m-1.8-1.8l3.6 3.6m-3.6 0l3.6-3.6"/>
<path d="M113.9,143.8m-1.8-1.8l3.6 3.6m-3.6 0l3.6-3.6"/>
<path d="M74.2,173.5m-1.8-1.8l3.6 3.6m-3.6 0l3.6-3.6"/>
<path d="M106.7,168.0m-1.8-1.8l3.6 3.6m-3.6 0l3.6-3.6"/>
<path d="M108.9,143.8m-1.8-1.8l3.6 3.6m-3.6 0l3.6-3.6"/>
<path d="M118.6,121.8m-1.8-1.8l3.6 3.6m-3.6 0l3.6-3.6"/>
<path d="M128.7,113.9m-1.8-1.8l3.6 3.6m-3.6 0l3.6-3.6"/>
<path d="M66.5,191.6m-1.8-1.8l3.6 3.6m-3.6 0l3.6-3.6"/>
<path d="M117.6,148.6m-1.8-1.8l3.6 3.6m-3.6 0l3.6-3.6"/>
<path d="M76.9,183.0m-1.8-1.8l3.6 3.6m-3.6 0l3.6-3.6"/>
<path d="M117.2,137.9m-1.8-1.8l3.6 3.6m-3.6 0l3.6-3.6"/>
<path d="M70.8,183.4m-1.8-1.8l3.6 3.6m-3.6 0l3.6-3.6"/>
<path d="M121.2,133.5m-1.8-1.8l3.6 3.6m-3.6 0l3.6-3.6"/>
<path d="M166.6,88.3m-1.8-1.8l3.6 3.6m-3.6 0l3.6-3.6"/>
<path d="M185.2,64.5m-1.8-1.8l3.6 3.6m-3.6 0l3.6-3.6"/>
<path d="M76.7,188.2m-1.8-1.8l3.6 3.6m-3.6 0l3.6-3.6"/>
<path d="M128.3,145.1m-1.8-1.8l3.6 3.6m-3.6 0l3.6-3.6"/>
<path d="M97.6,172.6m-1.8-1.8l3.6 3.6m-3.6 0l3.6-3.6"/>
<path d="M147.2,110.3m-1.8-1.8l3.6 3.6m-3.6 0l3.6-3.6"/>
<path d="M113.0,141.9m-1.8-1.8l3.6 3.6m-3.6 0l3.6-3.6"/>
<path d="M167.4,65.9m-1.8-1.8l3.6 3.6m-3.6 0l3.6-3.6"/>
<path d="M122.5,130.1m-1.8-1.8l3.6 3.6m-3.6 0l3.6-3.6"/>
<path d="M173.2,89.5m-1.8-1.8l3.6 3.6m-3.6 0l3.6-3.6"/>
<path d="M123.1,119.3m-1.8-1.8l3.6 3.6m-3.6 0l3.6-3.6"/>
<path d="M155.1,114.3m-1.8-1.8l3.6 3.6m-3.6 0l3.6-3.6"/>
<path d="M163.8,93.7m-1.8-1.8l3.6 3.6m-3.6 0l3.6-3.6"/>
<path d="M127.5,120.3m-1.8-1.8l3.6 3.6m-3.6 0l3.6-3.6"/>
<path d="M111.0,144.1m-1.8-1.8l3.6 3.6m-3.6 0l3.6-3.6"/>
<path d="M182.0,76.9m-1.8-1.8l3.6 3.6m-3.6 0l3.6-3.6"/>
<path d="M113.0,149.0m-1.8-1.8l3.6 3.6m-3.6 0l3.6-3.6"/>
<path d="M119.1,153.6m-1.8-1.8l3.6 3.6m-3.6 0l3.6-3.6"/>
<path d="M141.9,119.9m-1.8-1.8l3.6 3.6m-3.6 0l3.6-3.6"/>
<path d="M153.0,73.1m-1.8-1.8l3.6 3.6m-3.6 0l3.6-3.6"/>
<path d="M141.8,110.3m-1.8-1.8l3.6 3.6m-3.6 0l3.6-3.6"/>
<path d="M97.6,160.9m-1.8-1.8l3.6 3.6m-3.6 0l3.6-3.6"/>
<path d="M120.8,131.5m-1.8-1.8l3.6 3.6m-3.6 0l3.6-3.6"/>
<path d="M125.5,152.2m-1.8-1.8l3.6 3.6m-3.6 0l3.6-3.6"/>
<path d="M157.3,92.4m-1.8-1.8l3.6 3.6m-3.6 0l3.6-3.6"/>
<path d="M167.2,104.4m-1.8-1.8l3.6 3.6m-3.6 0l3.6-3.6"/>
<path d="M171.4,108.6m-1.8-1.8l3.6 3.6m-3.6 0l3.6-3.6"/>
<path d="M117.1,156.8m-1.8-1.8l3.6 3.6m-3.6 0l3.6-3.6"/>
<path d="M193.1,77.5m-1.8-1.8l3.6 3.6m-3.6 0l3.6-3.6"/>
<path d="M157.1,90.9m-1.8-1.8l3.6 3.6m-3.6 0l3.6-3.6"/>
<path d="M130.9,120.2m-1.8-1.8l3.6 3.6m-3.6 0l3.6-3.6"/>
<path d="M114.5,156.7m-1.8-1.8l3.6 3.6m-3.6 0l3.6-3.6"/>
<path d="M130.3,128.1m-1.8-1.8l3.6 3.6m-3.6 0l3.6-3.6"/>
<path d="M152.1,109.9m-1.8-1.8l3.6 3.6m-3.6 0l3.6-3.6"/>
<path d="M138.0,140.0m-1.8-1.8l3.6 3.6m-3.6 0l3.6-3.6"/>
<path d="M119.1,150.7m-1.8-1.8l3.6 3.6m-3.6 0l3.6-3.6"/>
<path d="M134.3,132.9m-1.8-1.8l3.6 3.6m-3.6 0l3.6-3.6"/>
<path d="M152.1,118.7m-1.8-1.8l3.6 3.6m-3.6 0l3.6-3.6"/>
<path d="M97.8,185.0m-1.8-1.8l3.6 3.6m-3.6 0l3.6-3.6"/>
<path d="M187.0,85.2m-1.8-1.8l3.6 3.6m-3.6 0l3.6-3.6"/>
<path d="M90.6,174.7m-1.8-1.8l3.6 3.6m-3.6 0l3.6-3.6"/>
<path d="M146.9,122.7m-1.8-1.8l3.6 3.6m-3.6 0l3.6-3.6"/>
<path d="M155.4,115.0m-1.8-1.8l3.6 3.6m-3.6 0l3.6-3.6"/>
<path d="M138.8,107.7m-1.8-1.8l3.6 3.6m-3.6 0l3.6-3.6"/>
<path d="M162.9,102.6m-1.8-1.8l3.6 3.6m-3.6 0l3.6-3.6"/>
<path d="M160.3,98.1m-1.8-1.8l3.6 3.6m-3.6 0l3.6-3.6"/>
<path d="M153.8,90.4m-1.8-1.8l3.6 3.6m-3.6 0l3.6-3.6"/>
<path d="M165.1,86.1m-1.8-1.8l3.6 3.6m-3.6 0l3.6-3.6"/>
<path d="M174.0,81.0m-1.8-1.8l3.6 3.6m-3.6 0l3.6-3.6"/>
<path d="M192.9,76.8m-1.8-1.8l3.6 3.6m-3.6 0l3.6-3.6"/>
<path d="M143.5,129.4m-1.8-1.8l3.6 3.6m-3.6 0l3.6-3.6"/>
<path d="M88.8,174.9m-1.8-1.8l3.6 3.6m-3.6 0l3.6-3.6"/>
<path d="M71.8,187.4m-1.8-1.8l3.6 3.6m-3.6 0l3.6-3.6"/>
<path d="M131.8,127.6m-1.8-1.8l3.6 3.6m-3.6 0l3.6-3.6"/>
<path d="M121.5,138.3m-1.8-1.8l3.6 3.6m-3.6 0l3.6-3.6"/>
<path d="M178.9,72.9m-1.8-1.8l3.6 3.6m-3.6 0l3.6-3.6"/>
<path d="M127.7,132.7m-1.8-1.8l3.6 3.6m-3.6 0l3.6-3.6"/>
<path d="M140.6,98.6m-1.8-1.8l3.6 3.6m-3.6 0l3.6-3.6"/>
<path d="M177.2,100.3m-1.8-1.8l3.6 3.6m-3.6 0l3.6-3.6"/>
<path d="M98.4,163.6m-1.8-1.8l3.6 3.6m-3.6 0l3.6-3.6"/>
<path d="M82.0,167.1m-1.8-1.8l3.6 3.6m-3.6 0l3.6-3.6"/>
<path d="M122.8,169.3m-1.8-1.8l3.6 3.6m-3.6 0l3.6-3.6"/>
<path d="M150.7,93.9m-1.8-1.8l3.6 3.6m-3.6 0l3.6-3.6"/>
<path d="M97.3,153.1m-1.8-1.8l3.6 3.6m-3.6 0l3.6-3.6"/>
<path d="M131.2,123.6m-1.8-1.8l3.6 3.6m-3.6 0l3.6-3.6"/>
<path d="M132.7,146.3m-1.8-1.8l3.6 3.6m-3.6 0l3.6-3.6"/>
<path d="M75.7,160.4m-1.8-1.8l3.6 3.6m-3.6 0l3.6-3.6"/>
<path d="M95.5,164.0m-1.8-1.8l3.6 3.6m-3.6 0l3.6-3.6"/>
<path d="M101.2,157.7m-1.8-1.8l3.6 3.6m-3.6 0l3.6-3.6"/>
<path d="M149.3,98.2m-1.8-1.8l3.6 3.6m-3.6 0l3.6-3.6"/>
<path d="M105.4,154.3m-1.8-1.8l3.6 3.6m-3.6 0l3.6-3.6"/>
<path d="M180.9,91.5m-1.8-1.8l3.6 3.6m-3.6 0l3.6-3.6"/>
<path d="M100.9,150.0m-1.8-1.8l3.6 3.6m-3.6 0l3.6-3.6"/>
<path d="M104.1,163.9m-1.8-1.8l3.6 3.6m-3.6 0l3.6-3.6"/>
<path d="M101.2,148.9m-1.8-1.8l3.6 3.6m-3.6 0l3.6-3.6"/>
<path d="M170.2,79.7m-1.8-1.8l3.6 3.6m-3.6 0l3.6-3.6"/>
<path d="M123.4,122.5m-1.8-1.8l3.6 3.6m-3.6 0l3.6-3.6"/>
<path d="M101.6,167.9m-1.8-1.8l3.6 3.6m-3.6 0l3.6-3.6"/>
<path d="M157.8,88.9m-1.8-1.8l3.6 3.6m-3.6 0l3.6-3.6"/>
<path d="M107.9,146.9m-1.8-1.8l3.6 3.6m-3.6 0l3.6-3.6"/>
<path d="M173.6,68.0m-1.8-1.8l3.6 3.6m-3.6 0l3.6-3.6"/>
<path d="M101.6,162.4m-1.8-1.8l3.6 3.6m-3.6 0l3.6-3.6"/>
<path d="M139.9,98.5m-1.8-1.8l3.6 3.6m-3.6 0l3.6-3.6"/>
<path d="M168.2,85.7m-1.8-1.8l3.6 3.6m-3.6 0l3.6-3.6"/>
<path d="M142.8,108.2m-1.8-1.8l3.6 3.6m-3.6 0l3.6-3.6"/>
<path d="M88.0,175.1m-1.8-1.8l3.6 3.6m-3.6 0l3.6-3.6"/>
<path d="M85.2,166.5m-1.8-1.8l3.6 3.6m-3.6 0l3.6-3.6"/>
<path d="M150.0,102.9m-1.8-1.8l3.6 3.6m-3.6 0l3.6-3.6"/>
<path d="M155.2,115.3m-1.8-1.8l3.6 3.6m-3.6 0l3.6-3.6"/>
<path d="M70.6,188.0m-1.8-1.8l3.6 3.6m-3.6 0l3.6-3.6"/>
<path d="M99.5,158.6m-1.8-1.8l3.6 3.6m-3.6 0l3.6-3.6"/>
<path d="M108.2,134.5m-1.8-1.8l3.6 3.6m-3.6 0l3.6-3.6"/>
<path d="M144.8,113.6m-1.8-1.8l3.6 3.6m-3.6 0l3.6-3.6"/>
<path d="M92.9,154.2m-1.8-1.8l3.6 3.6m-3.6 0l3.6-3.6"/>
<path d="M138.8,117.7m-1.8-1.8l3.6 3.6m-3.6 0l3.6-3.6"/>
<path d="M106.7,149.9m-1.8-1.8l3.6 3.6m-3.6 0l3.6-3.6"/>
<path d="M167.8,62.6m-1.8-1.8l3.6 3.6m-3.6 0l3.6-3.6"/>
<path d="M151.6,113.8m-1.8-1.8l3.6 3.6m-3.6 0l3.6-3.6"/>
<path d="M149.3,97.1m-1.8-1.8l3.6 3.6m-3.6 0l3.6-3.6"/>
<path d="M129.9,124.5m-1.8-1.8l3.6 3.6m-3.6 0l3.6-3.6"/>
<path d="M120.7,135.4m-1.8-1.8l3.6 3.6m-3.6 0l3.6-3.6"/>
<path d="M115.9,157.8m-1.8-1.8l3.6 3.6m-3.6 0l3.6-3.6"/>
<path d="M128.4,127.2m-1.8-1.8l3.6 3.6m-3.6 0l3.6-3.6"/>
<path d="M174.2,95.7m-1.8-1.8l3.6 3.6m-3.6 0l3.6-3.6"/>
<path d="M142.9,123.0m-1.8-1.8l3.6 3.6m-3.6 0l3.6-3.6"/>
<path d="M115.6,131.4m-1.8-1.8l3.6 3.6m-3.6 0l3.6-3.6"/>
<path d="M80.8,184.4m-1.8-1.8l3.6 3.6m-3.6 0l3.6-3.6"/>
<path d="M128.9,132.7m-1.8-1.8l3.6 3.6m-3.6 0l3.6-3.6"/>
<path d="M138.5,114.0m-1.8-1.8l3.6 3.6m-3.6 0l3.6-3.6"/>
<path d="M157.0,90.7m-1.8-1.8l3.6 3.6m-3.6 0l3.6-3.6"/>
<path d="M177.1,91.2m-1.8-1.8l3.6 3.6m-3.6 0l3.6-3.6"/>
<path d="M82.7,179.3m-1.8-1.8l3.6 3.6m-3.6 0l3.6-3.6"/>
<path d="M141.7,115.1m-1.8-1.8l3.6 3.6m-3.6 0l3.6-3.6"/>
<path d="M73.8,190.2m-1.8-1.8l3.6 3.6m-3.6 0l3.6-3.6"/>
<path d="M85.7,189.3m-1.8-1.8l3.6 3.6m-3.6 0l3.6-3.6"/>
<path d="M141.8,140.6m-1.8-1.8l3.6 3.6m-3.6 0l3.6-3.6"/>
<path d="M127.5,124.8m-1.8-1.8l3.6 3.6m-3.6 0l3.6-3.6"/>
<path d="M130.4,133.3m-1.8-1.8l3.6 3.6m-3.6 0l3.6-3.6"/>
<path d="M80.4,186.8m-1.8-1.8l3.6 3.6m-3.6 0l3.6-3.6"/>
<path d="M123.5,142.9m-1.8-1.8l3.6 3.6m-3.6 0l3.6-3.6"/>
<path d="M191.2,76.6m-1.8-1.8l3.6 3.6m-3.6 0l3.6-3.6"/>
<path d="M144.2,132.0m-1.8-1.8l3.6 3.6m-3.6 0l3.6-3.6"/>
<path d="M94.6,162.8m-1.8-1.8l3.6 3.6m-3.6 0l3.6-3.6"/>
<path d="M151.0,84.1m-1.8-1.8l3.6 3.6m-3.6 0l3.6-3.6"/>
<path d="M92.9,168.8m-1.8-1.8l3.6 3.6m-3.6 0l3.6-3.6"/>
<path d="M146.3,112.4m-1.8-1.8l3.6 3.6m-3.6 0l3.6-3.6"/>
<path d="M128.2,139.9m-1.8-1.8l3.6 3.6m-3.6 0l3.6-3.6"/>
<path d="M108.1,170.6m-1.8-1.8l3.6 3.6m-3.6 0l3.6-3.6"/>
<path d="M168.8,103.1m-1.8-1.8l3.6 3.6m-3.6 0l3.6-3.6"/>
<path d="M112.1,148.6m-1.8-1.8l3.6 3.6m-3.6 0l3.6-3.6"/>
<path d="M168.6,99.6m-1.8-1.8l3.6 3.6m-3.6 0l3.6-3.6"/>
<path d="M145.5,110.8m-1.8-1.8l3.6 3.6m-3.6 0l3.6-3.6"/>
<path d="M105.1,150.4m-1.8-1.8l3.6 3.6m-3.6 0l3.6-3.6"/>
<path d="M120.8,153.2m-1.8-1.8l3.6 3.6m-3.6 0l3.6-3.6"/>
<path d="M123.0,113.7m-1.8-1.8l3.6 3.6m-3.6 0l3.6-3.6"/>
<path d="M141.2,132.3m-1.8-1.8l3.6 3.6m-3.6 0l3.6-3.6"/>
<path d="M131.3,124.0m-1.8-1.8l3.6 3.6m-3.6 0l3.6-3.6"/>
<path d="M142.2,135.6m-1.8-1.8l3.6 3.6m-3.6 0l3.6-3.6"/>
<path d="M140.8,127.5m-1.8-1.8l3.6 3.6m-3.6 0l3.6-3.6"/>
<path d="M90.8,154.0m-1.8-1.8l3.6 3.6m-3.6 0l3.6-3.6"/>
<path d="M159.6,85.1m-1.8-1.8l3.6 3.6m-3.6 0l3.6-3.6"/>
<path d="M88.2,165.5m-1.8-1.8l3.6 3.6m-3.6 0l3.6-3.6"/>
<path d="M147.7,134.1m-1.8-1.8l3.6 3.6m-3.6 0l3.6-3.6"/>
<path d="M96.2,147.6m-1.8-1.8l3.6 3.6m-3.6 0l3.6-3.6"/>
<path d="M111.0,146.1m-1.8-1.8l3.6 3.6m-3.6 0l3.6-3.6"/>
<path d="M107.7,155.9m-1.8-1.8l3.6 3.6m-3.6 0l3.6-3.6"/>
<path d="M119.8,124.4m-1.8-1.8l3.6 3.6m-3.6 0l3.6-3.6"/>
<path d="M92.8,170.8m-1.8-1.8l3.6 3.6m-3.6 0l3.6-3.6"/>
<path d="M128.5,118.5m-1.8-1.8l3.6 3.6m-3.6 0l3.6-3.6"/>
<path d="M94.7,167.5m-1.8-1.8l3.6 3.6m-3.6 0l3.6-3.6"/>
<path d="M135.1,118.3m-1.8-1.8l3.6 3.6m-3.6 0l3.6-3.6"/>
<path d="M145.7,127.1m-1.8-1.8l3.6 3.6m-3.6 0l3.6-3.6"/>
<path d="M74.7,184.2m-1.8-1.8l3.6 3.6m-3.6 0l3.6-3.6"/>
<path d="M146.9,124.1m-1.8-1.8l3.6 3.6m-3.6 0l3.6-3.6"/>
<path d="M122.8,144.3m-1.8-1.8l3.6 3.6m-3.6 0l3.6-3.6"/>
<path d="M150.6,107.9m-1.8-1.8l3.6 3.6m-3.6 0l3.6-3.6"/>
<path d="M175.3,88.8m-1.8-1.8l3.6 3.6m-3.6 0l3.6-3.6"/>
<path d="M110.9,145.3m-1.8-1.8l3.6 3.6m-3.6 0l3.6-3.6"/>
<path d="M139.3,105.8m-1.8-1.8l3.6 3.6m-3.6 0l3.6-3.6"/>
<path d="M73.7,181.7m-1.8-1.8l3.6 3.6m-3.6 0l3.6-3.6"/>
<path d="M155.0,127.4m-1.8-1.8l3.6 3.6m-3.6 0l3.6-3.6"/>
<path d="M89.3,155.0m-1.8-1.8l3.6 3.6m-3.6 0l3.6-3.6"/>
<path d="M119.7,138.1m-1.8-1.8l3.6 3.6m-3.6 0l3.6-3.6"/>
<path d="M171.2,79.8m-1.8-1.8l3.6 3.6m-3.6 0l3.6-3.6"/>
<path d="M175.8,76.0m-1.8-1.8l3.6 3.6m-3.6 0l3.6-3.6"/>
<path d="M90.2,155.2m-1.8-1.8l3.6 3.6m-3.6 0l3.6-3.6"/>
<path d="M78.0,170.3m-1.8-1.8l3.6 3.6m-3.6 0l3.6-3.6"/>
<path d="M113.9,137.4m-1.8-1.8l3.6 3.6m-3.6 0l3.6-3.6"/>
<path d="M96.8,174.2m-1.8-1.8l3.6 3.6m-3.6 0l3.6-3.6"/>
<path d="M116.5,127.7m-1.8-1.8l3.6 3.6m-3.6 0l3.6-3.6"/>
<path d="M129.1,125.1m-1.8-1.8l3.6 3.6m-3.6 0l3.6-3.6"/>
<path d="M164.8,90.8m-1.8-1.8l3.6 3.6m-3.6 0l3.6-3.6"/>
<path d="M153.8,111.4m-1.8-1.8l3.6 3.6m-3.6 0l3.6-3.6"/>
<path d="M90.0,166.3m-1.8-1.8l3.6 3.6m-3.6 0l3.6-3.6"/>
<path d="M160.0,108.9m-1.8-1.8l3.6 3.6m-3.6 0l3.6-3.6"/>
<path d="M117.5,134.7m-1.8-1.8l3.6 3.6m-3.6 0l3.6-3.6"/>
<path d="M103.5,167.5m-1.8-1.8l3.6 3.6m-3.6 0l3.6-3.6"/>
<path d="M136.3,112.2m-1.8-1.8l3.6 3.6m-3.6 0l3.6-3.6"/>
<path d="M177.4,79.6m-1.8-1.8l3.6 3.6m-3.6 0l3.6-3.6"/>
<path d="M172.2,68.4m-1.8-1.8l3.6 3.6m-3.6 0l3.6-3.6"/>
<path d="M134.2,121.2m-1.8-1.8l3.6 3.6m-3.6 0l3.6-3.6"/>
<path d="M152.5,109.3m-1.8-1.8l3.6 3.6m-3.6 0l3.6-3.6"/>
<path d="M95.9,159.4m-1.8-1.8l3.6 3.6m-3.6 0l3.6-3.6"/>
<path d="M97.2,159.7m-1.8-1.8l3.6 3.6m-3.6 0l3.6-3.6"/>
<path d="M131.7,129.0m-1.8-1.8l3.6 3.6m-3.6 0l3.6-3.6"/>
<path d="M138.1,134.5m-1.8-1.8l3.6 3.6m-3.6 0l3.6-3.6"/>
<path d="M134.0,138.4m-1.8-1.8l3.6 3.6m-3.6 0l3.6-3.6"/>
<path d="M152.1,115.2m-1.8-1.8l3.6 3.6m-3.6 0l3.6-3.6"/>
<path d="M138.5,124.7m-1.8-1.8l3.6 3.6m-3.6 0l3.6-3.6"/>
<path d="M135.1,138.3m-1.8-1.8l3.6 3.6m-3.6 0l3.6-3.6"/>
<path d="M75.4,189.5m-1.8-1.8l3.6 3.6m-3.6 0l3.6-3.6"/>
<path d="M75.5,182.6m-1.8-1.8l3.6 3.6m-3.6 0l3.6-3.6"/>
<path d="M159.1,93.8m-1.8-1.8l3.6 3.6m-3.6 0l3.6-3.6"/>
<path d="M148.5,114.2m-1.8-1.8l3.6 3.6m-3.6 0l3.6-3.6"/>
<path d="M114.8,136.1m-1.8-1.8l3.6 3.6m-3.6 0l3.6-3.6"/>
<path d="M98.0,149.9m-1.8-1.8l3.6 3.6m-3.6 0l3.6-3.6"/>
<path d="M119.9,130.0m-1.8-1.8l3.6 3.6m-3.6 0l3.6-3.6"/>
<path d="M187.0,80.8m-1.8-1.8l3.6 3.6m-3.6 0l3.6-3.6"/>
<path d="M190.1,77.7m-1.8-1.8l3.6 3.6m-3.6 0l3.6-3.6"/>
<path d="M109.2,168.4m-1.8-1.8l3.6 3.6m-3.6 0l3.6-3.6"/>
<path d="M91.9,171.3m-1.8-1.8l3.6 3.6m-3.6 0l3.6-3.6"/>
<path d="M129.1,124.8m-1.8-1.8l3.6 3.6m-3.6 0l3.6-3.6"/>
<path d="M77.0,183.2m-1.8-1.8l3.6 3.6m-3.6 0l3.6-3.6"/>
<path d="M137.8,106.4m-1.8-1.8l3.6 3.6m-3.6 0l3.6-3.6"/>
<path d="M91.0,149.0m-1.8-1.8l3.6 3.6m-3.6 0l3.6-3.6"/>
<path d="M135.2,128.7m-1.8-1.8l3.6 3.6m-3.6 0l3.6-3.6"/>
<path d="M113.0,135.3m-1.8-1.8l3.6 3.6m-3.6 0l3.6-3.6"/>
<path d="M111.6,161.7m-1.8-1.8l3.6 3.6m-3.6 0l3.6-3.6"/>
<path d="M153.9,119.0m-1.8-1.8l3.6 3.6m-3.6 0l3.6-3.6"/>
<path d="M110.9,143.0m-1.8-1.8l3.6 3.6m-3.6 0l3.6-3.6"/>
<path d="M86.7,169.8m-1.8-1.8l3.6 3.6m-3.6 0l3.6-3.6"/>
<path d="M192.7,72.7m-1.8-1.8l3.6 3.6m-3.6 0l3.6-3.6"/>
<path d="M69.7,189.2m-1.8-1.8l3.6 3.6m-3.6 0l3.6-3.6"/>
<path d="M104.5,133.3m-1.8-1.8l3.6 3.6m-3.6 0l3.6-3.6"/>
<path d="M100.3,154.3m-1.8-1.8l3.6 3.6m-3.6 0l3.6-3.6"/>
<path d="M125.0,130.7m-1.8-1.8l3.6 3.6m-3.6 0l3.6-3.6"/>
<path d="M161.6,134.9m-1.8-1.8l3.6 3.6m-3.6 0l3.6-3.6"/>
<path d="M103.8,152.1m-1.8-1.8l3.6 3.6m-3.6 0l3.6-3.6"/>
<path d="M74.5,183.1m-1.8-1.8l3.6 3.6m-3.6 0l3.6-3.6"/>
<path d="M168.6,99.6m-1.8-1.8l3.6 3.6m-3.6 0l3.6-3.6"/>
<path d="M106.4,168.3m-1.8-1.8l3.6 3.6m-3.6 0l3.6-3.6"/>
<path d="M161.7,82.3m-1.8-1.8l3.6 3.6m-3.6 0l3.6-3.6"/>
<path d="M102.2,173.2m-1.8-1.8l3.6 3.6m-3.6 0l3.6-3.6"/>
<path d="M138.8,140.3m-1.8-1.8l3.6 3.6m-3.6 0l3.6-3.6"/>
<path d="M195.9,76.9m-1.8-1.8l3.6 3.6m-3.6 0l3.6-3.6"/>
<path d="M98.2,174.6m-1.8-1.8l3.6 3.6m-3.6 0l3.6-3.6"/>
<path d="M123.7,112.2m-1.8-1.8l3.6 3.6m-3.6 0l3.6-3.6"/>
<path d="M113.4,140.9m-1.8-1.8l3.6 3.6m-3.6 0l3.6-3.6"/>
<path d="M102.6,141.0m-1.8-1.8l3.6 3.6m-3.6 0l3.6-3.6"/>
<path d="M103.1,139.9m-1.8-1.8l3.6 3.6m-3.6 0l3.6-3.6"/>
<path d="M154.9,99.4m-1.8-1.8l3.6 3.6m-3.6 0l3.6-3.6"/>
<path d="M117.4,134.8m-1.8-1.8l3.6 3.6m-3.6 0l3.6-3.6"/>
<path d="M145.4,123.3m-1.8-1.8l3.6 3.6m-3.6 0l3.6-3.6"/>
<path d="M135.3,125.3m-1.8-1.8l3.6 3.6m-3.6 0l3.6-3.6"/>
<path d="M69.1,177.8m-1.8-1.8l3.6 3.6m-3.6 0l3.6-3.6"/>
<path d="M173.9,87.7m-1.8-1.8l3.6 3.6m-3.6 0l3.6-3.6"/>
<path d="M108.1,157.1m-1.8-1.8l3.6 3.6m-3.6 0l3.6-3.6"/>
<path d="M130.6,114.1m-1.8-1.8l3.6 3.6m-3.6 0l3.6-3.6"/>
<path d="M114.7,135.3m-1.8-1.8l3.6 3.6m-3.6 0l3.6-3.6"/>
<path d="M79.0,178.0m-1.8-1.8l3.6 3.6m-3.6 0l3.6-3.6"/>
<path d="M85.4,185.5m-1.8-1.8l3.6 3.6m-3.6 0l3.6-3.6"/>
<path d="M152.3,100.5m-1.8-1.8l3.6 3.6m-3.6 0l3.6-3.6"/>
<path d="M96.0,152.8m-1.8-1.8l3.6 3.6m-3.6 0l3.6-3.6"/>
<path d="M79.6,177.0m-1.8-1.8l3.6 3.6m-3.6 0l3.6-3.6"/>
<path d="M111.1,160.4m-1.8-1.8l3.6 3.6m-3.6 0l3.6-3.6"/>
<path d="M110.3,143.2m-1.8-1.8l3.6 3.6m-3.6 0l3.6-3.6"/>
<path d="M151.5,120.3m-1.8-1.8l3.6 3.6m-3.6 0l3.6-3.6"/>
<path d="M94.8,174.7m-1.8-1.8l3.6 3.6m-3.6 0l3.6-3.6"/>
<path d="M110.5,141.6m-1.8-1.8l3.6 3.6m-3.6 0l3.6-3.6"/>
<path d="M150.0,131.5m-1.8-1.8l3.6 3.6m-3.6 0l3.6-3.6"/>
<path d="M104.0,165.7m-1.8-1.8l3.6 3.6m-3.6 0l3.6-3.6"/>
<path d="M170.8,72.3m-1.8-1.8l3.6 3.6m-3.6 0l3.6-3.6"/>
<path d="M81.2,174.2m-1.8-1.8l3.6 3.6m-3.6 0l3.6-3.6"/>
<path d="M107.1,145.8m-1.8-1.8l3.6 3.6m-3.6 0l3.6-3.6"/>
<path d="M159.3,105.6m-1.8-1.8l3.6 3.6m-3.6 0l3.6-3.6"/>
<path d="M69.0,186.5m-1.8-1.8l3.6 3.6m-3.6 0l3.6-3.6"/>
<path d="M71.8,166.1m-1.8-1.8l3.6 3.6m-3.6 0l3.6-3.6"/>
<path d="M119.4,124.1m-1.8-1.8l3.6 3.6m-3.6 0l3.6-3.6"/>
<path d="M184.7,81.7m-1.8-1.8l3.6 3.6m-3.6 0l3.6-3.6"/>
<path d="M72.8,185.8m-1.8-1.8l3.6 3.6m-3.6 0l3.6-3.6"/>
<path d="M141.3,118.5m-1.8-1.8l3.6 3.6m-3.6 0l3.6-3.6"/>
<path d="M129.6,104.4m-1.8-1.8l3.6 3.6m-3.6 0l3.6-3.6"/>
<path d="M106.4,149.3m-1.8-1.8l3.6 3.6m-3.6 0l3.6-3.6"/>
</g>
<g fill="#1f77b4" fill-opacity="0.7" stroke="#1f77b4" stroke-opacity="0.7" stroke-width="1.7">
<circle cx="68.8" cy="184.4" r="1.6"/>
<circle cx="68.6" cy="174.8" r="1.6"/>
<circle cx="69.0" cy="181.5" r="1.6"/>
<circle cx="68.4" cy="184.9" r="1.6"/>
<circle cx="68.7" cy="184.5" r="1.6"/>
<circle cx="68.2" cy="181.0" r="1.6"/>
<circle cx="69.1" cy="183.7" r="1.6"/>
<circle cx="68.3" cy="172.9" r="1.6"/>
<circle cx="67.9" cy="183.8" r="1.6"/>
<circle cx="68.5" cy="185.9" r="1.6"/>
<circle cx="68.5" cy="178.8" r="1.6"/>
<circle cx="69.0" cy="184.1" r="1.6"/>
<circle cx="68.4" cy="184.6" r="1.6"/>
<circle cx="68.5" cy="185.7" r="1.6"/>
<circle cx="68.7" cy="185.0" r="1.6"/>
<circle cx="68.9" cy="184.8" r="1.6"/>
<circle cx="68.5" cy="183.0" r="1.6"/>
<circle cx="68.8" cy="176.1" r="1.6"/>
<circle cx="68.7" cy="184.9" r="1.6"/>
<circle cx="68.4" cy="168.3" r="1.6"/>
<circle cx="68.5" cy="183.9" r="1.6"/>
<circle cx="68.5" cy="184.7" r="1.6"/>
<circle cx="68.3" cy="183.8" r="1.6"/>
<circle cx="68.8" cy="186.1" r="1.6"/>
<circle cx="68.2" cy="181.6" r="1.6"/>
<circle cx="68.8" cy="186.6" r="1.6"/>
<circle cx="68.8" cy="184.3" r="1.6"/>
<circle cx="68.5" cy="173.2" r="1.6"/>
<circle cx="68.3" cy="185.7" r="1.6"/>
<circle cx="68.5" cy="181.1" r="1.6"/>
<circle cx="68.6" cy="179.4" r="1.6"/>
<circle cx="68.7" cy="184.4" r="1.6"/>
<circle cx="68.6" cy="184.1" r="1.6"/>
<circle cx="68.8" cy="186.7" r="1.6"/>
<circle cx="68.4" cy="174.5" r="1.6"/>
<circle cx="68.6" cy="182.7" r="1.6"/>
<circle cx="68.1" cy="182.9" r="1.6"/>
<circle cx="68.7" cy="186.6" r="1.6"/>
<circle cx="68.6" cy="182.9" r="1.6"/>
<circle cx="68.4" cy="185.2" r="1.6"/>
<circle cx="68.8" cy="186.0" r="1.6"/>
<circle cx="68.7" cy="183.7" r="1.6"/>
<circle cx="67.8" cy="184.7" r="1.6"/>
<circle cx="68.5" cy="180.3" r="1.6"/>
<circle cx="68.1" cy="186.8" r="1.6"/>
<circle cx="68.8" cy="184.2" r="1.6"/>
<circle cx="69.2" cy="182.2" r="1.6"/>
<circle cx="68.4" cy="186.3" r="1.6"/>
<circle cx="68.5" cy="184.3" r="1.6"/>
<circle cx="68.5" cy="183.3" r="1.6"/>
<circle cx="68.6" cy="186.6" r="1.6"/>
<circle cx="68.7" cy="187.2" r="1.6"/>
<circle cx="68.9" cy="185.0" r="1.6"/>
<circle cx="68.3" cy="186.6" r="1.6"/>
<circle cx="68.9" cy="178.2" r="1.6"/>
<circle cx="68.3" cy="182.8" r="1.6"/>
<circle cx="68.6" cy="178.6" r="1.6"/>
<circle cx="68.8" cy="178.0" r="1.6"/>
<circle cx="68.7" cy="176.9" r="1.6"/>
<circle cx="68.3" cy="181.1" r="1.6"/>
<circle cx="68.3" cy="183.3" r="1.6"/>
<circle cx="68.4" cy="182.0" r="1.6"/>
<circle cx="68.5" cy="183.2" r="1.6"/>
<circle cx="68.8" cy="185.7" r="1.6"/>
<circle cx="68.2" cy="182.0" r="1.6"/>
<circle cx="68.6" cy="180.4" r="1.6"/>
<circle cx="68.7" cy="179.3" r="1.6"/>
<circle cx="68.7" cy="184.7" r="1.6"/>
<circle cx="68.6" cy="174.4" r="1.6"/>
<circle cx="68.9" cy="185.7" r="1.6"/>
<circle cx="75.2" cy="172.7" r="1.6"/>
<circle cx="75.3" cy="178.6" r="1.6"/>
<circle cx="75.2" cy="186.3" r="1.6"/>
<circle cx="75.5" cy="185.5" r="1.6"/>
<circle cx="74.6" cy="185.9" r="1.6"/>
<circle cx="75.4" cy="172.1" r="1.6"/>
<circle cx="75.0" cy="176.3" r="1.6"/>
<circle cx="75.0" cy="157.2" r="1.6"/>
<circle cx="74.8" cy="184.1" r="1.6"/>
<circle cx="74.6" cy="184.8" r="1.6"/>
<circle cx="75.0" cy="182.6" r="1.6"/>
<circle cx="74.9" cy="176.6" r="1.6"/>
<circle cx="75.2" cy="181.2" r="1.6"/>
<circle cx="74.7" cy="181.5" r="1.6"/>
<circle cx="75.4" cy="166.3" r="1.6"/>
<circle cx="75.1" cy="182.8" r="1.6"/>
<circle cx="75.0" cy="168.7" r="1.6"/>
<circle cx="74.9" cy="183.4" r="1.6"/>
<circle cx="74.9" cy="185.1" r="1.6"/>
<circle cx="74.8" cy="176.5" r="1.6"/>
<circle cx="74.9" cy="158.0" r="1.6"/>
<circle cx="75.1" cy="184.4" r="1.6"/>
<circle cx="79.4" cy="161.8" r="1.6"/>
<circle cx="79.1" cy="154.6" r="1.6"/>
<circle cx="79.4" cy="172.7" r="1.6"/>
<circle cx="79.2" cy="186.7" r="1.6"/>
<circle cx="79.5" cy="168.7" r="1.6"/>
<circle cx="79.9" cy="183.0" r="1.6"/>
<circle cx="79.6" cy="175.7" r="1.6"/>
<circle cx="79.4" cy="178.9" r="1.6"/>
<circle cx="79.0" cy="182.9" r="1.6"/>
<circle cx="79.1" cy="174.4" r="1.6"/>
<circle cx="79.0" cy="179.1" r="1.6"/>
<circle cx="79.6" cy="174.3" r="1.6"/>
<circle cx="79.2" cy="178.4" r="1.6"/>
<circle cx="79.5" cy="185.0" r="1.6"/>
<circle cx="79.3" cy="185.3" r="1.6"/>
<circle cx="79.5" cy="181.1" r="1.6"/>
<circle cx="79.8" cy="185.0" r="1.6"/>
<circle cx="79.3" cy="175.2" r="1.6"/>
<circle cx="79.3" cy="178.2" r="1.6"/>
<circle cx="79.2" cy="182.4" r="1.6"/>
<circle cx="79.7" cy="174.0" r="1.6"/>
<circle cx="79.2" cy="182.5" r="1.6"/>
<circle cx="79.1" cy="184.3" r="1.6"/>
<circle cx="79.1" cy="178.5" r="1.6"/>
<circle cx="79.1" cy="175.9" r="1.6"/>
<circle cx="79.6" cy="187.0" r="1.6"/>
<circle cx="80.1" cy="176.2" r="1.6"/>
<circle cx="79.2" cy="182.8" r="1.6"/>
<circle cx="79.7" cy="185.2" r="1.6"/>
<circle cx="79.5" cy="182.8" r="1.6"/>
<circle cx="79.1" cy="183.2" r="1.6"/>
<circle cx="79.4" cy="182.7" r="1.6"/>
<circle cx="79.4" cy="174.4" r="1.6"/>
<circle cx="79.3" cy="177.0" r="1.6"/>
<circle cx="79.9" cy="175.4" r="1.6"/>
<circle cx="78.9" cy="175.1" r="1.6"/>
<circle cx="79.5" cy="185.8" r="1.6"/>
<circle cx="79.5" cy="179.9" r="1.6"/>
<circle cx="79.3" cy="183.7" r="1.6"/>
<circle cx="79.5" cy="180.1" r="1.6"/>
<circle cx="79.7" cy="179.2" r="1.6"/>
<circle cx="79.5" cy="178.3" r="1.6"/>
<circle cx="79.5" cy="177.1" r="1.6"/>
<circle cx="79.6" cy="177.8" r="1.6"/>
<circle cx="78.9" cy="173.3" r="1.6"/>
<circle cx="79.8" cy="184.7" r="1.6"/>
<circle cx="80.0" cy="187.1" r="1.6"/>
<circle cx="79.7" cy="184.5" r="1.6"/>
<circle cx="79.7" cy="185.9" r="1.6"/>
<circle cx="79.1" cy="175.5" r="1.6"/>
<circle cx="79.4" cy="172.9" r="1.6"/>
<circle cx="79.2" cy="171.3" r="1.6"/>
<circle cx="79.3" cy="186.4" r="1.6"/>
<circle cx="79.7" cy="165.4" r="1.6"/>
<circle cx="79.2" cy="169.3" r="1.6"/>
<circle cx="79.4" cy="182.0" r="1.6"/>
<circle cx="78.9" cy="166.2" r="1.6"/>
<circle cx="79.4" cy="184.9" r="1.6"/>
<circle cx="79.5" cy="174.4" r="1.6"/>
<circle cx="79.3" cy="184.9" r="1.6"/>
<circle cx="79.2" cy="179.9" r="1.6"/>
<circle cx="79.9" cy="187.2" r="1.6"/>
<circle cx="79.1" cy="186.1" r="1.6"/>
<circle cx="79.2" cy="169.4" r="1.6"/>
<circle cx="79.2" cy="172.9" r="1.6"/>
<circle cx="79.8" cy="180.7" r="1.6"/>
<circle cx="80.0" cy="183.6" r="1.6"/>
<circle cx="79.5" cy="184.4" r="1.6"/>
<circle cx="79.2" cy="180.6" r="1.6"/>
<circle cx="79.3" cy="178.3" r="1.6"/>
<circle cx="79.7" cy="178.6" r="1.6"/>
<circle cx="79.2" cy="185.3" r="1.6"/>
<circle cx="79.8" cy="185.2" r="1.6"/>
<circle cx="79.8" cy="178.5" r="1.6"/>
<circle cx="79.5" cy="176.7" r="1.6"/>
<circle cx="86.2" cy="172.2" r="1.6"/>
<circle cx="86.2" cy="184.1" r="1.6"/>
<circle cx="86.4" cy="182.2" r="1.6"/>
<circle cx="85.7" cy="180.2" r="1.6"/>
<circle cx="86.3" cy="175.6" r="1.6"/>
<circle cx="85.9" cy="171.8" r="1.6"/>
<circle cx="85.8" cy="180.8" r="1.6"/>
<circle cx="86.0" cy="170.1" r="1.6"/>
<circle cx="85.9" cy="182.2" r="1.6"/>
<circle cx="85.7" cy="173.8" r="1.6"/>
<circle cx="85.6" cy="173.0" r="1.6"/>
<circle cx="85.7" cy="174.4" r="1.6"/>
<circle cx="86.4" cy="164.0" r="1.6"/>
<circle cx="86.5" cy="175.9" r="1.6"/>
<circle cx="86.2" cy="176.3" r="1.6"/>
<circle cx="86.3" cy="183.3" r="1.6"/>
<circle cx="85.8" cy="172.5" r="1.6"/>
<circle cx="86.0" cy="160.2" r="1.6"/>
<circle cx="86.1" cy="159.3" r="1.6"/>
<circle cx="85.7" cy="174.5" r="1.6"/>
<circle cx="85.7" cy="167.7" r="1.6"/>
<circle cx="86.0" cy="176.8" r="1.6"/>
<circle cx="85.9" cy="162.9" r="1.6"/>
<circle cx="85.7" cy="172.7" r="1.6"/>
<circle cx="86.1" cy="170.9" r="1.6"/>
<circle cx="85.9" cy="174.2" r="1.6"/>
<circle cx="86.3" cy="182.7" r="1.6"/>
<circle cx="86.0" cy="175.2" r="1.6"/>
<circle cx="85.9" cy="172.9" r="1.6"/>
<circle cx="86.0" cy="179.4" r="1.6"/>
<circle cx="85.9" cy="174.8" r="1.6"/>
<circle cx="85.8" cy="157.4" r="1.6"/>
<circle cx="85.9" cy="172.8" r="1.6"/>
<circle cx="86.2" cy="181.8" r="1.6"/>
<circle cx="86.2" cy="168.8" r="1.6"/>
<circle cx="86.3" cy="167.7" r="1.6"/>
<circle cx="85.5" cy="138.6" r="1.6"/>
<circle cx="85.9" cy="173.7" r="1.6"/>
<circle cx="85.9" cy="166.3" r="1.6"/>
<circle cx="86.0" cy="170.5" r="1.6"/>
<circle cx="85.9" cy="171.5" r="1.6"/>
<circle cx="85.9" cy="162.1" r="1.6"/>
<circle cx="86.2" cy="176.8" r="1.6"/>
<circle cx="86.0" cy="171.8" r="1.6"/>
<circle cx="85.7" cy="185.1" r="1.6"/>
<circle cx="86.3" cy="184.9" r="1.6"/>
<circle cx="86.2" cy="185.1" r="1.6"/>
<circle cx="85.8" cy="176.7" r="1.6"/>
<circle cx="86.2" cy="175.8" r="1.6"/>
<circle cx="85.8" cy="177.7" r="1.6"/>
<circle cx="86.3" cy="170.4" r="1.6"/>
<circle cx="85.9" cy="163.2" r="1.6"/>
<circle cx="85.8" cy="182.6" r="1.6"/>
<circle cx="85.9" cy="167.4" r="1.6"/>
<circle cx="85.8" cy="174.2" r="1.6"/>
<circle cx="86.0" cy="165.0" r="1.6"/>
<circle cx="86.0" cy="168.8" r="1.6"/>
<circle cx="86.0" cy="178.3" r="1.6"/>
<circle cx="85.8" cy="185.6" r="1.6"/>
<circle cx="85.0" cy="174.7" r="1.6"/>
<circle cx="86.0" cy="187.1" r="1.6"/>
<circle cx="85.5" cy="176.6" r="1.6"/>
<circle cx="86.0" cy="169.9" r="1.6"/>
<circle cx="86.3" cy="170.3" r="1.6"/>
<circle cx="86.1" cy="157.1" r="1.6"/>
<circle cx="90.2" cy="163.1" r="1.6"/>
<circle cx="90.3" cy="163.5" r="1.6"/>
<circle cx="90.3" cy="168.9" r="1.6"/>
<circle cx="90.2" cy="183.4" r="1.6"/>
<circle cx="90.2" cy="171.5" r="1.6"/>
<circle cx="90.1" cy="169.0" r="1.6"/>
<circle cx="90.7" cy="161.5" r="1.6"/>
<circle cx="90.3" cy="183.6" r="1.6"/>
<circle cx="90.6" cy="178.1" r="1.6"/>
<circle cx="90.3" cy="175.4" r="1.6"/>
<circle cx="90.4" cy="164.8" r="1.6"/>
<circle cx="90.3" cy="170.0" r="1.6"/>
<circle cx="90.5" cy="174.4" r="1.6"/>
<circle cx="90.6" cy="182.8" r="1.6"/>
<circle cx="90.4" cy="174.6" r="1.6"/>
<circle cx="90.2" cy="174.6" r="1.6"/>
<circle cx="90.1" cy="179.0" r="1.6"/>
<circle cx="90.8" cy="168.6" r="1.6"/>
<circle cx="90.3" cy="159.7" r="1.6"/>
<circle cx="90.3" cy="161.6" r="1.6"/>
<circle cx="90.7" cy="169.4" r="1.6"/>
<circle cx="90.6" cy="161.4" r="1.6"/>
<circle cx="90.5" cy="168.3" r="1.6"/>
<circle cx="90.2" cy="169.1" r="1.6"/>
<circle cx="91.0" cy="164.6" r="1.6"/>
<circle cx="90.5" cy="161.3" r="1.6"/>
<circle cx="90.5" cy="170.7" r="1.6"/>
<circle cx="90.3" cy="170.1" r="1.6"/>
<circle cx="90.0" cy="169.5" r="1.6"/>
<circle cx="90.0" cy="167.9" r="1.6"/>
<circle cx="90.5" cy="174.5" r="1.6"/>
<circle cx="90.5" cy="161.5" r="1.6"/>
<circle cx="90.3" cy="145.1" r="1.6"/>
<circle cx="90.0" cy="181.1" r="1.6"/>
<circle cx="90.0" cy="174.0" r="1.6"/>
<circle cx="90.3" cy="166.0" r="1.6"/>
<circle cx="90.0" cy="173.2" r="1.6"/>
<circle cx="90.6" cy="171.3" r="1.6"/>
<circle cx="90.7" cy="172.0" r="1.6"/>
<circle cx="91.1" cy="166.0" r="1.6"/>
<circle cx="90.6" cy="166.8" r="1.6"/>
<circle cx="90.2" cy="162.0" r="1.6"/>
<circle cx="90.1" cy="172.9" r="1.6"/>
<circle cx="89.4" cy="183.3" r="1.6"/>
<circle cx="90.2" cy="165.5" r="1.6"/>
<circle cx="96.9" cy="149.7" r="1.6"/>
<circle cx="97.2" cy="166.8" r="1.6"/>
<circle cx="97.1" cy="157.9" r="1.6"/>
<circle cx="97.1" cy="175.3" r="1.6"/>
<circle cx="97.0" cy="172.1" r="1.6"/>
<circle cx="97.1" cy="169.0" r="1.6"/>
<circle cx="97.3" cy="176.4" r="1.6"/>
<circle cx="96.6" cy="165.0" r="1.6"/>
<circle cx="96.8" cy="146.0" r="1.6"/>
<circle cx="96.5" cy="165.3" r="1.6"/>
<circle cx="97.3" cy="168.3" r="1.6"/>
<circle cx="97.2" cy="163.1" r="1.6"/>
<circle cx="97.1" cy="162.7" r="1.6"/>
<circle cx="96.6" cy="163.2" r="1.6"/>
<circle cx="96.9" cy="159.3" r="1.6"/>
<circle cx="96.8" cy="163.7" r="1.6"/>
<circle cx="96.9" cy="168.6" r="1.6"/>
<circle cx="96.8" cy="166.5" r="1.6"/>
<circle cx="97.0" cy="169.4" r="1.6"/>
<circle cx="96.8" cy="158.2" r="1.6"/>
<circle cx="97.1" cy="156.4" r="1.6"/>
<circle cx="97.0" cy="151.9" r="1.6"/>
<circle cx="96.8" cy="156.2" r="1.6"/>
<circle cx="96.9" cy="154.5" r="1.6"/>
<circle cx="96.8" cy="154.7" r="1.6"/>
<circle cx="97.1" cy="153.0" r="1.6"/>
<circle cx="96.8" cy="172.5" r="1.6"/>
<circle cx="97.0" cy="163.9" r="1.6"/>
<circle cx="96.8" cy="156.9" r="1.6"/>
<circle cx="96.5" cy="172.2" r="1.6"/>
<circle cx="97.1" cy="161.2" r="1.6"/>
<circle cx="96.6" cy="166.3" r="1.6"/>
<circle cx="97.1" cy="165.2" r="1.6"/>
<circle cx="97.0" cy="158.1" r="1.6"/>
<circle cx="96.5" cy="168.8" r="1.6"/>
<circle cx="96.7" cy="162.8" r="1.6"/>
<circle cx="96.8" cy="156.5" r="1.6"/>
<circle cx="96.7" cy="154.6" r="1.6"/>
<circle cx="96.6" cy="143.2" r="1.6"/>
<circle cx="97.1" cy="164.0" r="1.6"/>
<circle cx="96.8" cy="147.9" r="1.6"/>
<circle cx="97.0" cy="159.8" r="1.6"/>
<circle cx="96.8" cy="160.4" r="1.6"/>
<circle cx="97.0" cy="158.4" r="1.6"/>
<circle cx="96.7" cy="150.5" r="1.6"/>
<circle cx="96.9" cy="182.7" r="1.6"/>
<circle cx="97.0" cy="173.1" r="1.6"/>
<circle cx="96.9" cy="174.4" r="1.6"/>
<circle cx="96.8" cy="172.8" r="1.6"/>
<circle cx="96.6" cy="171.0" r="1.6"/>
<circle cx="96.9" cy="153.6" r="1.6"/>
<circle cx="97.0" cy="148.7" r="1.6"/>
<circle cx="96.8" cy="173.2" r="1.6"/>
<circle cx="96.7" cy="165.4" r="1.6"/>
<circle cx="97.0" cy="161.5" r="1.6"/>
<circle cx="97.5" cy="165.2" r="1.6"/>
<circle cx="96.8" cy="167.4" r="1.6"/>
<circle cx="97.0" cy="163.1" r="1.6"/>
<circle cx="97.0" cy="160.7" r="1.6"/>
<circle cx="96.2" cy="158.2" r="1.6"/>
<circle cx="96.9" cy="154.4" r="1.6"/>
<circle cx="96.7" cy="154.2" r="1.6"/>
<circle cx="97.3" cy="154.4" r="1.6"/>
<circle cx="96.8" cy="153.2" r="1.6"/>
<circle cx="96.7" cy="163.4" r="1.6"/>
<circle cx="96.8" cy="151.9" r="1.6"/>
<circle cx="96.9" cy="163.6" r="1.6"/>
<circle cx="96.8" cy="160.5" r="1.6"/>
<circle cx="96.9" cy="165.3" r="1.6"/>
<circle cx="96.5" cy="154.0" r="1.6"/>
<circle cx="96.8" cy="165.2" r="1.6"/>
<circle cx="97.1" cy="169.1" r="1.6"/>
<circle cx="97.4" cy="173.2" r="1.6"/>
<circle cx="97.1" cy="158.0" r="1.6"/>
<circle cx="97.0" cy="161.1" r="1.6"/>
<circle cx="101.6" cy="168.9" r="1.6"/>
<circle cx="101.5" cy="154.8" r="1.6"/>
<circle cx="101.7" cy="165.6" r="1.6"/>
<circle cx="101.5" cy="158.1" r="1.6"/>
<circle cx="101.2" cy="155.5" r="1.6"/>
<circle cx="101.3" cy="168.9" r="1.6"/>
<circle cx="101.3" cy="159.3" r="1.6"/>
<circle cx="101.3" cy="165.5" r="1.6"/>
<circle cx="101.3" cy="171.0" r="1.6"/>
<circle cx="101.1" cy="171.7" r="1.6"/>
<circle cx="100.7" cy="152.7" r="1.6"/>
<circle cx="101.1" cy="164.4" r="1.6"/>
<circle cx="100.7" cy="148.3" r="1.6"/>
<circle cx="101.3" cy="169.6" r="1.6"/>
<circle cx="101.3" cy="148.1" r="1.6"/>
<circle cx="100.8" cy="163.5" r="1.6"/>
<circle cx="101.4" cy="178.6" r="1.6"/>
<circle cx="101.5" cy="139.9" r="1.6"/>
<circle cx="101.3" cy="151.6" r="1.6"/>
<circle cx="101.7" cy="166.1" r="1.6"/>
<circle cx="101.8" cy="157.6" r="1.6"/>
<circle cx="100.9" cy="137.6" r="1.6"/>
<circle cx="101.5" cy="158.1" r="1.6"/>
<circle cx="101.4" cy="148.6" r="1.6"/>
<circle cx="101.4" cy="120.2" r="1.6"/>
<circle cx="101.5" cy="155.4" r="1.6"/>
<circle cx="101.1" cy="157.2" r="1.6"/>
<circle cx="101.1" cy="150.2" r="1.6"/>
<circle cx="101.0" cy="158.2" r="1.6"/>
<circle cx="101.1" cy="142.0" r="1.6"/>
<circle cx="101.2" cy="163.9" r="1.6"/>
<circle cx="100.9" cy="156.9" r="1.6"/>
<circle cx="101.0" cy="152.8" r="1.6"/>
<circle cx="101.4" cy="167.7" r="1.6"/>
<circle cx="101.2" cy="168.6" r="1.6"/>
<circle cx="101.4" cy="167.8" r="1.6"/>
<circle cx="100.8" cy="155.0" r="1.6"/>
<circle cx="101.1" cy="159.2" r="1.6"/>
<circle cx="101.1" cy="166.2" r="1.6"/>
<circle cx="101.3" cy="161.3" r="1.6"/>
<circle cx="101.1" cy="129.9" r="1.6"/>
<circle cx="101.5" cy="162.3" r="1.6"/>
<circle cx="101.2" cy="153.4" r="1.6"/>
<circle cx="101.3" cy="154.1" r="1.6"/>
<circle cx="101.3" cy="162.9" r="1.6"/>
<circle cx="108.0" cy="155.7" r="1.6"/>
<circle cx="107.7" cy="153.3" r="1.6"/>
<circle cx="108.1" cy="152.2" r="1.6"/>
<circle cx="107.9" cy="161.6" r="1.6"/>
<circle cx="107.9" cy="148.2" r="1.6"/>
<circle cx="107.8" cy="162.2" r="1.6"/>
<circle cx="107.9" cy="154.7" r="1.6"/>
<circle cx="108.1" cy="156.1" r="1.6"/>
<circle cx="108.1" cy="136.2" r="1.6"/>
<circle cx="107.9" cy="156.8" r="1.6"/>
<circle cx="108.0" cy="150.1" r="1.6"/>
<circle cx="107.8" cy="168.4" r="1.6"/>
<circle cx="108.1" cy="165.3" r="1.6"/>
<circle cx="107.8" cy="160.7" r="1.6"/>
<circle cx="107.3" cy="120.9" r="1.6"/>
<circle cx="108.2" cy="159.0" r="1.6"/>
<circle cx="107.8" cy="160.8" r="1.6"/>
<circle cx="107.5" cy="161.3" r="1.6"/>
<circle cx="107.8" cy="155.4" r="1.6"/>
<circle cx="107.6" cy="159.4" r="1.6"/>
<circle cx="108.4" cy="150.2" r="1.6"/>
<circle cx="107.9" cy="150.7" r="1.6"/>
<circle cx="107.4" cy="159.7" r="1.6"/>
<circle cx="108.0" cy="152.1" r="1.6"/>
<circle cx="107.7" cy="149.9" r="1.6"/>
<circle cx="108.3" cy="158.5" r="1.6"/>
<circle cx="107.5" cy="174.3" r="1.6"/>
<circle cx="107.2" cy="154.8" r="1.6"/>
<circle cx="112.2" cy="156.0" r="1.6"/>
<circle cx="112.1" cy="151.3" r="1.6"/>
<circle cx="112.1" cy="143.3" r="1.6"/>
<circle cx="111.6" cy="162.2" r="1.6"/>
<circle cx="112.3" cy="144.2" r="1.6"/>
<circle cx="112.6" cy="146.5" r="1.6"/>
<circle cx="111.7" cy="170.5" r="1.6"/>
<circle cx="112.5" cy="165.7" r="1.6"/>
<circle cx="112.0" cy="149.9" r="1.6"/>
<circle cx="112.8" cy="144.2" r="1.6"/>
<circle cx="112.3" cy="148.0" r="1.6"/>
<circle cx="112.1" cy="158.8" r="1.6"/>
<circle cx="112.5" cy="137.1" r="1.6"/>
<circle cx="112.3" cy="122.0" r="1.6"/>
<circle cx="112.0" cy="154.1" r="1.6"/>
<circle cx="112.4" cy="167.4" r="1.6"/>
<circle cx="112.0" cy="163.0" r="1.6"/>
<circle cx="111.7" cy="143.9" r="1.6"/>
<circle cx="112.7" cy="156.5" r="1.6"/>
<circle cx="112.1" cy="143.0" r="1.6"/>
<circle cx="112.0" cy="156.1" r="1.6"/>
<circle cx="112.3" cy="147.0" r="1.6"/>
<circle cx="111.8" cy="165.7" r="1.6"/>
<circle cx="111.8" cy="155.4" r="1.6"/>
<circle cx="112.0" cy="160.5" r="1.6"/>
<circle cx="112.0" cy="151.2" r="1.6"/>
<circle cx="112.2" cy="147.5" r="1.6"/>
<circle cx="112.5" cy="140.1" r="1.6"/>
<circle cx="112.1" cy="138.4" r="1.6"/>
<circle cx="112.3" cy="154.4" r="1.6"/>
<circle cx="112.3" cy="162.1" r="1.6"/>
<circle cx="111.9" cy="135.6" r="1.6"/>
<circle cx="118.8" cy="162.4" r="1.6"/>
<circle cx="118.5" cy="134.2" r="1.6"/>
<circle cx="119.0" cy="146.1" r="1.6"/>
<circle cx="118.8" cy="141.9" r="1.6"/>
<circle cx="118.7" cy="164.6" r="1.6"/>
<circle cx="118.4" cy="161.7" r="1.6"/>
<circle cx="118.8" cy="138.9" r="1.6"/>
<circle cx="118.5" cy="158.3" r="1.6"/>
<circle cx="118.9" cy="142.3" r="1.6"/>
<circle cx="118.7" cy="126.8" r="1.6"/>
<circle cx="118.5" cy="145.4" r="1.6"/>
<circle cx="119.0" cy="119.0" r="1.6"/>
<circle cx="123.3" cy="134.6" r="1.6"/>
<circle cx="122.9" cy="155.7" r="1.6"/>
<circle cx="123.4" cy="142.0" r="1.6"/>
<circle cx="123.0" cy="143.6" r="1.6"/>
<circle cx="123.0" cy="176.4" r="1.6"/>
<circle cx="123.1" cy="132.0" r="1.6"/>
<circle cx="122.9" cy="130.9" r="1.6"/>
<circle cx="123.0" cy="146.4" r="1.6"/>
<circle cx="123.0" cy="160.7" r="1.6"/>
<circle cx="123.5" cy="115.9" r="1.6"/>
<circle cx="123.5" cy="145.0" r="1.6"/>
<circle cx="123.0" cy="123.3" r="1.6"/>
<circle cx="130.1" cy="133.9" r="1.6"/>
<circle cx="129.6" cy="99.3" r="1.6"/>
<circle cx="129.7" cy="115.7" r="1.6"/>
<circle cx="129.9" cy="131.0" r="1.6"/>
<circle cx="129.7" cy="150.0" r="1.6"/>
<circle cx="130.3" cy="131.2" r="1.6"/>
<circle cx="129.7" cy="139.0" r="1.6"/>
<circle cx="129.3" cy="134.6" r="1.6"/>
<circle cx="134.3" cy="133.3" r="1.6"/>
<circle cx="133.9" cy="123.6" r="1.6"/>
<circle cx="133.9" cy="137.7" r="1.6"/>
<circle cx="133.2" cy="155.7" r="1.6"/>
<circle cx="134.3" cy="119.8" r="1.6"/>
<circle cx="134.2" cy="125.0" r="1.6"/>
<circle cx="134.2" cy="132.3" r="1.6"/>
<circle cx="140.8" cy="135.7" r="1.6"/>
<circle cx="141.0" cy="125.2" r="1.6"/>
<circle cx="140.5" cy="113.2" r="1.6"/>
<circle cx="140.8" cy="110.0" r="1.6"/>
<circle cx="144.7" cy="115.7" r="1.6"/>
<circle cx="144.8" cy="117.5" r="1.6"/>
<circle cx="145.2" cy="72.8" r="1.6"/>
<circle cx="145.0" cy="118.4" r="1.6"/>
<circle cx="144.6" cy="131.3" r="1.6"/>
<circle cx="151.6" cy="139.1" r="1.6"/>
<circle cx="151.4" cy="119.2" r="1.6"/>
<circle cx="151.2" cy="102.6" r="1.6"/>
<circle cx="155.9" cy="92.5" r="1.6"/>
<circle cx="155.7" cy="108.3" r="1.6"/>
<circle cx="155.4" cy="126.5" r="1.6"/>
<circle cx="155.5" cy="87.6" r="1.6"/>
<circle cx="162.8" cy="116.9" r="1.6"/>
<circle cx="162.0" cy="149.2" r="1.6"/>
<circle cx="162.4" cy="101.3" r="1.6"/>
<circle cx="166.9" cy="110.7" r="1.6"/>
<circle cx="166.9" cy="108.0" r="1.6"/>
<circle cx="166.4" cy="68.8" r="1.6"/>
<circle cx="173.2" cy="95.2" r="1.6"/>
<circle cx="173.3" cy="100.0" r="1.6"/>
<circle cx="177.9" cy="91.0" r="1.6"/>
<circle cx="177.5" cy="89.9" r="1.6"/>
<circle cx="177.3" cy="125.6" r="1.6"/>
<circle cx="184.5" cy="99.4" r="1.6"/>
<circle cx="188.9" cy="59.8" r="1.6"/>
<circle cx="188.7" cy="45.5" r="1.6"/>
<circle cx="133.6" cy="160.3" r="1.6"/>
<circle cx="130.5" cy="170.0" r="1.6"/>
<circle cx="112.8" cy="166.9" r="1.6"/>
<circle cx="101.7" cy="177.9" r="1.6"/>
<circle cx="173.5" cy="126.2" r="1.6"/>
<circle cx="159.8" cy="140.6" r="1.6"/>
<circle cx="151.2" cy="152.2" r="1.6"/>
<circle cx="187.9" cy="101.3" r="1.6"/>
<circle cx="151.2" cy="139.9" r="1.6"/>
<circle cx="144.7" cy="143.1" r="1.6"/>
<circle cx="179.0" cy="103.1" r="1.6"/>
<circle cx="101.7" cy="100.6" r="1.6"/>
<circle cx="172.8" cy="62.6" r="1.6"/>
<circle cx="160.2" cy="77.3" r="1.6"/>
</g>
<path d="M68.5,187.8L189.0,80.5" stroke="#1f77b4" stroke-width="3.0" fill="none"/>
<path d="M64.8,190.4L204.7,59.4" stroke="#ff7f0e" stroke-width="3.0" fill="none"/>
<g stroke="#000" stroke-width="1.95" fill="none" stroke-linecap="square">
<path d="M46.7,30.7V211.65H221.3"/>
</g>
<g stroke="#000" stroke-width="1.95" fill="none">
<path d="M46.7,211.7h-4.4"/>
<path d="M46.7,211.7v4.1"/>
<path d="M46.7,166.4h-4.4"/>
<path d="M90.4,211.7v4.1"/>
<path d="M46.7,121.2h-4.4"/>
<path d="M134.0,211.7v4.1"/>
<path d="M46.7,75.9h-4.4"/>
<path d="M177.7,211.7v4.1"/>
<path d="M46.7,30.7h-4.4"/>
<path d="M221.3,211.7v4.1"/>
</g>
<g font-family='"Liberation Serif","Times New Roman",Times,serif' font-size="14" fill="#000" stroke="#000" stroke-width="0.22">
<text x="38" y="215.8" text-anchor="end">0</text>
<text x="46.7" y="230.5" text-anchor="middle">0</text>
<text x="38" y="170.6" text-anchor="end">20</text>
<text x="90.4" y="230.5" text-anchor="middle">20</text>
<text x="38" y="125.4" text-anchor="end">40</text>
<text x="134.0" y="230.5" text-anchor="middle">40</text>
<text x="38" y="80.1" text-anchor="end">60</text>
<text x="177.7" y="230.5" text-anchor="middle">60</text>
<text x="38" y="34.9" text-anchor="end">80</text>
<text x="221.3" y="230.5" text-anchor="middle">80</text>
<text x="134.3" y="247.5" text-anchor="middle">V_test</text>
<text transform="translate(15.3,121.6) rotate(-90)" text-anchor="middle">V_pred</text>
<text x="46.8" y="23.7">(a)</text>
</g>
<circle cx="69" cy="46.7" r="1.6" fill="#1f77b4" fill-opacity="0.7" stroke="#1f77b4" stroke-opacity="0.7" stroke-width="1.7"/>
<path d="M69,63.2m-1.8-1.8l3.6 3.6m-3.6 0l3.6-3.6" fill="none" stroke="#ff7f0e" stroke-opacity="0.5" stroke-width="1.9"/>
<g font-family='"Liberation Serif","Times New Roman",Times,serif' font-size="12.3" fill="#000" stroke="#000" stroke-width="0.2">
<text x="90.4" y="50">Origin</text><text x="90.4" y="66.7">Interp</text>
</g>
<g fill="#ff7f0e" fill-opacity="0.5" stroke="#000" stroke-width="1.45">
<rect x="293.80" y="208.85" width="10.40" height="2.80"/>
<rect x="304.20" y="210.65" width="10.40" height="1.00"/>
<rect x="314.60" y="209.85" width="10.40" height="1.80"/>
<rect x="325.00" y="210.25" width="10.40" height="1.40"/>
<rect x="335.40" y="209.45" width="10.40" height="2.20"/>
<rect x="345.80" y="207.65" width="10.40" height="4.00"/>
<rect x="356.20" y="204.05" width="10.40" height="7.60"/>
<rect x="366.60" y="196.85" width="10.40" height="14.80"/>
<rect x="377.00" y="190.75" width="10.40" height="20.90"/>
<rect x="387.40" y="165.05" width="10.40" height="46.60"/>
<rect x="397.80" y="90.85" width="10.40" height="120.80"/>
<rect x="408.20" y="78.95" width="10.40" height="132.70"/>
<rect x="418.60" y="151.65" width="10.40" height="60.00"/>
<rect x="429.00" y="186.45" width="10.40" height="25.20"/>
<rect x="439.40" y="201.65" width="10.40" height="10.00"/>
<rect x="449.80" y="207.95" width="10.40" height="3.70"/>
<rect x="460.20" y="209.65" width="10.40" height="2.00"/>
<rect x="470.60" y="210.45" width="10.40" height="1.20"/>
<rect x="481.00" y="211.05" width="10.40" height="0.60"/>
<rect x="491.40" y="211.25" width="10.40" height="0.40"/>
<rect x="522.60" y="209.95" width="10.40" height="1.70"/>
</g>
<g fill="#1f77b4" fill-opacity="0.5" stroke="#000" stroke-width="1.45">
<rect x="293.80" y="205.95" width="10.40" height="5.70"/>
<rect x="304.20" y="211.25" width="10.40" height="0.40"/>
<rect x="314.60" y="208.05" width="10.40" height="3.60"/>
<rect x="325.00" y="209.65" width="10.40" height="2.00"/>
<rect x="335.40" y="208.25" width="10.40" height="3.40"/>
<rect x="345.80" y="205.75" width="10.40" height="5.90"/>
<rect x="356.20" y="202.65" width="10.40" height="9.00"/>
<rect x="366.60" y="197.65" width="10.40" height="14.00"/>
<rect x="377.00" y="188.15" width="10.40" height="23.50"/>
<rect x="387.40" y="152.15" width="10.40" height="59.50"/>
<rect x="397.80" y="126.65" width="10.40" height="85.00"/>
<rect x="408.20" y="114.65" width="10.40" height="97.00"/>
<rect x="418.60" y="152.45" width="10.40" height="59.20"/>
<rect x="429.00" y="173.95" width="10.40" height="37.70"/>
<rect x="439.40" y="184.95" width="10.40" height="26.70"/>
<rect x="449.80" y="196.35" width="10.40" height="15.30"/>
<rect x="460.20" y="205.15" width="10.40" height="6.50"/>
<rect x="470.60" y="208.65" width="10.40" height="3.00"/>
<rect x="481.00" y="210.35" width="10.40" height="1.30"/>
<rect x="491.40" y="210.95" width="10.40" height="0.70"/>
</g>
<path d="M293.5,211.3L294.0,211.3L294.5,211.3L295.0,211.3L295.5,211.3L296.0,211.3L296.5,211.3L297.0,211.3L297.5,211.3L298.0,211.3L298.5,211.3L299.0,211.3L299.5,211.3L300.0,211.3L300.5,211.3L301.0,211.3L301.5,211.3L302.0,211.3L302.5,211.3L303.0,211.3L303.5,211.2L304.0,211.2L304.5,211.2L305.0,211.2L305.5,211.2L306.0,211.2L306.5,211.2L307.0,211.2L307.5,211.2L308.0,211.2L308.5,211.2L309.0,211.2L309.5,211.2L310.0,211.2L310.5,211.2L311.0,211.2L311.5,211.1L312.0,211.1L312.5,211.1L313.0,211.1L313.5,211.1L314.0,211.1L314.5,211.1L315.0,211.1L315.5,211.1L316.0,211.1L316.5,211.1L317.0,211.1L317.5,211.0L318.0,211.0L318.5,211.0L319.0,211.0L319.5,211.0L320.0,211.0L320.5,211.0L321.0,211.0L321.5,211.0L322.0,211.0L322.5,210.9L323.0,210.9L323.5,210.9L324.0,210.9L324.5,210.9L325.0,210.9L325.5,210.9L326.0,210.8L326.5,210.8L327.0,210.8L327.5,210.8L328.0,210.8L328.5,210.7L329.0,210.7L329.5,210.7L330.0,210.7L330.5,210.6L331.0,210.6L331.5,210.6L332.0,210.6L332.5,210.5L333.0,210.5L333.5,210.5L334.0,210.4L334.5,210.4L335.0,210.4L335.5,210.3L336.0,210.3L336.5,210.3L337.0,210.2L337.5,210.2L338.0,210.2L338.5,210.1L339.0,210.1L339.5,210.1L340.0,210.0L340.5,210.0L341.0,209.9L341.5,209.9L342.0,209.8L342.5,209.8L343.0,209.7L343.5,209.7L344.0,209.6L344.5,209.6L345.0,209.5L345.5,209.4L346.0,209.3L346.5,209.3L347.0,209.2L347.5,209.1L348.0,208.9L348.5,208.8L349.0,208.7L349.5,208.6L350.0,208.5L350.5,208.3L351.0,208.2L351.5,208.0L352.0,207.9L352.5,207.8L353.0,207.6L353.5,207.5L354.0,207.3L354.5,207.1L355.0,207.0L355.5,206.8L356.0,206.7L356.5,206.5L357.0,206.3L357.5,206.1L358.0,205.9L358.5,205.7L359.0,205.5L359.5,205.3L360.0,205.1L360.5,204.9L361.0,204.6L361.5,204.4L362.0,204.2L362.5,203.9L363.0,203.7L363.5,203.4L364.0,203.1L364.5,202.9L365.0,202.6L365.5,202.3L366.0,202.1L366.5,201.8L367.0,201.5L367.5,201.2L368.0,200.9L368.5,200.6L369.0,200.2L369.5,199.9L370.0,199.6L370.5,199.2L371.0,198.9L371.5,198.5L372.0,198.1L372.5,197.8L373.0,197.4L373.5,197.0L374.0,196.5L374.5,196.1L375.0,195.7L375.5,195.2L376.0,194.8L376.5,194.3L377.0,193.8L377.5,193.3L378.0,192.7L378.5,192.1L379.0,191.6L379.5,191.0L380.0,190.3L380.5,189.7L381.0,189.0L381.5,188.3L382.0,187.6L382.5,186.9L383.0,186.1L383.5,185.3L384.0,184.5L384.5,183.7L385.0,182.9L385.5,182.1L386.0,181.2L386.5,180.3L387.0,179.3L387.5,178.3L388.0,177.3L388.5,176.2L389.0,175.0L389.5,173.8L390.0,172.4L390.5,170.9L391.0,169.3L391.5,167.5L392.0,165.6L392.5,163.5L393.0,161.3L393.5,158.8L394.0,156.1L394.5,153.1L395.0,149.8L395.5,146.3L396.0,142.5L396.5,138.4L397.0,134.1L397.5,129.6L398.0,125.1L398.5,120.7L399.0,116.5L399.5,112.6L400.0,109.0L400.5,105.7L401.0,102.5L401.5,99.3L402.0,96.2L402.5,93.2L403.0,90.4L403.5,87.7L404.0,85.0L404.5,82.5L405.0,79.9L405.5,77.5L406.0,75.3L406.5,73.4L407.0,71.9L407.5,70.8L408.0,70.3L408.5,70.3L409.0,71.0L409.5,72.1L410.0,73.6L410.5,75.4L411.0,77.5L411.5,79.6L412.0,81.8L412.5,83.9L413.0,86.0L413.5,88.1L414.0,90.3L414.5,92.5L415.0,94.8L415.5,97.2L416.0,99.6L416.5,102.1L417.0,104.6L417.5,107.2L418.0,109.9L418.5,112.8L419.0,116.1L419.5,119.7L420.0,123.5L420.5,127.5L421.0,131.4L421.5,135.3L422.0,139.0L422.5,142.4L423.0,145.7L423.5,148.7L424.0,151.4L424.5,153.9L425.0,156.3L425.5,158.6L426.0,160.8L426.5,162.9L427.0,164.9L427.5,166.9L428.0,168.7L428.5,170.5L429.0,172.2L429.5,173.9L430.0,175.5L430.5,177.0L431.0,178.4L431.5,179.8L432.0,181.0L432.5,182.3L433.0,183.4L433.5,184.6L434.0,185.7L434.5,186.7L435.0,187.8L435.5,188.8L436.0,189.8L436.5,190.7L437.0,191.6L437.5,192.5L438.0,193.4L438.5,194.2L439.0,195.0L439.5,195.8L440.0,196.6L440.5,197.3L441.0,198.0L441.5,198.6L442.0,199.3L442.5,199.9L443.0,200.5L443.5,201.0L444.0,201.6L444.5,202.1L445.0,202.5L445.5,203.0L446.0,203.4L446.5,203.9L447.0,204.3L447.5,204.7L448.0,205.1L448.5,205.4L449.0,205.7L449.5,206.0L450.0,206.3L450.5,206.6L451.0,206.8L451.5,207.0L452.0,207.2L452.5,207.4L453.0,207.6L453.5,207.8L454.0,208.0L454.5,208.1L455.0,208.3L455.5,208.4L456.0,208.6L456.5,208.7L457.0,208.8L457.5,208.9L458.0,209.0L458.5,209.1L459.0,209.2L459.5,209.3L460.0,209.3L460.5,209.4L461.0,209.5L461.5,209.5L462.0,209.6L462.5,209.7L463.0,209.7L463.5,209.8L464.0,209.8L464.5,209.9L465.0,209.9L465.5,209.9L466.0,210.0L466.5,210.0L467.0,210.0L467.5,210.1L468.0,210.1L468.5,210.1L469.0,210.2L469.5,210.2L470.0,210.2L470.5,210.2L471.0,210.3L471.5,210.3L472.0,210.3L472.5,210.3L473.0,210.3L473.5,210.4L474.0,210.4L474.5,210.4L475.0,210.4L475.5,210.4L476.0,210.5L476.5,210.5L477.0,210.5L477.5,210.5L478.0,210.5L478.5,210.5L479.0,210.6L479.5,210.6L480.0,210.6L480.5,210.6L481.0,210.6L481.5,210.6L482.0,210.7L482.5,210.7L483.0,210.7L483.5,210.7L484.0,210.7L484.5,210.7L485.0,210.8L485.5,210.8L486.0,210.8L486.5,210.8L487.0,210.8L487.5,210.8L488.0,210.8L488.5,210.9L489.0,210.9L489.5,210.9L490.0,210.9L490.5,210.9L491.0,210.9L491.5,210.9L492.0,210.9L492.5,211.0L493.0,211.0L493.5,211.0L494.0,211.0L494.5,211.0L495.0,211.0L495.5,211.0L496.0,211.0L496.5,211.0L497.0,211.0L497.5,211.0L498.0,211.1L498.5,211.1L499.0,211.1L499.5,211.1L500.0,211.1L500.5,211.1L501.0,211.1L501.5,211.1L502.0,211.1L502.5,211.1L503.0,211.1L503.5,211.1L504.0,211.1L504.5,211.2L505.0,211.2L505.5,211.2L506.0,211.2L506.5,211.2L507.0,211.2L507.5,211.2L508.0,211.2L508.5,211.2L509.0,211.2L509.5,211.2L510.0,211.2L510.5,211.2L511.0,211.2L511.5,211.2L512.0,211.2L512.5,211.2L513.0,211.3L513.5,211.3L514.0,211.3L514.5,211.3L515.0,211.3L515.5,211.3L516.0,211.3L516.5,211.3L517.0,211.3L517.5,211.3L518.0,211.3L518.5,211.3L519.0,211.3L519.5,211.3L520.0,211.3L520.5,211.3" fill="none" stroke="#ff7f0e" stroke-width="2.2" stroke-linejoin="round"/>
<path d="M293.5,209.3L294.0,209.3L294.5,209.3L295.0,209.3L295.5,209.3L296.0,209.2L296.5,209.2L297.0,209.2L297.5,209.2L298.0,209.2L298.5,209.2L299.0,209.2L299.5,209.2L300.0,209.1L300.5,209.1L301.0,209.1L301.5,209.1L302.0,209.1L302.5,209.1L303.0,209.1L303.5,209.0L304.0,209.0L304.5,209.0L305.0,209.0L305.5,209.0L306.0,209.0L306.5,209.0L307.0,208.9L307.5,208.9L308.0,208.9L308.5,208.9L309.0,208.9L309.5,208.9L310.0,208.8L310.5,208.8L311.0,208.8L311.5,208.8L312.0,208.8L312.5,208.8L313.0,208.7L313.5,208.7L314.0,208.7L314.5,208.7L315.0,208.7L315.5,208.7L316.0,208.6L316.5,208.6L317.0,208.6L317.5,208.6L318.0,208.6L318.5,208.6L319.0,208.5L319.5,208.5L320.0,208.5L320.5,208.5L321.0,208.5L321.5,208.4L322.0,208.4L322.5,208.4L323.0,208.4L323.5,208.4L324.0,208.4L324.5,208.4L325.0,208.3L325.5,208.3L326.0,208.3L326.5,208.3L327.0,208.3L327.5,208.3L328.0,208.2L328.5,208.2L329.0,208.2L329.5,208.2L330.0,208.2L330.5,208.1L331.0,208.1L331.5,208.1L332.0,208.1L332.5,208.1L333.0,208.0L333.5,208.0L334.0,208.0L334.5,207.9L335.0,207.9L335.5,207.9L336.0,207.8L336.5,207.8L337.0,207.7L337.5,207.7L338.0,207.6L338.5,207.6L339.0,207.5L339.5,207.4L340.0,207.3L340.5,207.3L341.0,207.2L341.5,207.1L342.0,207.0L342.5,206.9L343.0,206.8L343.5,206.7L344.0,206.6L344.5,206.5L345.0,206.4L345.5,206.3L346.0,206.2L346.5,206.1L347.0,205.9L347.5,205.8L348.0,205.7L348.5,205.6L349.0,205.4L349.5,205.3L350.0,205.1L350.5,205.0L351.0,204.8L351.5,204.7L352.0,204.5L352.5,204.3L353.0,204.2L353.5,204.0L354.0,203.8L354.5,203.6L355.0,203.4L355.5,203.2L356.0,203.0L356.5,202.8L357.0,202.6L357.5,202.3L358.0,202.1L358.5,201.9L359.0,201.6L359.5,201.3L360.0,201.1L360.5,200.8L361.0,200.5L361.5,200.2L362.0,199.9L362.5,199.7L363.0,199.3L363.5,199.0L364.0,198.7L364.5,198.4L365.0,198.1L365.5,197.8L366.0,197.5L366.5,197.1L367.0,196.8L367.5,196.5L368.0,196.1L368.5,195.8L369.0,195.4L369.5,195.1L370.0,194.7L370.5,194.4L371.0,194.0L371.5,193.6L372.0,193.2L372.5,192.8L373.0,192.4L373.5,192.0L374.0,191.5L374.5,191.1L375.0,190.6L375.5,190.1L376.0,189.6L376.5,189.1L377.0,188.5L377.5,187.9L378.0,187.2L378.5,186.6L379.0,185.8L379.5,185.1L380.0,184.3L380.5,183.5L381.0,182.7L381.5,181.8L382.0,180.9L382.5,180.1L383.0,179.2L383.5,178.3L384.0,177.4L384.5,176.5L385.0,175.5L385.5,174.5L386.0,173.5L386.5,172.5L387.0,171.4L387.5,170.4L388.0,169.4L388.5,168.4L389.0,167.5L389.5,166.5L390.0,165.6L390.5,164.8L391.0,163.9L391.5,163.0L392.0,162.1L392.5,161.1L393.0,160.1L393.5,159.1L394.0,158.0L394.5,156.9L395.0,155.7L395.5,154.4L396.0,153.2L396.5,151.9L397.0,150.5L397.5,149.0L398.0,147.5L398.5,145.8L399.0,144.1L399.5,142.2L400.0,140.4L400.5,138.7L401.0,137.0L401.5,135.4L402.0,133.9L402.5,132.6L403.0,131.3L403.5,130.2L404.0,129.2L404.5,128.3L405.0,127.5L405.5,126.9L406.0,126.3L406.5,125.9L407.0,125.6L407.5,125.4L408.0,125.3L408.5,125.3L409.0,125.4L409.5,125.6L410.0,125.9L410.5,126.2L411.0,126.6L411.5,127.1L412.0,127.7L412.5,128.3L413.0,129.1L413.5,130.0L414.0,131.0L414.5,132.1L415.0,133.4L415.5,134.8L416.0,136.2L416.5,137.6L417.0,139.1L417.5,140.6L418.0,142.1L418.5,143.6L419.0,145.2L419.5,146.7L420.0,148.2L420.5,149.6L421.0,151.1L421.5,152.5L422.0,153.9L422.5,155.3L423.0,156.7L423.5,158.0L424.0,159.3L424.5,160.6L425.0,161.7L425.5,162.8L426.0,163.8L426.5,164.7L427.0,165.5L427.5,166.3L428.0,167.1L428.5,167.8L429.0,168.5L429.5,169.1L430.0,169.7L430.5,170.3L431.0,170.8L431.5,171.4L432.0,171.9L432.5,172.4L433.0,172.9L433.5,173.5L434.0,174.0L434.5,174.6L435.0,175.1L435.5,175.7L436.0,176.2L436.5,176.8L437.0,177.3L437.5,177.9L438.0,178.5L438.5,179.0L439.0,179.6L439.5,180.1L440.0,180.7L440.5,181.2L441.0,181.7L441.5,182.3L442.0,182.8L442.5,183.4L443.0,183.9L443.5,184.4L444.0,184.9L444.5,185.5L445.0,186.0L445.5,186.5L446.0,187.0L446.5,187.6L447.0,188.1L447.5,188.6L448.0,189.1L448.5,189.6L449.0,190.1L449.5,190.6L450.0,191.1L450.5,191.6L451.0,192.1L451.5,192.6L452.0,193.1L452.5,193.6L453.0,194.1L453.5,194.6L454.0,195.0L454.5,195.5L455.0,196.0L455.5,196.5L456.0,197.0L456.5,197.4L457.0,197.9L457.5,198.3L458.0,198.7L458.5,199.2L459.0,199.6L459.5,199.9L460.0,200.3L460.5,200.7L461.0,201.0L461.5,201.4L462.0,201.7L462.5,202.1L463.0,202.4L463.5,202.7L464.0,203.1L464.5,203.4L465.0,203.7L465.5,204.0L466.0,204.3L466.5,204.6L467.0,204.9L467.5,205.1L468.0,205.4L468.5,205.6L469.0,205.9L469.5,206.1L470.0,206.3L470.5,206.5L471.0,206.7L471.5,206.8L472.0,207.0L472.5,207.1L473.0,207.3L473.5,207.4L474.0,207.6L474.5,207.7L475.0,207.8L475.5,207.9L476.0,208.1L476.5,208.2L477.0,208.3L477.5,208.4L478.0,208.5L478.5,208.6L479.0,208.7L479.5,208.8L480.0,208.9L480.5,209.0L481.0,209.0L481.5,209.1L482.0,209.2L482.5,209.3L483.0,209.3L483.5,209.4L484.0,209.4L484.5,209.5L485.0,209.6L485.5,209.6L486.0,209.7L486.5,209.7L487.0,209.8L487.5,209.8L488.0,209.9L488.5,209.9L489.0,210.0L489.5,210.0L490.0,210.0L490.5,210.1L491.0,210.1L491.5,210.2L492.0,210.2L492.5,210.2L493.0,210.3L493.5,210.3L494.0,210.3L494.5,210.4L495.0,210.4L495.5,210.4L496.0,210.5L496.5,210.5L497.0,210.5L497.5,210.5L498.0,210.6L498.5,210.6L499.0,210.6L499.5,210.6L500.0,210.7L500.5,210.7L501.0,210.7" fill="none" stroke="#1f77b4" stroke-width="2.2" stroke-linejoin="round"/>
<g stroke="#000" stroke-width="1.95" fill="none" stroke-linecap="square">
<path d="M282.5,30.8V211.65H545.0"/>
</g>
<g stroke="#000" stroke-width="1.95" fill="none">
<path d="M282.5,211.7h-4.4"/>
<path d="M282.5,166.4h-4.4"/>
<path d="M282.5,121.2h-4.4"/>
<path d="M282.5,76.0h-4.4"/>
<path d="M282.5,30.8h-4.4"/>
<path d="M304.2,211.7v4.1"/>
<path d="M356.2,211.7v4.1"/>
<path d="M408.2,211.7v4.1"/>
<path d="M460.2,211.7v4.1"/>
<path d="M512.2,211.7v4.1"/>
</g>
<g font-family='"Liberation Serif","Times New Roman",Times,serif' font-size="14" fill="#000" stroke="#000" stroke-width="0.22">
<text x="273.8" y="215.8" text-anchor="end">0.00</text>
<text x="273.8" y="170.6" text-anchor="end">0.05</text>
<text x="273.8" y="125.5" text-anchor="end">0.10</text>
<text x="273.8" y="80.2" text-anchor="end">0.15</text>
<text x="273.8" y="35.0" text-anchor="end">0.20</text>
<text x="304.2" y="230.5" text-anchor="middle">−20</text>
<text x="356.2" y="230.5" text-anchor="middle">−10</text>
<text x="408.2" y="230.5" text-anchor="middle">0</text>
<text x="460.2" y="230.5" text-anchor="middle">10</text>
<text x="512.2" y="230.5" text-anchor="middle">20</text>
<text x="413.2" y="247.5" text-anchor="middle">Error</text>
<text transform="translate(240.5,121.5) rotate(-90)" text-anchor="middle">Density</text>
<text x="283" y="23.7">(b)</text>
</g>
<rect x="294.65" y="42.15" width="19.3" height="7.2" fill="#1f77b4" fill-opacity="0.5" stroke="#000" stroke-width="1.3"/>
<rect x="294.65" y="58.9" width="19.3" height="7.2" fill="#ff7f0e" fill-opacity="0.5" stroke="#000" stroke-width="1.3"/>
<g font-family='"Liberation Serif","Times New Roman",Times,serif' font-size="12.3" fill="#000" stroke="#000" stroke-width="0.2">
<text x="326.3" y="49.7">Origin</text><text x="326.3" y="66.4">Interp</text>
</g>
</svg>
</body></html>
